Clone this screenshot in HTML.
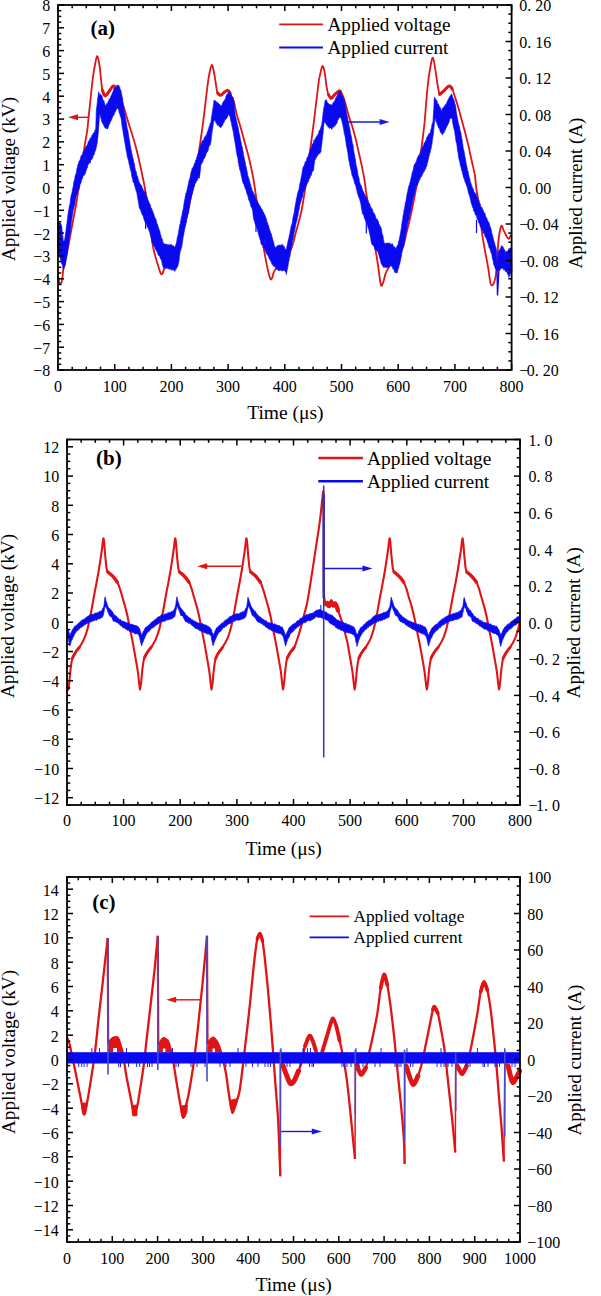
<!DOCTYPE html><html><head><meta charset="utf-8"><style>html,body{margin:0;padding:0;background:#fff;}svg{display:block;}text{font-family:"Liberation Serif",serif;fill:#000;}</style></head><body>
<svg width="601" height="1296" viewBox="0 0 601 1296">
<rect width="601" height="1296" fill="#fff"/>
<path d="M58.2,276C58.4,277.1 58.8,281.2 59.3,282.5C59.8,283.8 60.5,284.4 61,283.5C61.5,282.6 62.1,279.5 62.5,277C62.9,274.5 62.7,273 63.5,268.5C64.3,264 66.2,256.4 67.5,250C68.8,243.6 70.5,234.2 71.3,230C72.1,225.8 71.8,227.5 72.3,225C72.8,222.5 73.5,218.3 74.1,215C74.7,211.7 75.4,208.3 76,205C76.6,201.7 77,198.5 77.6,195C78.1,191.5 78.2,191.8 79.3,184C80.4,176.2 83,157 84.3,148C85.6,139 86.6,135.1 87.3,130C88,124.9 87.7,125.6 88.6,117.3C89.5,109 91.5,89 92.6,80C93.7,71 94.5,67 95.3,63C96.1,59 96.7,55.7 97.4,56.2C98.1,56.7 99,62 99.6,66C100.2,70 100.6,76 101.1,80C101.5,84 101.7,87.4 102.3,90C102.9,92.6 103.9,94.8 104.6,95.6C105.3,96.4 105.8,95.4 106.5,94.8C107.2,94.2 107.6,93.3 108.6,92C109.6,90.7 111.3,87.7 112.3,86.7C113.3,85.8 113.8,86.1 114.5,86.3C115.2,86.5 115.8,86.9 116.5,88C117.2,89.1 118.2,91.1 119,93C119.8,94.9 120.7,97.2 121.5,99.5C122.3,101.8 122.2,102.1 123.6,106.6C124.9,111.1 127.7,120.4 129.6,126.6C131.5,132.8 133.4,138.3 135,143.9C136.6,149.5 137.6,154 139,160C140.4,166 142.2,174.7 143.3,180C144.4,185.3 144.8,188 145.6,192C146.3,196 147.2,199.7 147.8,204C148.5,208.3 148.9,212.8 149.5,218C150.1,223.2 150.7,230.1 151.3,235C151.9,239.9 152.5,243.8 153.2,247.5C153.9,251.2 154.5,253.5 155.5,257C156.5,260.5 158.1,265.7 159,268.5C159.9,271.3 160.4,273.2 161,274C161.6,274.8 162,274.2 162.5,273.5C163,272.8 162.8,272.1 164,269.5C165.2,266.9 167.8,262.2 170,258C172.2,253.8 175.1,248 177,244C178.9,240 180.2,237.5 181.5,234C182.8,230.5 183.9,226.8 185,223C186.1,219.2 187.2,215 188.1,211.2C189,207.4 189.5,203.9 190.2,200.4C190.9,196.9 191.8,192.9 192.5,190C193.2,187.1 193.7,186 194.4,182.7C195.1,179.4 195.7,175.2 196.5,170C197.3,164.8 197.8,160.2 199,151.6C200.2,143 202.2,129.4 203.6,118.3C205,107.2 206.6,92.7 207.6,85C208.6,77.3 209,75.3 209.7,72C210.4,68.7 211.1,65.3 211.7,65C212.3,64.7 213,67.9 213.5,70C214,72.1 214.4,74.6 214.9,77.4C215.4,80.2 215.9,84.4 216.3,87C216.8,89.6 216.9,91.6 217.6,93C218.3,94.4 219.5,95.1 220.3,95.3C221.1,95.5 221.8,94.5 222.5,94C223.2,93.5 223.5,92.9 224.3,92.3C225.2,91.7 226.7,90.2 227.6,90.3C228.5,90.4 229.2,91.6 230,93C230.8,94.4 231.8,97 232.5,98.5C233.2,100 233.4,99.6 234.1,102.3C234.8,105 235.7,110.6 236.8,114.7C237.9,118.8 239.3,122.9 240.5,127C241.7,131.1 242.8,135.3 243.9,139.4C245,143.5 246.2,147.6 247.3,151.7C248.4,155.8 249.4,159.4 250.4,164.1C251.4,168.8 252.7,174.7 253.6,180C254.5,185.3 255.2,190.5 256,196C256.8,201.5 257.6,206.8 258.5,213C259.4,219.2 260.3,226.6 261.3,233.3C262.3,240 263.5,247 264.6,253.2C265.7,259.4 267,266.2 268,270.5C269,274.8 269.9,278.1 270.6,279.2C271.4,280.3 271.9,278.2 272.5,277C273.1,275.8 272.4,274.9 274,271.9C275.6,268.9 279.2,262.6 282,259C284.8,255.3 288.7,252.6 290.5,250C292.3,247.4 292.1,246.5 293,243.6C293.9,240.7 294.8,236.4 295.7,232.8C296.6,229.2 297.8,225.6 298.7,222C299.6,218.4 300.6,214.8 301.4,211.2C302.2,207.6 302.6,204.6 303.3,200.4C304,196.2 304.4,194.6 305.6,186C306.8,177.4 308.9,160.2 310.3,148.9C311.8,137.6 313,128.9 314.3,118.3C315.6,107.6 317.4,92.2 318.3,85C319.2,77.8 319.3,78 320,74.9C320.7,71.8 321.7,67 322.4,66.2C323.1,65.4 323.7,68.1 324.2,70C324.7,71.9 325,74.9 325.4,77.4C325.8,79.9 325.8,82.2 326.3,85C326.8,87.8 327.5,92.1 328.3,94.3C329.1,96.5 330.1,97.9 330.9,98.3C331.7,98.7 332.3,97.2 333,96.5C333.7,95.8 333.9,95.2 334.9,94.3C335.9,93.4 338,91.5 338.9,91C339.8,90.5 339.9,91 340.5,91.5C341.1,92 341.5,92.5 342.3,94.3C343.1,96.1 344.1,98.9 345.1,102.3C346.1,105.7 347.2,110.6 348.4,114.7C349.6,118.8 351.2,122.9 352.4,127C353.6,131.1 354.8,135.3 355.8,139.4C356.8,143.5 357.7,147.6 358.6,151.7C359.5,155.8 360.4,159.4 361.4,164.1C362.4,168.8 363.7,175.1 364.5,180C365.3,184.9 365.6,188.8 366.3,193.3C367,197.8 367.8,202.1 368.5,207C369.2,211.9 369.7,217.8 370.3,222.6C370.9,227.4 371.4,231.3 372.3,235.9C373.2,240.5 374.5,244.9 375.5,250C376.5,255.1 377.3,260.6 378.2,266.5C379.1,272.4 380.1,282.8 381,285.2C381.9,287.6 382.7,283.4 383.6,281.2C384.5,279 384.2,276.1 386.3,271.9C388.4,267.7 393.3,260 396,256C398.7,252 401.1,250.1 402.5,248C403.9,245.9 403.4,246.1 404.1,243.6C404.8,241.1 405.6,236.4 406.5,232.8C407.4,229.2 408.3,225.6 409.2,222C410.1,218.4 410.8,214.8 411.6,211.2C412.4,207.6 413.1,203.9 413.8,200.4C414.5,196.9 415.3,192.7 415.8,190C416.3,187.3 416.1,190.4 417,184C417.9,177.6 419.8,161.4 421,151.6C422.2,141.8 423.4,133.2 424.3,125C425.2,116.8 425.6,109.1 426.2,102.4C426.8,95.7 427.1,90.9 427.8,85C428.5,79.1 429.5,71.5 430.4,67C431.2,62.5 432,57 432.9,57.7C433.8,58.4 434.8,66.7 435.6,71.2C436.4,75.8 436.9,81.2 437.6,85C438.3,88.8 438.9,93 439.6,94.3C440.3,95.5 441.2,93.2 442,92.5C442.8,91.8 443.2,91.3 444.3,90.3C445.4,89.3 447.3,86.9 448.3,86.3C449.3,85.7 449.8,86 450.5,86.5C451.2,87 451.6,87.2 452.3,89C453.1,90.8 454,94 455,97C456,100 457.1,103.5 458.2,107.3C459.3,111.1 460.5,115.6 461.6,119.7C462.7,123.8 463.9,127.9 465,132C466.1,136.1 467.1,140.3 468.1,144.4C469.1,148.5 469.9,152.6 470.8,156.7C471.7,160.8 472.9,165.9 473.6,169.1C474.3,172.3 474.5,172.5 475,176C475.5,179.5 475.9,185.8 476.5,190C477.1,194.2 477.9,196.8 478.5,201C479.1,205.2 479.4,209.7 480,215C480.6,220.3 481.2,226.9 482,232.9C482.8,238.9 484,245.2 485,250.8C486,256.4 487.1,261.5 488,266.8C488.9,272.1 489.8,279.7 490.4,282.8C491,285.9 491.3,285.3 491.9,285.3C492.5,285.3 493.2,284.6 493.9,282.8C494.6,281.1 495.3,279.5 495.9,274.8C496.5,270.1 496.9,261.1 497.4,254.8C497.9,248.5 498.2,241.7 498.9,236.9C499.6,232.1 500.6,226.9 501.4,225.9C502.2,224.9 503,229.1 503.9,230.9C504.8,232.7 506.1,235.6 506.9,236.9C507.7,238.2 508.2,239.2 508.9,238.9C509.6,238.6 510.6,235.6 510.9,234.9" fill="none" stroke="#e01414" stroke-width="1.8" stroke-linejoin="round"/>
<path d="M102.3,90C102.7,90.9 103.9,94.8 104.6,95.6C105.3,96.4 105.8,95.4 106.5,94.8C107.2,94.2 107.6,93.3 108.6,92C109.6,90.7 111.3,87.7 112.3,86.7C113.3,85.8 113.8,86.1 114.5,86.3C115.2,86.5 116.2,87.7 116.5,88" fill="none" stroke="#e01414" stroke-width="3" stroke-linecap="round" stroke-linejoin="round"/>
<path d="M217.6,93C218.1,93.4 219.5,95.1 220.3,95.3C221.1,95.5 221.8,94.5 222.5,94C223.2,93.5 223.5,92.9 224.3,92.3C225.2,91.7 226.7,90.2 227.6,90.3C228.5,90.4 229.6,92.5 230,93" fill="none" stroke="#e01414" stroke-width="3" stroke-linecap="round" stroke-linejoin="round"/>
<path d="M328.3,94.3C328.7,95 330.1,97.9 330.9,98.3C331.7,98.7 332.3,97.2 333,96.5C333.7,95.8 333.9,95.2 334.9,94.3C335.9,93.4 338,91.5 338.9,91C339.8,90.5 340.2,91.4 340.5,91.5" fill="none" stroke="#e01414" stroke-width="3" stroke-linecap="round" stroke-linejoin="round"/>
<path d="M439.6,94.3C440,94 441.2,93.2 442,92.5C442.8,91.8 443.2,91.3 444.3,90.3C445.4,89.3 447.3,86.9 448.3,86.3C449.3,85.7 449.8,86 450.5,86.5C451.2,87 452,88.6 452.3,89" fill="none" stroke="#e01414" stroke-width="3" stroke-linecap="round" stroke-linejoin="round"/>
<path d="M58,221.1 58.5,221.3 58.9,221 59.4,222.3 59.8,222.6 60.2,222.9 60.7,224.1 60.8,223.5 61.1,224.5 61.6,225.5 61.9,227.8 62,229.1 62.5,234.6 62.7,235.4 63,237.5 63.4,242.2 63.6,241.5 63.9,240.9 64.3,240.4 64.4,240.3 64.8,238.9 65.2,236.1 65.7,232.1 65.9,231.4 66.1,229.6 66.5,226 67,223 67.1,221.4 67.5,218.9 67.9,214.9 68.3,212.3 68.4,211.7 68.8,209.7 69.2,206.8 69.7,204.7 70.2,202.5 70.6,198.5 71,195.9 71.1,195.9 71.5,194.1 72,192.6 72.4,190.4 72.8,188 73.3,186.1 73.7,182.7 73.8,183.2 74.2,180.4 74.7,179.3 75.1,176.3 75.5,174.5 76,174.3 76.5,172 76.9,168.7 77.3,167.7 77.8,164.8 78.2,164.1 78.4,164.2 78.7,162.3 79.2,160.9 79.6,160.8 80,160 80.5,158.4 81,156.1 81.4,155.4 81.8,155.5 81.9,155.1 82.3,154.6 82.8,153.9 83.2,151.5 83.7,151.9 84.1,150.2 84.5,149.6 85,149.2 85.5,147.3 85.9,147.6 86,146.3 86.3,146.8 86.8,145.4 87.2,145 87.7,144 88.2,141.8 88.6,141.3 89,141.5 89.5,139.5 90,140.1 90,139.5 90.4,138 90.8,137.6 91.3,137.8 91.8,135.2 92.2,136 92.7,135.1 93.1,133.2 93.5,133.3 94,132.6 94.1,132.9 94.5,132.1 94.9,130.3 95.3,130.2 95.7,128.8 95.8,126.5 96.2,114.2 96.4,109.1 96.7,107.5 97.2,103.5 97.6,99.1 98,96.6 98.4,93.3 98.5,91.8 99,92.5 99.4,94.2 99.8,94.8 100.3,94.2 100.8,94.3 101.2,96.3 101.7,95.3 102,95.8 102.1,96.6 102.5,98.1 103,99.9 103.5,101.2 103.9,100.4 104.2,102.5 104.3,102.2 104.8,104.5 105.2,104.8 105.3,105.4 105.7,105.5 106.2,105.2 106.6,103.5 107,104.2 107.5,103.3 108,102.1 108.1,101.3 108.4,101.1 108.8,100.9 109.3,98.6 109.8,99.1 110.2,98.5 110.7,97 111.1,95.7 111.2,96.2 111.5,95.2 112,93.8 112.5,92.4 112.9,92.2 113.3,90.7 113.8,88.7 114.1,87.7 114.2,88.3 114.7,87.8 115.2,87.6 115.6,88.1 116,88 116.5,87.6 117,85.4 117.4,85.5 117.6,84.8 117.8,86.6 118.3,85.1 118.5,85.3 118.8,85.3 119.2,87.2 119.7,86.8 120.1,89.7 120.5,89.8 120.6,89.5 121,91 121.5,93.4 121.9,95.4 122.3,97.3 122.6,98.2 122.8,101 123.2,104 123.6,106.5 123.7,107.1 124.2,110.6 124.6,112.4 125,114.7 125.5,117.9 125.8,119.5 126,120.8 126.4,122.9 126.8,125.4 127.3,128.9 127.8,130.3 128,131 128.2,132.4 128.7,135.4 129.1,138.7 129.6,140.7 130,143.6 130.1,144.5 130.4,145.4 130.9,149.2 131.3,150 131.8,153.7 132.2,154.8 132.6,156.7 132.7,157.7 133.2,158.7 133.6,161.1 134.1,162.9 134.5,164.3 134.9,167.6 135.4,170.1 135.8,171.2 136.3,172.1 136.8,174.7 137.2,176.4 137.7,176.6 138.1,178.8 138.6,180.9 138.6,180.2 139,182.1 139.4,182.2 139.9,184 140.3,184.3 140.8,184.4 141.2,185 141.7,185.9 142.2,187.7 142.6,188.1 143.1,189.5 143.5,190.7 143.9,190.8 144.4,190.9 144.8,191.7 145.3,192.8 145.3,192.4 145.8,194.8 146.2,196.1 146.7,196.6 147.1,198.1 147.6,199.3 148,200 148.4,200.7 148.9,202.1 149.3,203.5 149.8,203.6 150.2,204.4 150.7,206.6 150.8,207.5 151.2,208.5 151.6,207.9 152.1,210.7 152.5,210.5 152.9,211.9 153.4,213.5 153.8,213.7 154.3,216.3 154.8,217.2 155.2,217.7 155.7,219.7 156.1,219.2 156.2,220.5 156.6,222 157,223.7 157.4,224 157.9,225.8 158.3,227 158.8,228.4 159.2,229.6 159.7,230.7 160.2,232.8 160.2,233.9 160.6,234.5 161.1,236.5 161.5,238.1 161.9,238.6 162.4,239.4 162.8,241.8 163.3,243 163.8,244.1 163.8,243.5 164.2,244 164.7,244 165.1,243.8 165.6,244.7 166,244.1 166.4,244 166.9,245.8 167,244.1 167.3,244.6 167.8,245.8 168.2,245.1 168.7,244.8 169.2,244.3 169.6,245.4 170.1,245 170.5,244.4 170.9,244.6 171.4,244.3 171.6,245.3 171.8,245.1 172.3,246.3 172.8,245.5 173.2,245.6 173.7,246.3 174.1,246.5 174.6,247.8 175,246.7 175.4,246.8 175.6,246.9 175.9,246.4 176.3,243.7 176.4,244.4 176.8,240.7 177.2,238 177.7,236.2 178.2,234.4 178.6,231.4 179.1,228.9 179.5,226.2 179.9,224.4 180.3,223.5 180.4,221.5 180.8,220.8 181.3,217.1 181.8,216.1 182.2,213.6 182.7,210.4 183,210 183.1,209.5 183.6,206.4 184,203.6 184.4,201 184.9,198.9 185.3,196 185.8,194.5 185.9,193.1 186.2,193.4 186.7,191.4 187.2,188.9 187.6,187.6 188.1,184.9 188.4,183.7 188.5,183.5 188.9,181 189.4,179.7 189.8,178.3 190.3,176.3 190.8,173.5 191.2,171.5 191.7,171 191.7,169.5 192.1,168.3 192.6,168.2 193,167.1 193.4,166.8 193.9,165.1 194.3,164.1 194.8,162.9 195.2,163 195.7,160.1 195.7,160.9 196.2,159.8 196.6,157.6 197.1,156.6 197.5,155.3 197.9,153.5 198.4,153.3 198.8,150.9 199.3,149.7 199.8,147.2 200.2,145.8 200.7,145.7 201.1,143.8 201.2,144.4 201.6,143.1 202,141.5 202.4,140.6 202.9,140.7 203.3,140.2 203.8,139.7 204.2,138.1 204.7,136.7 205.2,137.5 205.6,135.5 206.1,136.2 206.5,135.1 206.6,134.8 206.9,132.9 207.4,132.3 207.8,130.9 208.3,129 208.8,128.6 209.2,126 209.7,125.9 210.1,123.7 210.6,122.9 211,121.6 211.4,117.9 211.9,115.1 212.3,112.2 212.4,111.8 212.8,108.8 213.2,106.4 213.7,103.2 214,100 214.2,100.1 214.6,100.7 215.1,100.4 215.5,101.2 215.9,101 216.4,102.6 216.8,101.9 217.3,102.2 217.6,102.2 217.8,103.5 218.2,104 218.7,103.2 219.1,105.1 219.6,104 220,104.6 220.4,106.6 220.9,106.8 221.3,105.1 221.8,105.3 222.2,104.8 222.7,102.6 223.2,102.7 223.6,101.2 224.1,101.8 224.1,101.2 224.5,99.7 224.9,100.1 225.4,98.9 225.8,97 226.3,95.6 226.8,94.6 227.2,95.3 227.3,94.3 227.7,93.3 228.1,93.2 228.6,92.2 229,92.5 229.4,92.1 229.6,91.8 229.9,92.6 230.3,92.5 230.8,93.5 231.2,94.4 231.7,96.2 232.2,97.1 232.6,98 232.9,97.3 233.1,97.6 233.5,99.5 233.9,102.9 234,103.2 234.4,105.5 234.8,111.2 235.2,114.2 235.3,115.5 235.8,117.2 236.2,119.1 236.7,121.2 237.1,122.8 237.6,126 238,126.6 238.4,128.5 238.9,132.1 239.3,133.8 239.8,135.4 240.2,138.3 240.5,140 240.7,141.1 241.2,142.6 241.6,145.8 242.1,146.2 242.5,148.6 242.9,151 243,151 243.4,153.5 243.8,156.3 244.3,158.2 244.8,160.7 245.2,162.1 245.4,163.5 245.7,165.8 246.1,166.6 246.6,169.1 247,171.2 247.4,173.2 247.9,176.2 248.3,176.7 248.8,178.2 249.1,179.6 249.2,179.9 249.7,181.4 250.2,183.5 250.6,184.3 251.1,187 251.5,187.9 251.9,189.1 252.4,191.5 252.5,191 252.8,191.3 253.3,192.4 253.8,194.2 254.2,193.9 254.7,195.5 255.1,197.2 255.6,197.6 256,198.8 256.4,199.9 256.9,201.3 257.4,201.1 257.6,202.3 257.8,202.5 258.2,203.1 258.7,203.3 259.1,205.8 259.6,205.3 260.1,205.6 260.5,207.2 260.9,207.6 261.4,208.9 261.9,209.3 262.3,209.5 262.8,211.2 263.2,212.1 263.6,211.9 264.1,213.7 264.6,215 265,215.2 265.4,217.1 265.9,217.4 266.4,219.2 266.6,219.4 266.8,221.6 267.2,221.9 267.7,222.9 268.1,225.7 268.6,225.3 269.1,228.1 269.2,228 269.5,229.5 269.9,230.3 270.4,231.5 270.9,234 271.3,233.6 271.8,236.1 272.2,237.3 272.6,238.4 272.6,239.1 273.1,241 273.6,242 274,244 274.4,246.3 274.6,246.2 274.9,247 275.4,247.4 275.8,246.9 276.2,247.2 276.7,246.9 277.1,245.6 277.6,246.3 278.1,245.2 278.5,245.4 278.6,246.8 278.9,244.9 279.4,244.9 279.9,246.5 280.3,244.8 280.8,245.7 281.2,245.5 281.6,244.4 282.1,245.8 282.6,245.2 282.6,244.3 283,245.3 283.4,246.4 283.9,246 284.4,247 284.8,248 285.2,249.6 285.7,249.2 286,250 286.1,249.8 286.6,248.2 287.1,245.3 287.5,244.2 287.9,241.6 288,241 288.4,239.6 288.9,238 289.3,235.3 289.8,233.7 290.2,230.9 290.6,229.4 291.1,226.5 291.3,225.7 291.6,224.9 292,223.7 292.4,221.7 292.9,217.9 293.4,215.9 293.8,214 294,213.6 294.2,212.3 294.7,208.8 295.1,206.3 295.6,203.6 296.1,200.8 296.4,198.5 296.5,199.2 296.9,197.3 297.4,194 297.9,192.4 298.3,190.6 298.8,190.5 298.9,189.9 299.2,187.9 299.6,185.2 300.1,182.5 300.6,181.2 301,178 301.4,176.5 301.9,174.2 302.4,170.6 302.8,168.5 303,167.3 303.2,167.3 303.7,166.1 304.1,165.6 304.6,164.3 305.1,162.5 305.5,161.3 305.9,161.8 306.4,160.7 306.9,158.3 307.1,158 307.3,157.3 307.8,157.2 308.2,155.7 308.6,154.9 309.1,152.6 309.6,152.3 310,150.6 310.4,148.8 310.9,149 311.4,147.4 311.8,145.8 312.2,144.3 312.7,144.2 313.1,143.2 313.6,142.5 313.9,140.1 314.1,141.5 314.5,140.8 314.9,139.1 315.4,138.5 315.9,137.4 316.3,137.5 316.8,135.8 317.2,136.4 317.6,135.4 318,134 318.1,134.9 318.6,133.3 319,131.3 319.4,130.3 319.9,130 320.4,129.1 320.8,127.5 321.2,125.7 321.7,125.3 322.1,122.1 322.6,117.2 323,114.2 323.1,113.1 323.5,110.2 323.9,107.4 324.4,105.5 324.9,101.8 325.3,100 325.3,100 325.8,100.3 326.2,99.7 326.6,100.3 327.1,102.1 327.6,102.4 328,102.9 328.4,103.4 328.9,103.8 329.4,104.2 329.8,104.9 330.2,104.5 330.7,104.3 331.1,105.2 331.6,104.9 332.1,104.8 332.5,104.8 332.9,102.9 333.4,102 333.9,102.4 334.3,102.2 334.8,100.5 335.2,99.8 335.4,99.5 335.6,98 336.1,97.7 336.6,96.4 337,96.9 337.4,94.9 337.9,93.5 338.4,93.9 338.7,93.1 338.8,91.8 339.2,91.3 339.7,92.8 340.1,91.5 340.4,92.4 340.6,91.6 341.1,92.8 341.5,94.6 341.9,95.6 342.4,95.5 342.8,97 342.9,96.5 343.3,98.5 343.8,99.9 344.2,99.9 344.6,101.8 344.7,102.3 345.1,104.5 345.6,106.6 346,109.2 346.4,111.3 346.9,114.9 347.4,116.4 347.8,119 348.2,120.9 348.7,123.3 349.1,125.6 349.3,126.2 349.6,127.6 350.1,130.4 350.5,132.9 350.9,134.8 351.4,136.8 351.8,139.6 351.9,139.8 352.3,142.9 352.8,144.2 353.2,146.2 353.6,150 354,152.4 354.1,152.9 354.6,155.1 355,158 355.4,159.3 355.9,163.8 356.1,164.5 356.4,166.2 356.8,167.4 357.2,169.5 357.7,173 358.1,175.6 358.4,176.1 358.6,176.9 359.1,178.5 359.4,181.9 359.5,182.1 359.9,183.1 360.4,184.2 360.9,185.4 361.3,185.6 361.8,187 362.2,188.9 362.6,190.2 363.1,191.1 363.6,192.5 364,192.5 364,193.4 364.4,193.9 364.9,194.3 365.4,195.9 365.8,197.3 366.2,196.9 366.7,197.8 367.1,199.9 367.6,200.4 368.1,200.5 368.5,202.4 368.6,203.2 368.9,204.2 369.4,203.3 369.9,204.5 370.3,206.2 370.8,206.8 371.2,207.8 371.6,209.1 372.1,208.6 372.6,210.2 373,211.9 373.3,213 373.4,212.4 373.9,213.4 374.4,213.5 374.8,214.5 375.2,215.6 375.7,217.4 376.1,218.3 376.6,218.9 377.1,219.9 377.4,219.3 377.5,220.3 377.9,221.1 378.4,221.3 378.9,223.8 379.3,224.3 379.8,226 380.2,225.8 380.6,228.3 380.9,227.3 381.1,228 381.6,229.9 382,233.1 382.4,234.6 382.9,235.5 383.4,239.2 383.8,241 384.2,243.5 384.3,243 384.7,243.7 385.1,243.1 385.6,244.1 386.1,243.1 386.5,243.7 386.9,242.7 387.4,244.2 387.9,242.7 388.3,243.9 388.8,243.1 388.9,243.1 389.2,243.9 389.6,242.7 390.1,243.8 390.6,243.9 391,244.5 391.4,244.1 391.9,243.9 392.3,243.5 392.4,244.3 392.8,244.3 393.2,246.2 393.7,246.4 394.1,246.9 394.6,246.7 395.1,247.7 395.5,248.7 395.6,250.2 395.9,248.7 396.4,247.1 396.9,247.1 397.3,245.6 397.8,244.8 398.2,244.8 398.3,242.6 398.6,241.3 399.1,240.3 399.6,237.2 400,235.7 400.4,233.3 400.5,232.7 400.9,230.5 401.4,227.4 401.8,224.2 402.1,221.7 402.2,221.6 402.7,219.2 403.1,215.6 403.6,213.8 404,210.3 404.1,210.8 404.5,207.9 404.9,206.1 405.4,202.6 405.9,201.5 405.9,201.1 406.3,199.1 406.8,195.6 407.2,193.2 407.6,192 408.1,189.2 408.6,186.6 409,185.4 409.4,184.7 409.9,182.7 410.4,181.1 410.8,179.4 411.2,177.1 411.7,176.1 412.1,172.7 412.6,171.9 413.1,170 413.5,168 413.9,166.1 414.4,164.3 414.9,164.2 415.3,163.3 415.8,162.2 416.2,162 416.6,160.3 417.1,158.7 417.6,157.2 418,156.6 418.4,155.9 418.9,155 419.4,155.2 419.8,153.6 420.2,152.6 420.7,151 421.1,151.2 421.2,150.4 421.6,149.4 422.1,147.9 422.5,146.8 422.9,146.2 423.4,146.2 423.9,144 424.3,142.7 424.8,142.5 425.2,141.9 425.6,140.6 426.1,140.3 426.6,138.2 426.7,137.3 427,137.8 427.4,136.6 427.9,135.5 428.4,136 428.8,133.7 429.2,133.6 429.7,133.6 430.1,133.1 430.5,132.1 430.6,131.1 431.1,128.9 431.5,127.7 431.9,124.6 432.4,123.8 432.9,121.7 433,121.8 433.3,114.9 433.8,108.9 434.2,99.6 434.4,96.9 434.6,97.4 435.1,98.2 435.6,99.7 436,99.2 436.4,99.9 436.9,101.1 437.4,102.4 437.8,104.2 438.2,103.7 438.6,105.4 438.7,104.4 439.1,106.5 439.6,106.6 440.1,106.9 440.5,109 440.9,109.1 441.4,110.8 441.6,111.2 441.9,110.6 442.3,108.3 442.8,107.8 443.2,107.8 443.6,107.8 444.1,106.5 444.6,105.7 445,105.8 445.4,104.8 445.4,104.3 445.9,105 446.4,103.7 446.8,102.2 447.2,102 447.7,100.6 448.1,99.3 448.6,99.2 449.1,97.6 449.4,97.5 449.5,96.7 449.9,96.6 450.4,95.5 450.9,96.1 451.3,94.3 451.6,95 451.8,93.8 452.2,95.6 452.6,97.1 453.1,98.3 453.6,99.1 454,100.1 454.2,100.5 454.4,101.5 454.9,104 455.4,104.8 455.7,106.6 455.8,107.2 456.2,111.1 456.7,114 457.1,116.6 457.6,118.9 458.1,121.5 458.5,123.3 458.9,125.4 459.4,126.3 459.9,129.3 460.3,131.7 460.6,131.5 460.8,132 461.2,134.9 461.6,137.7 462.1,140 462.6,143.4 462.8,144.2 463,146.4 463.4,148.8 463.9,150.7 464.4,153.1 464.8,155.8 465,157.6 465.2,157.6 465.7,160.3 466.1,163.2 466.6,165.4 467.1,167.5 467.4,169.6 467.5,170.5 467.9,171 468.4,173.1 468.6,174.7 468.9,175.2 469.3,177.7 469.8,178.6 470.2,181.4 470.6,182 471.1,184 471.6,184.9 471.9,188 472,186.7 472.4,188.8 472.9,188.8 473.4,188.8 473.8,191.5 474.2,191.8 474.7,192.5 475.1,193.3 475.6,194.6 476.1,193.7 476.3,194.4 476.5,195.6 476.9,196.8 477.4,197.5 477.9,199.7 478.3,200.8 478.8,200.2 479.2,202.5 479.6,203.2 480.1,203.5 480.4,204.1 480.6,205.4 481,206.8 481.4,207.6 481.9,207.2 482.4,208.2 482.8,210.5 483.2,210.1 483.7,212 484.1,212.7 484.3,213.7 484.6,212.8 485.1,213.6 485.5,216.2 485.9,216.4 486.4,218.3 486.9,217.9 487.3,220.6 487.4,220.8 487.8,220.3 488.2,222.2 488.6,222 489.1,223.1 489.6,224.4 490,226.6 490.4,227.1 490.9,228.3 491.4,230.9 491.8,233.2 492.2,234.6 492.5,235.3 492.7,235.3 493.1,238.1 493.6,239.9 494.1,241.6 494.5,242.6 494.9,244.1 495,245.2 495.4,246.1 495.9,247.5 496.3,249.8 496.5,251.3 496.8,259.8 497,267.1 497.2,264.7 497.4,262.4 497.6,259.2 498.1,255.8 498.4,251 498.6,251.8 499,250.8 499.4,249.9 499.9,249.9 500.4,247.9 500.8,247.7 501.2,246.8 501.4,245.4 501.7,247 502.1,246.8 502.6,246.1 503.1,247.4 503.2,247.4 503.5,247.7 503.9,249.6 504.4,249.4 504.9,250.4 505.1,252.9 505.3,252.1 505.8,251.5 506.2,252.2 506.6,251.1 507,252 507.1,252.5 507.6,251.1 508,250.2 508.4,250.1 508.9,248.8 509,248.4 509.4,248.8 509.8,248.7 510.2,247.8 510.7,248 511.1,248.1 511.5,247.1 512,271.3 511.6,272 511.1,272.9 510.7,273.7 510.2,273.4 509.8,275.7 509.4,276.3 509,276.9 508.9,277.5 508.4,275.7 508,274.8 507.6,273.8 507.1,273.4 506.9,271.1 506.6,271.8 506.2,271.6 505.8,271.4 505.3,271.7 505,270.3 504.9,269.8 504.4,269.6 503.9,270.2 503.5,269.3 503.1,268.7 503,268.7 502.6,268.1 502.1,268.5 501.7,267.4 501.2,268.6 501,267.8 500.8,268.9 500.4,269.4 499.9,268.5 499.5,270.9 499.4,269.1 499,270.4 498.6,269.9 498.1,269.8 497.6,270.1 497.5,271.6 497.2,271.1 496.8,269.4 496.3,269 495.9,269.4 495.6,268.1 495.4,268.9 494.9,267.3 494.5,266.4 494.1,264.9 493.8,264.1 493.6,264.5 493.1,260.7 492.7,259.4 492.2,257.5 491.8,254.3 491.4,253 490.9,252.5 490.4,250.6 490,249.1 489.6,247.9 489.1,247.9 488.6,245.6 488.4,244.9 488.2,243.7 487.8,243.4 487.3,241.3 486.9,240.6 486.4,238.6 485.9,237.7 485.5,237.7 485.1,236.3 484.6,234.5 484.6,234.6 484.1,233.8 483.7,233.1 483.2,233 482.8,231.1 482.4,229.9 481.9,229.7 481.4,227.7 481,227.6 480.6,226.8 480.6,227 480.1,226.2 479.6,223.8 479.2,222.7 478.8,223.1 478.3,220.9 477.9,219.3 477.4,219.6 476.9,217.9 476.6,216.7 476.5,216.5 476.1,215.1 475.6,215.1 475.1,214.1 474.7,212.3 474.2,211 473.8,211.2 473.4,210.4 473.4,208.7 472.9,207.9 472.4,206.9 472,205.3 471.6,204.4 471.1,202.5 470.6,200.1 470.4,199.4 470.2,198.3 469.8,196.7 469.3,195.3 468.9,194.3 468.4,192.5 467.9,190.3 467.5,188.6 467.1,187.1 466.6,185.4 466.4,185.5 466.1,184.5 465.7,183.3 465.2,182.3 464.8,180.9 464.4,178.8 463.9,178.6 463.4,177.2 463,174.8 462.9,174 462.6,174 462.1,171.3 461.6,170 461.3,168.4 461.2,168.4 460.8,166.3 460.3,165.5 459.9,162.4 459.4,160.8 458.9,158.7 458.5,156.9 458.1,153 457.6,150.9 457.1,146.7 456.7,143.5 456.2,142.5 455.8,140 455.4,136.8 454.9,133.6 454.6,131.6 454.4,130.3 454,129.1 453.6,127.6 453.1,125 452.6,122.5 452.2,119.1 451.8,118.1 451.8,116.5 451.3,118.5 450.9,118 450.5,118 450.4,117.8 449.9,119.1 449.5,119.8 449.1,122.2 448.6,123.2 448.1,124 447.7,124.9 447.2,126 446.8,126.6 446.6,127.5 446.4,127.6 445.9,128 445.4,130.2 445,129.4 444.6,131.1 444.1,132.8 443.6,132.3 443.2,133.5 442.8,134.6 442.3,134.7 441.9,134.3 441.4,133.1 440.9,133 440.5,132 440.1,131.4 439.6,129.2 439.1,128 438.7,127.7 438.6,128.2 438.2,126 437.8,126 437.4,124.7 436.9,123.3 436.4,122.2 436,121.8 435.6,119.3 435.1,118.1 435,118.5 434.6,121.6 434.2,126 433.8,129.5 433.6,132 433.3,134.8 432.9,136.9 432.4,140.1 431.9,144.5 431.6,145.4 431.5,145.8 431.1,148.6 430.6,149.8 430.1,152.7 429.7,153.5 429.2,155.7 428.8,157.2 428.4,159.3 428.2,159.3 427.9,161.5 427.4,163.2 427,164.8 426.6,166.7 426.1,166.6 425.6,169.2 425.2,168.6 424.8,170.1 424.3,171.4 423.9,171.8 423.4,171.7 422.9,174 422.5,173.8 422.1,175.2 421.9,174.6 421.6,176.9 421.1,176.5 420.7,176.9 420.2,178.3 419.8,179.5 419.4,180.3 418.9,181.2 418.4,182.9 418,183.6 417.6,185 417.1,185 416.6,185.6 416.2,186.1 416.2,186.3 415.8,187.7 415.3,189.5 414.9,191.6 414.8,191.3 414.4,194.4 413.9,196.1 413.5,197.1 413.1,199.1 412.8,199.7 412.6,202.1 412.1,203.5 411.7,206.6 411.2,207.7 410.8,210.9 410.6,210.9 410.4,213.3 409.9,214 409.4,216.9 409,219.4 408.6,219.9 408.2,221.1 408.1,222.4 407.6,224.3 407.2,226.4 406.8,229.2 406.3,230.8 406,233 405.9,234 405.4,235.7 404.9,239.7 404.5,242.2 404.1,242.7 404.1,243.5 403.6,245.9 403.1,247.3 402.7,249.5 402.2,251.9 401.8,253 401.7,254.1 401.4,256.4 400.9,258.1 400.4,261.2 400.3,261.5 400,262.6 399.6,264.5 399.1,265.6 398.6,268.4 398.2,268.6 397.8,270.6 397.3,272.2 397.2,273.2 396.9,272.2 396.4,272.5 395.9,273.1 395.5,271.2 395.1,272.8 394.8,271.7 394.6,272.1 394.1,270 393.7,268.7 393.2,269.4 392.8,268.4 392.4,267.1 391.9,266.8 391.6,264.9 391.4,265.6 391,266.4 390.6,265.8 390.1,265.2 389.6,265.6 389.2,267.3 388.8,267.1 388.3,266.9 387.9,267.3 387.6,267.8 387.4,267.4 386.9,267.3 386.5,267.8 386.1,267.7 385.6,267.7 385.1,267.1 384.7,267.1 384.2,267.4 384,267.1 383.8,267.6 383.4,267.3 382.9,266.1 382.4,265.3 382,264.8 381.6,264.4 381.5,264.3 381.1,263.5 380.6,261.1 380.2,259.7 379.8,258.2 379.4,257.3 379.3,256 378.9,255.2 378.4,254.1 378.1,252.4 377.9,252.1 377.5,251.2 377.1,251.3 376.6,250.2 376.1,250.5 375.7,249.8 375.2,248.3 374.8,249 374.8,247.6 374.4,247.5 373.9,246 373.4,246 373,244.6 372.6,244.9 372.1,244.7 371.6,243.2 371.5,243.6 371.2,241.7 370.8,239.4 370.3,236.3 369.9,234.9 369.4,232.7 369.1,231.3 368.9,229.8 368.5,229.1 368.1,228.1 367.6,225.8 367.1,223.7 366.7,224.1 366.5,222.3 366.2,222.3 365.8,221.7 365.4,220.4 364.9,218.9 364.4,218.6 364,216.4 363.6,215.1 363.1,214.4 362.6,213.3 362.4,213.8 362.2,212 361.8,210 361.3,207.7 360.9,204.1 360.4,202.1 359.9,200.6 359.5,198.5 359.1,198.3 358.6,196.9 358.1,195.2 357.7,194.1 357.2,192.5 357,189.9 356.8,190.3 356.4,189.1 355.9,186.3 355.4,185.5 355,183.7 354.6,183.5 354.1,180.8 353.6,179.6 353.6,179.6 353.2,178.6 352.8,176.6 352.3,176.3 352,175.5 351.9,174.7 351.4,171.9 350.9,169.7 350.5,168.5 350.1,165.9 349.7,164.9 349.6,163.3 349.1,161.5 348.7,159.5 348.2,155.8 347.8,152.4 347.5,151.9 347.4,150.4 346.9,147.4 346.4,146 346,142.1 345.6,140.7 345.4,138.6 345.1,136.7 344.6,134.5 344.2,133.6 343.8,129.9 343.3,127.8 343.2,127.6 342.9,125.3 342.4,123.8 341.9,121 341.5,120 341.1,118 341.1,118.1 340.6,117.5 340.1,117.8 339.7,116.4 339.7,117.6 339.2,117.8 338.8,118.4 338.4,119.2 337.9,120.2 337.4,120.8 337,123.3 336.6,123.5 336.1,123.9 335.8,124.5 335.6,125.5 335.2,125.2 334.8,125.6 334.3,126.4 333.9,126.2 333.4,127.3 332.9,127.1 332.5,127.8 332.1,129 331.6,129.4 331.1,127.8 330.7,127.8 330.2,127.7 329.8,128.3 329.4,128.6 328.9,127.5 328.9,127.7 328.4,126 328,127.1 327.6,125.3 327.1,125.4 326.6,125.3 326.2,124.4 325.8,123.6 325.3,122.1 324.9,122.6 324.4,122 324.3,121.3 323.9,124.3 323.5,127.8 323.1,133 322.9,134.2 322.6,137.5 322.1,141.3 321.7,145.3 321.2,147.9 320.9,152 320.8,151.8 320.4,152.5 319.9,153.7 319.4,153.4 319,153.8 318.6,154.1 318.1,154.7 317.6,155.9 317.2,155.8 316.8,156 316.3,158 315.9,157.5 315.4,159.7 314.9,160.2 314.7,160.1 314.5,162.5 314.1,164.9 313.6,170.1 313.1,171.2 312.7,171.1 312.2,171.7 311.8,172.9 311.4,175.2 310.9,175.8 310.4,175.4 310,177.7 309.9,176.9 309.6,178.9 309.1,178.4 308.6,181.3 308.2,182.1 307.8,181.8 307.3,183.4 306.9,184.2 306.4,184.9 305.9,187 305.5,187.1 305.1,188.2 304.6,189.9 304.1,190.6 304,191.5 303.7,191.6 303.2,193.3 302.8,196.1 302.4,197.1 301.9,198.3 301.4,199.4 301,201.7 300.6,201.6 300.5,203.4 300.1,204 299.6,206.2 299.2,209.5 298.8,210.7 298.3,213.5 297.9,216.4 297.4,217.3 297.2,219 296.9,220.4 296.5,222.3 296.1,222.9 295.6,225.7 295.1,228.4 294.7,230.4 294.2,232.4 293.9,233.6 293.8,234 293.4,237.5 292.9,239.7 292.4,240.9 292,244.6 291.6,246.8 291.2,249 291.1,248.7 290.6,252.8 290.2,254.8 289.8,257 289.3,258.4 289.2,260.2 288.9,260.7 288.4,263 287.9,266.8 287.5,268.4 287.1,270.6 286.6,272.9 286.4,274.6 286.1,272.7 285.7,272.2 285.2,271.8 284.8,270.8 284.4,270.4 284,269.7 283.9,269.8 283.4,271 283,270 282.6,271.2 282.1,269.7 281.6,270.8 281.2,270.5 280.8,270.2 280.3,270.3 279.9,269.6 279.4,271 278.9,270.2 278.6,269.5 278.5,270.9 278.1,269.5 277.6,269.7 277.1,268.4 276.7,269.7 276.2,267.9 275.8,267.5 275.4,266.9 274.9,266.8 274.4,266.6 274,266.9 273.9,266.1 273.6,265.4 273.1,265.9 272.6,263.9 272.2,264.6 271.8,264 271.3,262.2 270.9,260.7 270.7,261.3 270.4,260.2 269.9,259.1 269.5,259.5 269.1,257.9 268.6,257.3 268.1,255.5 267.7,255.3 267.4,254.1 267.2,254.9 266.8,254 266.4,252.8 265.9,252.7 265.4,250.1 265,250.2 264.7,250.2 264.6,248.3 264.1,247.8 263.6,247.9 263.2,247.6 262.8,245.5 262.3,245.1 261.9,245.2 261.4,244.5 260.9,243.4 260.9,242.9 260.5,240.3 260.1,239.7 259.6,237.7 259.1,236.5 258.7,234.8 258.2,232.8 257.8,231.2 257.4,229.8 256.9,228 256.4,226.3 256,225.9 255.6,224.9 255.1,223.3 254.7,222.2 254.2,220.5 253.8,219.4 253.5,218.1 253.3,216.8 252.8,212.2 252.7,210.3 252.4,210.2 251.9,207.9 251.5,207.3 251.1,207.1 250.6,205.1 250.2,203.4 250.1,203.2 249.7,201.8 249.2,200.4 248.8,200.3 248.3,197.8 247.9,196.4 247.4,194.3 247,194.4 246.6,192.4 246.1,190.8 245.7,189.1 245.2,188.6 244.8,187.3 244.3,186 243.8,183.5 243.4,183.9 242.9,182.6 242.5,180.7 242.4,180.9 242.1,179.5 241.6,176.5 241.2,175.9 241.2,175.5 240.7,172.4 240.2,170.7 239.8,169.9 239.3,166.9 238.9,166 238.7,163.6 238.4,162.9 238,159.4 237.6,157.2 237.1,155.8 236.7,152.9 236.5,152.3 236.2,150.8 235.8,147 235.3,144.6 234.8,141.2 234.4,139 233.9,136.5 233.5,133.3 233.1,131.1 232.6,128.9 232.2,126.8 232.2,127 231.7,125 231.2,122.1 230.8,120.9 230.3,118 230,116.2 229.9,116.1 229.4,116.1 229,114.5 228.9,114.4 228.6,114.4 228.1,114.7 227.7,116.9 227.2,116.9 226.8,118.2 226.3,118.9 225.8,118.8 225.4,119.7 225.1,120.1 224.9,119.1 224.5,121.1 224.1,122.2 223.6,123.2 223.2,122.4 222.7,125.1 222.2,125.8 221.8,125.2 221.3,127.2 220.9,127.4 220.4,127.6 220,126.7 219.6,127.1 219.1,126.2 218.7,125.7 218.2,124.7 217.8,124.8 217.5,125.6 217.3,124.5 216.8,124.3 216.4,122.6 215.9,123.2 215.5,120.7 215.1,120.7 214.6,120.6 214.3,119.9 214.2,120.4 213.7,121.8 213.2,125.1 212.9,126.9 212.8,128.1 212.3,130.9 211.9,133.4 211.4,137.4 211,141.6 210.9,141.6 210.6,143.1 210.1,145.2 209.7,145.3 209.2,146.3 208.8,147.2 208.3,149.7 207.8,151.3 207.4,151.5 207.4,151 206.9,152.2 206.5,153.4 206.1,153.6 205.6,156.1 205.2,157.1 204.7,157.5 204.2,158.7 203.8,159.1 203.3,159.4 202.9,161.5 202.4,162.3 202,163.5 201.6,163.8 201.1,164.6 200.9,164.9 200.7,167.8 200.2,171.4 199.8,175.4 199.6,177.1 199.3,178.2 198.8,178 198.4,177.7 197.9,178.2 197.5,180.1 197.1,180.6 196.6,180 196.3,181.7 196.2,181.5 195.7,182.9 195.2,183.4 194.8,184.2 194.3,186.9 193.9,187.3 193.7,188.8 193.4,189 193,190.8 192.6,192 192.1,194.6 191.7,195 191.2,197.6 190.8,199.7 190.5,200.1 190.3,201.4 189.8,204.6 189.4,207.5 188.9,208.6 188.7,212.2 188.5,211.4 188.1,214.5 187.6,215.3 187.2,217.6 186.7,219.6 186.3,222.6 186.2,221.4 185.8,224.7 185.3,226.7 184.9,227.7 184.4,231.1 184,232.6 183.9,233.8 183.6,235.2 183.1,237.4 182.7,240.8 182.2,243.9 181.8,246.5 181.3,248.1 180.8,250.3 180.4,250.9 179.9,252.9 179.8,255.1 179.5,255.5 179.1,260 178.6,262.7 178.5,261.7 178.2,264.4 177.7,266.9 177.7,266.4 177.2,266.1 176.8,268.3 176.3,268.4 175.9,269.6 175.4,268.8 175,271.4 174.6,270 174.1,270.8 173.7,270.2 173.2,270 172.8,269.4 172.3,269.3 171.8,270.6 171.4,269.2 170.9,268.8 170.5,269.3 170.3,269.4 170.1,269.7 169.6,269.3 169.2,268.6 168.7,269.2 168.2,268.1 167.8,268.7 167.3,267.8 166.9,267.8 166.4,268.5 166,268.4 165.6,268.5 165.1,267.3 164.7,268.3 164.2,267.4 163.8,267.5 163.6,268.2 163.3,267.4 162.8,266 162.4,265 161.9,262.4 161.5,260.2 161.1,259 161.1,259.5 160.6,258.6 160.2,258.6 159.7,256.1 159.2,256 158.8,255.5 158.3,255.3 157.9,254.2 157.4,252.7 157,251.4 156.7,251.2 156.6,250.8 156.1,250.8 155.7,249.2 155.2,248.9 154.8,246.8 154.3,246.5 153.8,246.1 153.4,244.6 152.9,243.6 152.5,243.2 152.3,243.1 152.1,242.7 151.6,240.2 151.2,238.2 150.7,235.9 150.2,234.8 149.8,232.7 149.3,231.6 149.1,231.1 148.9,230.5 148.4,228.8 148,227.1 147.6,227.6 147.1,226.4 146.7,224.6 146.2,223 145.8,223.7 145.3,222.6 144.8,221.4 144.6,219.6 144.4,220.4 143.9,219 143.5,217.7 143.1,216 142.6,215.1 142.2,214.9 141.7,213.1 141.2,212.2 140.8,210.6 140.3,209.7 139.9,208.2 139.4,208.4 139,205.8 138.6,202.9 138.1,200.3 138,200.2 137.7,197.9 137.2,195.3 137,193.8 136.8,192.7 136.3,191.6 135.8,189.7 135.4,188.8 134.9,186.3 134.5,185.8 134.1,183.3 133.6,182.2 133.2,182.3 133,182 132.7,179 132.2,177.9 131.8,176.3 131.3,172.6 130.9,171 130.4,169.7 130.4,168.9 130,168 129.6,164.9 129.1,164.6 128.7,161.4 128.2,160 127.8,158.1 127.3,157.3 126.8,153.1 126.4,151.7 126,149.8 125.5,145.7 125.2,145.1 125,143.1 124.6,141.7 124.2,138.4 123.7,136.1 123.2,132.7 123,131.9 122.8,129.9 122.3,127.6 121.9,125.2 121.5,120.9 121.2,119.1 121,118.1 120.5,116.8 120.1,115 119.7,114.1 119.7,113.8 119.2,112.9 118.8,110.6 118.3,109 118,107.7 117.8,109 117.4,108.1 117,108.5 116.5,108.9 116.4,108.9 116,110.2 115.6,111.2 115.2,112.2 114.7,112.5 114.2,114.1 113.9,114.8 113.8,113.4 113.3,116.1 112.9,115.9 112.5,117.4 112,118.5 111.5,119.5 111.1,120.8 110.7,121.3 110.7,121.9 110.2,121.7 109.8,123.5 109.3,124.6 108.8,125.1 108.4,127.2 108,127.3 107.7,129.3 107.5,127.8 107,129 106.6,128.1 106.2,127.2 105.7,128.5 105.2,127.9 104.9,127.8 104.8,127.8 104.3,126.2 103.9,125.9 103.5,125 103,123.1 102.5,123.9 102.1,121.5 101.8,122 101.7,121.1 101.2,119 100.8,118 100.3,115.3 99.9,115.2 99.8,114.6 99.6,113.4 99.4,116.9 99,123.1 98.5,129.7 98.3,132.7 98,135.5 97.6,139.6 97.2,143 96.9,144.4 96.7,145.7 96.2,147.8 95.8,149.3 95.3,151.1 94.9,151.7 94.5,153 94,155 93.5,155.1 93.1,155.9 92.7,158.1 92.2,158.7 91.9,158.6 91.8,159.6 91.3,159.5 90.8,160.4 90.4,162.6 90,163.3 89.5,162.5 89,163.8 88.6,163.7 88.2,164.6 87.7,165.7 87.3,167.6 87.2,166.5 86.8,168.7 86.3,170.5 85.9,171 85.5,173.2 85.4,173.2 85,174.2 84.5,174.4 84.1,175.5 83.7,174.7 83.2,176.3 82.8,176.4 82.3,179 82,177.9 81.8,180 81.4,180.8 81,182.9 80.5,183.7 80,184.6 79.6,187.3 79.2,188.3 78.7,189.8 78.2,189.8 77.8,191.4 77.3,193.3 76.9,195.1 76.5,195.5 76.2,196.2 76,197.4 75.5,199.6 75.1,202.9 74.7,204.7 74.2,206.4 73.8,208.2 73.6,209.1 73.3,210 72.9,211.4 72.8,213 72.4,215.3 72,218.3 71.5,221.6 71,225.8 71,225.8 70.6,229.2 70.2,232.9 69.7,235.9 69.2,238.6 69.2,239.4 68.8,243 68.3,246.2 67.9,249 67.5,253.1 67.3,253.4 67,256.3 66.5,258 66.1,260.6 65.7,262.9 65.2,265.8 64.8,265.5 64.3,267.2 63.9,269.1 63.5,269.5 63.4,269 63,268.2 62.5,265.6 62,264.1 61.6,263.5 61.4,262.4 61.1,262 60.7,259.9 60.2,258.2 59.8,257.5 59.4,255.8 59.4,256 58.9,253.8 58.5,254.2 58,253.1 57.5,251.8Z" fill="#0a0af0" stroke="#0a0af0" stroke-width="0.6" stroke-linejoin="round"/>
<line x1="145.6" y1="219" x2="145.6" y2="229" stroke="#0a0af0" stroke-width="1.2"/>
<line x1="256" y1="221" x2="256" y2="232" stroke="#0a0af0" stroke-width="1.2"/>
<line x1="366.3" y1="221" x2="366.3" y2="233.5" stroke="#0a0af0" stroke-width="1.2"/>
<line x1="476.5" y1="220" x2="476.5" y2="233" stroke="#0a0af0" stroke-width="1.2"/>
<path d="M497,268 L497.5,295.5 L499,268" fill="none" stroke="#0a0af0" stroke-width="1.4"/>
<line x1="88.4" y1="117.3" x2="77.5" y2="117.3" stroke="#e01414" stroke-width="1.4"/>
<path d="M68,117.3 L78,114.3 L78,120.3Z" fill="#e01414"/>
<line x1="347" y1="122" x2="380.1" y2="122" stroke="#1818e0" stroke-width="1.4"/>
<path d="M389.6,122 L379.6,119 L379.6,125Z" fill="#1818e0"/>
<line x1="279.2" y1="24.3" x2="322.9" y2="24.3" stroke="#e01414" stroke-width="1.8"/>
<line x1="279.2" y1="47.5" x2="322.9" y2="47.5" stroke="#0a0af0" stroke-width="2.2"/>
<text x="327.5" y="30.8" font-size="19.2">Applied voltage</text>
<text x="327.5" y="54" font-size="19.2">Applied current</text>
<path d="M67.5,682.8C67.6,683.7 68,691.2 68.4,689.6C68.8,688 69.9,675 70.4,670.8C70.9,666.6 71.7,660.7 72.4,658.3C73.1,655.9 74.5,654 75.4,652.5C76.3,651 78.1,649.3 79.3,647.4C80.5,645.5 83.3,640.8 84.3,638.3C85.4,635.8 86.7,632 87.5,629C88.3,626 89.5,620.4 90.4,616C91.2,611.6 93.2,600.4 94,596C94.8,591.6 95.8,586.6 96.5,583C97.1,579.4 98.3,573.3 99,569C99.7,564.7 101.1,555.1 101.7,551C102.3,546.9 103.1,537.7 103.6,538.3C104.1,538.9 104.8,551.5 105.2,555.5C105.6,559.5 106.2,566 106.5,568.2C106.9,570.4 107.2,571.1 107.8,572C108.4,572.9 110.1,573.8 110.9,574.6C111.8,575.4 113.3,576.8 114.1,577.8C115,578.8 116.6,580.8 117.3,582.2C118.1,583.6 119.3,586.6 119.9,588.6C120.6,590.6 121.8,595.1 122.5,597.5C123.1,599.9 124.4,603.9 125.1,606.4C125.7,608.9 126.9,613.5 127.6,616.6C128.2,619.7 129.4,626 130.1,629.4C130.8,632.8 132,638.5 132.7,642.1C133.4,645.7 134.5,652.2 135.2,656.1C135.9,660 137.1,666.9 137.8,671.4C138.5,675.9 139.6,689.7 140.2,689.6C140.8,689.5 141.7,675 142.2,670.8C142.7,666.6 143.5,660.7 144.2,658.3C144.9,655.9 146.3,654 147.2,652.5C148.1,651 149.9,649.3 151.1,647.4C152.3,645.5 155.1,640.8 156.1,638.3C157.2,635.8 158.5,632 159.3,629C160.1,626 161.3,620.4 162.2,616C163,611.6 165,600.4 165.8,596C166.6,591.6 167.6,586.6 168.3,583C168.9,579.4 170.1,573.3 170.8,569C171.5,564.7 172.9,555.1 173.5,551C174.1,546.9 174.9,537.7 175.4,538.3C175.9,538.9 176.6,551.5 177,555.5C177.4,559.5 177.9,566 178.3,568.2C178.6,570.4 179,571.1 179.6,572C180.2,572.9 181.8,573.8 182.7,574.6C183.5,575.4 185,576.8 185.8,577.8C186.7,578.8 188.3,580.8 189,582.2C189.8,583.6 190.9,586.6 191.6,588.6C192.3,590.6 193.4,595.1 194.1,597.5C194.8,599.9 196,603.9 196.7,606.4C197.4,608.9 198.5,613.5 199.2,616.6C199.8,619.7 201,626 201.7,629.4C202.3,632.8 203.6,638.5 204.2,642.1C204.9,645.7 206,652.2 206.7,656.1C207.4,660 208.6,666.9 209.3,671.4C210,675.9 211.1,689.7 211.7,689.6C212.3,689.5 213.2,675 213.7,670.8C214.2,666.6 215,660.7 215.7,658.3C216.3,655.9 217.7,654 218.7,652.5C219.6,651 221.4,649.3 222.5,647.4C223.7,645.5 226.4,640.8 227.5,638.3C228.6,635.8 229.8,632 230.6,629C231.4,626 232.6,620.4 233.5,616C234.3,611.6 236.2,600.4 237.1,596C237.9,591.6 238.9,586.6 239.5,583C240.2,579.4 241.3,573.3 242,569C242.7,564.7 244.1,555.1 244.7,551C245.3,546.9 246.1,537.7 246.6,538.3C247.1,538.9 247.8,551.5 248.2,555.5C248.6,559.5 249.2,566 249.5,568.2C249.9,570.4 250.2,571.1 250.8,572C251.4,572.9 253.1,573.8 253.9,574.6C254.8,575.4 256.3,576.8 257.1,577.8C258,578.8 259.6,580.8 260.3,582.2C261.1,583.6 262.3,586.6 262.9,588.6C263.6,590.6 264.8,595.1 265.5,597.5C266.1,599.9 267.4,603.9 268.1,606.4C268.7,608.9 269.9,613.5 270.6,616.6C271.2,619.7 272.4,626 273.1,629.4C273.8,632.8 275,638.5 275.7,642.1C276.4,645.7 277.5,652.2 278.2,656.1C278.9,660 280.1,666.9 280.8,671.4C281.5,675.9 282.6,689.7 283.2,689.6C283.8,689.5 284.7,675 285.2,670.8C285.7,666.6 286.5,660.7 287.2,658.3C287.9,655.9 289.4,653.7 290.2,652.5C291,651.3 292.4,651.3 293.4,649.4C294.4,647.5 296.5,641.6 297.6,638.3C298.7,635 300.8,627.7 301.7,624.4C302.6,621.1 303.8,616.3 304.5,613.3C305.2,610.3 306.4,607 307.3,602.2C308.2,597.4 310.3,584.2 311.4,577.2C312.5,570.2 314.5,556.8 315.6,549.4C316.7,542 318.8,529.4 319.8,521.7C320.8,514 322.6,494.9 323.1,492C323.6,489.1 323.5,493.6 323.6,500C323.7,506.4 323.7,528 323.7,540C323.7,552 323.6,581.5 323.8,590C324,598.5 325,602 325.5,603.5C326,605 327,601.4 327.5,601.5C328,601.6 328.5,604.2 329,604C329.5,603.8 330.7,600.1 331.3,600C331.9,599.9 332.7,603.2 333.3,603.5C333.9,603.8 335.1,601.5 335.8,602.5C336.5,603.5 337.5,608.3 338.3,610.9C339.1,613.5 341,618.7 342,622C343,625.3 345,632.9 345.7,635.6C346.4,638.3 346.8,639.4 347.3,642.1C347.9,644.8 349.1,652.2 349.8,656.1C350.5,660 351.7,666.9 352.4,671.4C353.1,675.9 354.2,689.7 354.8,689.6C355.4,689.5 356.3,675 356.8,670.8C357.3,666.6 358.1,660.7 358.8,658.3C359.5,655.9 360.9,654 361.8,652.5C362.7,651 364.5,649.3 365.7,647.4C366.9,645.5 369.6,640.8 370.7,638.3C371.7,635.8 372.9,632 373.7,629C374.5,626 375.8,620.4 376.6,616C377.5,611.6 379.4,600.4 380.2,596C381,591.6 382.1,586.6 382.7,583C383.4,579.4 384.5,573.3 385.2,569C385.9,564.7 387.3,555.1 387.9,551C388.5,546.9 389.3,537.7 389.8,538.3C390.3,538.9 391,551.5 391.4,555.5C391.8,559.5 392.4,566 392.8,568.2C393.1,570.4 393.5,571.1 394.1,572C394.7,572.9 396.4,573.8 397.2,574.6C398.1,575.4 399.6,576.8 400.5,577.8C401.4,578.8 403,580.8 403.7,582.2C404.5,583.6 405.7,586.6 406.4,588.6C407.1,590.6 408.2,595.1 408.9,597.5C409.6,599.9 410.9,603.9 411.6,606.4C412.3,608.9 413.5,613.5 414.1,616.6C414.8,619.7 416,626 416.7,629.4C417.4,632.8 418.6,638.5 419.3,642.1C420,645.7 421.2,652.2 421.9,656.1C422.6,660 423.8,666.9 424.5,671.4C425.2,675.9 426.4,689.7 427,689.6C427.6,689.5 428.5,675 429,670.8C429.5,666.6 430.4,660.7 431,658.3C431.7,655.9 433.2,654 434.1,652.5C435,651 436.9,649.3 438.1,647.4C439.3,645.5 442.1,640.8 443.2,638.3C444.3,635.8 445.5,632 446.3,629C447.1,626 448.4,620.4 449.3,616C450.1,611.6 452.1,600.4 452.9,596C453.8,591.6 454.8,586.6 455.5,583C456.1,579.4 457.3,573.3 458,569C458.7,564.7 460.1,555.1 460.8,551C461.4,546.9 462.2,537.7 462.7,538.3C463.2,538.9 463.9,551.5 464.3,555.5C464.7,559.5 465.3,566 465.6,568.2C465.9,570.4 466.3,571.1 466.9,572C467.5,572.9 469.2,573.8 470,574.6C470.8,575.4 472.3,576.8 473.2,577.8C474.1,578.8 475.6,580.8 476.4,582.2C477.2,583.6 478.3,586.6 479,588.6C479.7,590.6 480.8,595.1 481.5,597.5C482.2,599.9 483.4,603.9 484.1,606.4C484.8,608.9 485.9,613.5 486.6,616.6C487.3,619.7 488.4,626 489.1,629.4C489.8,632.8 491,638.5 491.7,642.1C492.4,645.7 493.5,652.2 494.2,656.1C494.9,660 496.1,666.9 496.8,671.4C497.5,675.9 498.6,689.7 499.2,689.6C499.8,689.5 500.7,675 501.2,670.8C501.7,666.6 502.5,660.7 503.2,658.3C503.9,655.9 505.3,654 506.2,652.5C507.1,651 508.9,649.3 510.1,647.4C511.3,645.5 514,640.8 515.1,638.3C516.2,635.8 517.6,631 518.2,629C518.8,627 519.3,623.9 519.5,623.2" fill="none" stroke="#e01414" stroke-width="2.1" stroke-linejoin="round"/>
<path d="M72.4,658.3C72.9,657.3 74.3,654.3 75.4,652.5C76.6,650.7 78.7,648.2 79.3,647.4" fill="none" stroke="#e01414" stroke-width="2.8" stroke-linecap="round"/>
<path d="M107.8,572C108.3,572.4 109.9,573.6 110.9,574.6C112,575.6 113.1,576.5 114.1,577.8C115.2,579.1 116.8,581.5 117.3,582.2" fill="none" stroke="#e01414" stroke-width="3.4" stroke-linecap="round"/>
<path d="M144.2,658.3C144.7,657.3 146.1,654.3 147.2,652.5C148.4,650.7 150.5,648.2 151.1,647.4" fill="none" stroke="#e01414" stroke-width="2.8" stroke-linecap="round"/>
<path d="M179.6,572C180.1,572.4 181.6,573.6 182.7,574.6C183.7,575.6 184.8,576.5 185.8,577.8C186.9,579.1 188.5,581.5 189,582.2" fill="none" stroke="#e01414" stroke-width="3.4" stroke-linecap="round"/>
<path d="M215.7,658.3C216.2,657.3 217.5,654.3 218.7,652.5C219.8,650.7 221.9,648.2 222.5,647.4" fill="none" stroke="#e01414" stroke-width="2.8" stroke-linecap="round"/>
<path d="M250.8,572C251.3,572.4 252.9,573.6 253.9,574.6C255,575.6 256.1,576.5 257.1,577.8C258.2,579.1 259.8,581.5 260.3,582.2" fill="none" stroke="#e01414" stroke-width="3.4" stroke-linecap="round"/>
<path d="M287.2,658.3C287.7,657.3 289.1,654.3 290.2,652.5C291.4,650.7 293.5,648.2 294.1,647.4" fill="none" stroke="#e01414" stroke-width="2.8" stroke-linecap="round"/>
<path d="M358.8,658.3C359.3,657.3 360.6,654.3 361.8,652.5C362.9,650.7 365,648.2 365.7,647.4" fill="none" stroke="#e01414" stroke-width="2.8" stroke-linecap="round"/>
<path d="M394.1,572C394.6,572.4 396.2,573.6 397.2,574.6C398.3,575.6 399.4,576.5 400.5,577.8C401.6,579.1 403.2,581.5 403.7,582.2" fill="none" stroke="#e01414" stroke-width="3.4" stroke-linecap="round"/>
<path d="M431,658.3C431.5,657.3 432.9,654.3 434.1,652.5C435.3,650.7 437.4,648.2 438.1,647.4" fill="none" stroke="#e01414" stroke-width="2.8" stroke-linecap="round"/>
<path d="M466.9,572C467.4,572.4 468.9,573.6 470,574.6C471.1,575.6 472.1,576.5 473.2,577.8C474.3,579.1 475.9,581.5 476.4,582.2" fill="none" stroke="#e01414" stroke-width="3.4" stroke-linecap="round"/>
<path d="M503.2,658.3C503.7,657.3 505.1,654.3 506.2,652.5C507.3,650.7 509.4,648.2 510.1,647.4" fill="none" stroke="#e01414" stroke-width="2.8" stroke-linecap="round"/>
<path d="M325.8,604C326.1,604.1 327,604.2 327.5,604.5C328,604.8 328.4,606.3 329,606C329.6,605.7 330.6,602.6 331.3,602.5C332,602.4 332.6,605.2 333.3,605.5C334.1,605.8 335,603.7 335.8,604.5C336.6,605.3 337.6,609.5 338,610.5" fill="none" stroke="#e01414" stroke-width="4.4" stroke-linecap="round" stroke-linejoin="round"/>
<path d="M67.5,628.5 68,629.1 68.1,629.2 68.4,630 68.8,631.8 69.3,633 69.8,635.6 69.9,635.5 70.2,634.3 70.7,633.6 71.1,632.2 71.5,632.1 71.8,631 72,631 72.5,629.8 72.9,628.9 73.3,628.7 73.4,628.3 73.8,627.9 74.2,626.7 74.7,626.5 75.2,626.8 75.6,625.6 76,626 76.5,625 76.6,625.5 77,625.3 77.4,623.9 77.8,624.3 78.3,624 78.8,622.7 79.2,622.4 79.7,622.8 80.1,621.6 80.5,621.7 80.7,621.4 81,621.7 81.5,620.5 81.9,620.5 82.3,619.8 82.8,619.5 83.2,619.9 83.7,619.4 84.2,619.3 84.6,619 85,618.8 85,618.5 85.5,617.8 86,618.2 86.4,617.1 86.8,617.2 87.3,616.9 87.8,616 88.2,616.1 88.7,616 89.1,615.5 89.2,615.2 89.5,615.8 90,614.6 90.5,615.6 90.9,614.6 91.3,614.3 91.8,615.1 92.2,614.1 92.7,614.4 93.2,614 93.3,614.7 93.6,614.6 94,614.3 94.5,613.2 95,614 95.4,613.2 95.8,612.8 96.3,612.7 96.8,613.3 97.2,613.2 97.5,612.9 97.7,612.5 98.1,613.1 98.5,612.1 99,611.8 99.5,611.5 99.9,612.2 100.3,610.9 100.8,611.7 101.2,611.2 101.6,610.7 101.7,610.1 102.2,609.9 102.6,608.3 103,607.8 103.5,607.2 103.7,606.8 104,605.2 104.4,602 104.8,598.6 105,596.9 105.3,597.5 105.8,600 106.2,601.7 106.6,601.9 106.7,602.6 107.1,604 107.5,605.5 108,606.3 108.3,606.9 108.5,607.5 108.9,608 109.3,608.9 109.8,608.4 110.2,609.9 110.7,609.9 111.1,609.9 111.2,610.8 111.6,610.7 112,611.1 112.5,612.1 113,612.5 113.4,613.9 113.8,614.2 114.3,615.1 114.8,614.9 114.9,615.8 115.2,615.9 115.7,615.6 116.1,616.1 116.5,616.3 117,617.3 117.5,617.7 117.9,617.7 118.2,618.3 118.3,618.6 118.8,618.8 119.2,619.4 119.7,619.5 120.2,619 120.6,619.4 121,620.1 121.5,620.6 121.5,620.8 122,621.3 122.4,621.3 122.8,620.9 123.3,621.1 123.8,621.9 124.2,621.6 124.7,621.9 124.9,622.1 125.1,622.2 125.5,622.2 126,622.8 126.5,622.5 126.9,623.2 127.3,623 127.8,622.8 128.2,623.1 128.3,623.5 128.7,622.9 129.2,623.4 129.6,623.6 130.1,624.4 130.5,623.9 130.9,624.4 131.4,624 131.6,624.3 131.8,624 132.3,624.4 132.8,624.4 133.2,625.1 133.7,624.9 134.1,625 134.6,625.1 134.9,625.8 135,625.2 135.4,625.4 135.9,625.8 136.3,625.6 136.8,625.8 137.2,626.5 137.7,626.7 138.2,627.3 138.3,626.6 138.6,627 139.1,628.2 139.5,628.7 139.9,629.3 139.9,629.5 140.4,631.6 140.8,632.4 141.3,634.1 141.7,635.3 141.8,635.5 142.2,634.2 142.7,632.9 143.1,632 143.6,630.9 143.6,631.6 144,630.7 144.4,629.5 144.9,628.4 145.2,628.3 145.3,627.7 145.8,627.3 146.2,627.6 146.7,626.6 147.2,626.5 147.6,626.3 148.1,625.8 148.4,625.2 148.5,625.3 148.9,624.9 149.4,624.8 149.8,623.9 150.3,623.6 150.8,622.9 151.2,622.6 151.7,622.6 152.1,621.5 152.5,622.2 152.6,621.7 153,621.5 153.4,621 153.9,621 154.3,619.8 154.8,620 155.2,620 155.7,619 156.2,619.3 156.6,618.4 156.8,618.5 157.1,618 157.5,617.2 157.9,617.1 158.4,617.3 158.8,616.5 159.3,616.4 159.8,616.4 160.2,616.4 160.7,615.5 161,615.3 161.1,614.8 161.6,614.7 162,614.9 162.4,615.1 162.9,614.3 163.3,615.2 163.8,615 164.2,614.3 164.7,614.1 165.1,614.5 165.2,613.9 165.6,613.5 166.1,614 166.5,613.8 166.9,613.9 167.4,613.7 167.8,612.7 168.3,613.3 168.8,612.5 169.2,612.4 169.3,612.8 169.7,613 170.1,611.9 170.6,612.3 171,612.1 171.4,612 171.9,611 172.3,611.3 172.8,611.4 173.2,610.9 173.4,611.3 173.7,610 174.2,609.4 174.6,608.6 175.1,607.2 175.5,606.2 175.9,603.9 176.4,599.9 176.8,597.4 176.8,596.8 177.3,598.5 177.8,600.7 178.2,602.2 178.4,602.9 178.7,602.7 179.1,604.8 179.6,605.7 180,607.1 180.1,607.1 180.4,607.6 180.9,607.9 181.3,609.1 181.8,608.8 182.2,609.9 182.7,610.1 182.9,610.5 183.2,611 183.6,611.3 184.1,612 184.5,612.8 184.9,612.9 185.4,613.8 185.8,615.1 186.3,615.4 186.6,615.7 186.8,615.2 187.2,615.6 187.7,616.4 188.1,617.4 188.6,616.8 189,617.6 189.4,617.8 189.9,618 189.9,618.1 190.3,618.6 190.8,618.4 191.2,619.4 191.7,619.7 192.2,619.4 192.6,620.5 193.1,620.7 193.2,620.2 193.5,621.3 193.9,620.6 194.4,621 194.8,621.5 195.3,621.9 195.8,621.6 196.2,621.7 196.5,622.7 196.7,622.4 197.1,622.4 197.6,622.6 198,623 198.4,623.3 198.9,622.9 199.3,622.8 199.8,623.8 199.9,623.6 200.2,623 200.7,623.2 201.2,623.5 201.6,624.4 202.1,623.7 202.5,623.5 202.9,623.6 203.1,624.1 203.4,624.9 203.8,624.2 204.3,625.1 204.8,624.8 205.2,624.6 205.7,625 206.1,625.9 206.4,625.9 206.6,625.1 207,626.3 207.4,625.9 207.9,626.3 208.3,626.8 208.8,626.4 209.2,627.3 209.7,627.4 209.8,627.2 210.2,628.1 210.6,628.8 211.1,628.9 211.4,629.3 211.5,629.5 211.9,631.9 212.4,633 212.8,634.6 213.2,635.4 213.3,635.2 213.8,633.6 214.2,633.2 214.7,632.6 215.1,630.8 215.1,631.4 215.6,630 216,629.3 216.4,627.9 216.7,627.9 216.9,627.6 217.3,627.6 217.8,626.9 218.2,626.8 218.7,625.8 219.2,625.6 219.6,625.7 219.8,625.3 220.1,625 220.5,624.2 220.9,624.5 221.4,623.5 221.8,623.1 222.3,623.5 222.8,622.4 223.2,622.7 223.7,622.3 223.9,621.5 224.1,621.8 224.6,620.7 225,620.8 225.4,620.6 225.9,619.7 226.3,620.3 226.8,619.1 227.2,619.5 227.7,619 228.1,617.8 228.2,618.1 228.6,618.3 229.1,618.1 229.5,616.8 229.9,616.8 230.4,616.3 230.8,616.8 231.3,615.9 231.8,615.9 232.2,615.8 232.3,615.6 232.7,615.1 233.1,615.3 233.6,615.1 234,615.3 234.4,614.3 234.9,614.4 235.3,614.1 235.8,614.4 236.2,613.7 236.4,614.1 236.7,613.9 237.2,613.8 237.6,613.5 238.1,613.7 238.5,614 238.9,613.9 239.4,613.6 239.8,613.6 240.3,612.5 240.5,612.9 240.8,612.5 241.2,613.2 241.7,612.4 242.1,611.6 242.6,611.7 243,611.7 243.4,611.4 243.9,611.6 244.3,611.3 244.6,611.2 244.8,610.6 245.2,609.7 245.7,608.2 246.2,608.1 246.6,607.1 246.7,606.9 247.1,604.5 247.5,601.2 247.9,598 248,597.1 248.4,598.9 248.8,599.3 249.3,601.4 249.7,602 249.8,602.5 250.2,603.7 250.7,605.2 251.1,605.9 251.4,607.8 251.6,607.2 252,608.2 252.4,608.2 252.9,608.6 253.3,609.7 253.8,610.1 254.2,610.8 254.3,610.6 254.7,611.4 255.2,611.6 255.6,611.5 256.1,612.9 256.5,613.5 256.9,614 257.4,614.8 257.9,614.9 258.2,615.3 258.3,616.1 258.8,616.4 259.2,616.2 259.6,616.2 260.1,617 260.6,617.6 261,617.3 261.4,618.8 261.6,618.8 261.9,618.2 262.4,618.9 262.8,619.7 263.2,619.4 263.7,619.2 264.1,620 264.6,620.5 264.9,621.1 265.1,621.2 265.5,620.4 265.9,621.1 266.4,620.8 266.9,622.1 267.3,622.1 267.8,622.5 268.2,622.4 268.3,622.8 268.6,622.7 269.1,622.6 269.6,622.9 270,623.3 270.4,623.5 270.9,622.5 271.4,623.6 271.8,623.3 271.8,623.4 272.2,623.4 272.7,624.1 273.1,623.9 273.6,624.3 274.1,623.9 274.5,623.6 274.9,624.1 275.2,623.9 275.4,624.7 275.9,625.1 276.3,624.7 276.8,624.9 277.2,625 277.6,625.4 278.1,625.3 278.6,625.3 278.6,625.1 279,626 279.4,626 279.9,625.7 280.4,626.6 280.8,627 281.2,626.9 281.7,627.3 282.1,626.7 282.1,626.7 282.6,628.1 283.1,629 283.5,629.8 283.7,629.9 283.9,630.9 284.4,631.9 284.9,633.2 285.3,635 285.6,636 285.8,634.8 286.2,634.6 286.6,633.3 287.1,632.2 287.5,631.2 287.6,631.4 288,630.2 288.4,629.5 288.9,628.1 289.1,627.9 289.4,627.3 289.8,627.2 290.2,626.7 290.7,626.5 291.1,626.2 291.6,625.4 292.1,625.2 292.4,624.5 292.5,624.7 292.9,624.3 293.4,624.5 293.9,623.5 294.3,623.6 294.8,623.6 295.2,623.3 295.6,622.8 296.1,622.3 296.6,621.5 296.6,621.9 297,621.8 297.4,620.7 297.9,620.6 298.4,620.8 298.8,620.5 299.2,620 299.7,619.4 300.1,618.5 300.6,618 300.9,618.2 301.1,618.5 301.5,618 301.9,617.8 302.4,617.5 302.9,617.6 303.3,616.6 303.8,616 304.2,615.8 304.6,616.3 305.1,615.5 305.2,615.8 305.6,615.1 306,615.2 306.4,614.5 306.9,614.5 307.4,615.2 307.8,614.8 308.2,614 308.7,614.4 309.1,614.3 309.4,614.2 309.6,613.7 310.1,613.4 310.5,613.8 310.9,613.1 311.4,613.4 311.9,613.9 312.3,612.9 312.8,613.3 313.2,613.6 313.6,612.4 313.8,613.5 314.1,612.4 314.6,612 315,611 315.4,611.1 315.9,610.8 316,610.6 316.4,610.6 316.8,610.1 317.2,610.3 317.7,609.7 318.1,610.3 318.6,610 319,610.1 319.1,609.2 319.5,609.5 319.9,609.5 320.4,609.9 320.9,610.2 321.3,610.6 321.5,609.8 321.8,610.3 322.2,611.1 322.6,611.1 323.1,611.4 323.6,610.8 324,610.8 324.4,611.9 324.9,611.4 325.4,612.2 325.8,611.9 326.2,611.9 326.5,612.4 326.7,612.3 327.1,613.1 327.6,613.8 328.1,613.5 328.5,613.7 328.8,614.4 328.9,614.2 329.4,614.4 329.9,614.9 330.3,614.8 330.8,614.8 331,614.8 331.2,614.7 331.6,615.5 332.1,615.1 332.6,615.7 333,616 333.4,616.6 333.9,617 334.2,617.5 334.4,617.2 334.8,618.1 335.2,618.1 335.7,618.4 336.1,618.9 336.6,619.5 337.1,620.1 337.4,620.4 337.5,620.1 337.9,620.1 338.4,620.1 338.9,620.4 339.3,621.2 339.8,620.7 340.2,621.8 340.6,621.5 340.7,622.3 341.1,621.6 341.6,621.9 342,621.7 342.4,621.9 342.9,622.3 343.4,622.3 343.8,622.6 344,622.8 344.2,623.4 344.7,623.2 345.1,622.9 345.6,623.9 346.1,623.1 346.5,623.8 346.9,624.2 347.2,624.7 347.4,624.4 347.9,624.8 348.3,624.5 348.8,624.4 349.2,624.6 349.6,625.1 350.1,625.6 350.4,626.1 350.6,625.4 351,625.8 351.4,625.8 351.9,626.4 352.4,626 352.8,627 353.2,627 353.7,627.3 353.7,626.9 354.1,627.2 354.6,628.8 355.1,629 355.3,629.3 355.5,630.6 355.9,632.3 356.4,633.3 356.9,634.4 357,635 357.3,634.6 357.8,633.9 358.2,632.8 358.6,631.6 358.9,630.5 359.1,630.8 359.6,630 360,628.8 360.4,627.5 360.5,628.4 360.9,628.1 361.4,627.6 361.8,626.6 362.2,626.2 362.7,626.2 363.1,625.8 363.6,624.9 363.6,624.8 364.1,624.4 364.5,623.9 364.9,624.4 365.4,623.5 365.9,622.7 366.3,622.1 366.8,622.5 367.2,621.5 367.6,621.4 367.6,621 368.1,621.5 368.6,620.6 369,620 369.4,620.1 369.9,620.2 370.4,619.7 370.8,619.4 371.2,619.1 371.7,618.7 371.7,618.1 372.1,618.4 372.6,617.3 373.1,617 373.5,616.6 373.9,616.3 374.4,616.1 374.9,615.5 375.3,615.2 375.8,615.3 375.8,614.8 376.2,615.7 376.6,615.6 377.1,615.5 377.6,615.2 378,614.8 378.4,614.6 378.9,614.2 379.4,613.9 379.8,614.6 379.8,614.2 380.2,613.9 380.7,614 381.1,614.2 381.6,613.4 382.1,613.6 382.5,613.1 382.9,613.2 383.4,612.5 383.9,612.4 384.3,613.2 384.8,612.1 385.2,611.9 385.6,612.2 386.1,612.2 386.6,611.5 387,611.4 387.4,610.7 387.9,610.3 387.9,610.8 388.4,610 388.8,608.9 389.2,607.7 389.7,606.7 389.9,606.5 390.1,605.1 390.6,601.8 391.1,597.9 391.2,597.1 391.5,598.5 391.9,599.6 392.4,601.3 392.9,602.3 393.3,604.2 393.8,605.3 394.2,606.7 394.6,607.3 394.6,606.8 395.1,607.8 395.6,608.5 396,608.3 396.4,609.8 396.9,609.9 397.4,609.8 397.4,610.9 397.8,610.5 398.2,611.6 398.7,612.6 399.1,612.9 399.6,613.3 400.1,614 400.5,614.5 400.9,615.6 401.3,615.9 401.4,615.1 401.9,616.1 402.3,616.4 402.8,617.3 403.2,617.4 403.6,616.9 404.1,617.6 404.6,618.2 404.7,618.8 405,618.7 405.4,618.5 405.9,619.2 406.4,619.3 406.8,619.3 407.2,619.9 407.7,620.2 408,621.2 408.1,621.2 408.6,620.6 409.1,621.2 409.5,620.9 409.9,621.2 410.4,621.3 410.9,622.2 411.3,621.7 411.4,622 411.8,621.9 412.2,623 412.6,622.3 413.1,622.9 413.6,622.4 414,622.5 414.4,623.5 414.9,623.4 414.9,623.6 415.4,623.5 415.8,623.8 416.2,623.5 416.7,624.3 417.1,624.4 417.6,624.2 418.1,624.8 418.2,624.4 418.5,623.9 418.9,624.1 419.4,625.1 419.9,625.5 420.3,624.7 420.8,624.7 421.2,625.3 421.6,626 421.6,625.9 422.1,625.3 422.6,625.5 423,626.7 423.4,626.7 423.9,626.6 424.4,627 424.8,626.6 425,627.2 425.2,627 425.7,628.5 426.1,628.8 426.6,628.9 426.7,629.4 427.1,631.4 427.5,632.8 427.9,633.6 428.4,635.4 428.5,635.7 428.9,634.7 429.3,633.5 429.8,632 430.2,631.8 430.4,630.9 430.6,630.9 431.1,629.7 431.6,628.6 432,628.5 432.1,628 432.4,627.4 432.9,627.8 433.4,626.5 433.8,626.5 434.2,626 434.7,625.4 435.1,624.8 435.3,625.5 435.6,624.8 436.1,625 436.5,624.2 436.9,623.9 437.4,623.9 437.9,623.2 438.3,622.6 438.8,622 439.2,621.3 439.5,621.8 439.6,621.4 440.1,620.9 440.6,620.3 441,619.9 441.4,619.5 441.9,620 442.4,619.8 442.8,618.5 443.2,619.2 443.7,618.4 443.8,618 444.1,618 444.6,617.9 445.1,616.9 445.5,617.4 445.9,616.8 446.4,616.1 446.9,616.6 447.3,616.1 447.8,615.6 448,615.3 448.2,615.7 448.6,615.3 449.1,615.6 449.6,615.4 450,615 450.4,615.1 450.9,613.9 451.4,614.7 451.8,614.5 452.2,613.8 452.2,613.8 452.7,614.2 453.1,613.4 453.6,613.6 454.1,613.7 454.5,613.3 454.9,613.6 455.4,613.5 455.9,612.6 456.3,613 456.5,612.4 456.8,613.2 457.2,613 457.6,612.9 458.1,611.8 458.6,611.8 459,612.2 459.4,612 459.9,610.8 460.4,611 460.7,610.4 460.8,611.1 461.2,609.5 461.7,609.2 462.1,607.6 462.6,606.9 462.8,606.5 463.1,605.1 463.5,600.9 463.9,598.7 464.1,597.6 464.4,597.9 464.9,600.1 465.3,601.7 465.7,602.5 465.8,602.5 466.2,603.4 466.6,604.9 467.1,607 467.4,607.1 467.6,607 468,608.4 468.4,608.1 468.9,609.2 469.4,609.6 469.8,610.5 470.2,610 470.2,610.4 470.7,610.5 471.1,611.7 471.6,612.7 472.1,613.2 472.5,613.8 472.9,613.6 473.4,615.1 473.9,615.9 474,615.8 474.3,616.4 474.8,616.3 475.2,616.4 475.6,616.8 476.1,617.7 476.6,618.1 477,618.1 477.3,618.1 477.4,618.5 477.9,618.6 478.4,618.5 478.8,619.8 479.2,619.9 479.7,620 480.1,620.2 480.6,620.1 481.1,620.8 481.5,620.9 481.9,621.4 482.4,621.2 482.9,621.4 483.3,622.2 483.8,622.7 483.9,622.6 484.2,622.6 484.6,622.1 485.1,622.9 485.6,622.6 486,622.7 486.4,622.5 486.9,623.6 487.3,623 487.4,623.5 487.8,623.9 488.2,623.4 488.7,623.3 489.1,623.8 489.6,624.5 490.1,623.6 490.5,624.4 490.6,624.1 490.9,624.2 491.4,624.9 491.9,624.9 492.3,625.2 492.8,625.6 493.2,625.8 493.6,625.2 493.9,625.7 494.1,625.2 494.6,626.4 495,626.3 495.4,626.6 495.9,625.9 496.4,626.3 496.8,626.3 497.2,627 497.3,627.5 497.7,627.8 498.1,628.7 498.6,629.7 498.9,629.5 499.1,630.3 499.5,632 499.9,633 500.4,634 500.7,635 500.9,635.2 501.3,634.6 501.8,632.7 502.2,632.4 502.6,631 502.6,631.4 503.1,629.5 503.6,629.2 504,628.5 504.2,628.3 504.4,627.7 504.9,626.8 505.4,627 505.8,626.8 506.2,626.1 506.7,625.2 507.1,625.4 507.4,624.8 507.6,624.3 508.1,624.7 508.5,623.7 508.9,623.7 509.4,623.8 509.9,623.5 510.3,622.1 510.8,622.3 511.2,621.9 511.5,621.1 511.6,621.4 512.1,621.1 512.5,621 513,620.1 513.5,620.4 513.9,619.7 514.4,619.1 514.8,618.9 515.2,619.1 515.7,618.7 516.1,617.8 516.6,617.4 517,617.8 517.5,616.5 518,617.2 518.4,616.8 518.9,616.6 519.3,615.9 519.5,615.5 519.5,622.9 519.3,622.6 518.9,622.4 518.4,622.8 518.2,623.2 518,623 517.5,623.4 517,623.4 516.6,624.3 516.1,624.7 515.7,624.9 515.2,625.2 514.8,625.1 514.4,625 514,625.5 513.9,625.4 513.5,625.9 513,626.5 512.5,627.3 512.1,627.3 511.6,628 511.2,628.5 510.8,627.8 510.3,629 509.9,629.4 509.9,629.6 509.4,629.1 508.9,629.8 508.5,630.3 508.1,630.6 507.6,631.8 507.1,632 506.7,632.3 506.2,632.9 505.8,632.8 505.7,632.9 505.4,634.6 504.9,635.1 504.4,635.5 504,637.4 503.6,637.6 503.1,638.8 502.6,640 502.6,640.2 502.2,640.8 501.8,643.1 501.3,643.7 500.9,645.6 500.6,646.5 500.4,645 499.9,643.1 499.5,640.6 499.1,638.7 498.6,636.7 498.1,635.4 497.7,635.2 497.2,634.9 496.8,634.9 496.6,634.7 496.4,634.4 495.9,633.6 495.4,633.5 495,633.4 494.6,634.1 494.1,632.9 493.9,633.3 493.6,633.4 493.2,632.7 492.8,633 492.3,632.8 491.9,632.2 491.4,632.1 490.9,631.7 490.6,631.8 490.5,631.4 490.1,631.1 489.6,631.7 489.1,630.9 488.7,630.6 488.2,631.3 487.8,630.6 487.4,630.2 487.3,630.4 486.9,629.7 486.4,629.3 486,629.1 485.6,629.2 485.1,629.4 484.6,629.1 484.2,629.3 483.9,628.8 483.8,628.2 483.3,628.6 482.9,627.3 482.4,627.8 481.9,626.9 481.5,626.9 481.1,626.9 480.6,626.1 480.1,626 479.7,626.2 479.2,624.9 478.8,625.2 478.4,624.3 477.9,624.2 477.4,624.3 477.3,623.1 477,623.9 476.6,623.3 476.1,623 475.6,623.1 475.2,622.3 474.8,622.4 474.3,622 473.9,621.2 473.4,621.8 472.9,620.8 472.6,621.5 472.5,621 472.1,620.4 471.6,618.6 471.1,617.7 470.7,616.6 470.6,616.8 470.2,616.8 469.8,616.1 469.4,615.8 468.9,616.3 468.4,615.5 468.2,614.9 468,615.1 467.6,613.2 467.1,612.7 466.6,610.5 466.6,611.1 466.2,609.7 465.8,608.3 465.3,608.2 464.9,607 464.5,605.4 464.4,606.7 463.9,608.5 463.5,609.6 463.2,611.4 463.1,611.1 462.6,614 462.1,616.1 462,617.2 461.7,617.2 461.2,616.7 460.8,618 460.4,617.6 459.9,618.1 459.4,617.9 459,618.7 459,619 458.6,619.1 458.1,618.5 457.6,619.3 457.2,618.7 456.8,619.4 456.3,619.5 455.9,619.2 455.4,619.7 454.9,619.5 454.8,619.5 454.5,620 454.1,619.8 453.6,620.3 453.1,620.8 452.7,620.9 452.2,620.4 451.8,620.8 451.4,621.1 450.9,620.5 450.6,621.1 450.4,621.2 450,621.6 449.6,621.5 449.1,621.9 448.6,621.9 448.2,621.9 447.8,622.5 447.3,622.6 446.9,622.8 446.4,622.4 446.3,623.3 445.9,622.6 445.5,623.8 445.1,623.8 444.6,623.5 444.1,624.8 443.7,624.9 443.2,624.7 442.8,624.8 442.4,625.4 442,625.8 441.9,625.8 441.4,625.9 441,626.2 440.6,627.4 440.1,627.7 439.6,627.6 439.2,627.7 438.8,628.7 438.3,628.3 437.9,629.5 437.9,629.3 437.4,630 436.9,629.9 436.5,630.9 436.1,630.3 435.6,631.3 435.1,632.3 434.7,632.7 434.2,632.2 433.8,632.7 433.6,633.9 433.4,634.2 432.9,634.8 432.4,635.3 432,637.3 431.6,637.8 431.1,638.5 430.6,639.3 430.4,640.2 430.2,640.7 429.8,642.3 429.3,642.9 428.9,645.2 428.4,646.1 428.4,646.1 427.9,643.4 427.5,641.5 427.1,639.7 426.6,638.1 426.4,636.4 426.1,636.7 425.7,635.7 425.2,635.8 424.8,634.2 424.4,634 424.3,634.6 423.9,633.8 423.4,633.8 423,634.4 422.6,634.1 422.1,633.4 421.6,633.2 421.6,633.4 421.2,632.9 420.8,633.5 420.3,632.6 419.9,632.4 419.4,632.4 418.9,632.5 418.5,631.7 418.2,631.5 418.1,632.1 417.6,631.8 417.1,631.3 416.7,630.8 416.2,630.5 415.8,630.8 415.4,630.9 414.9,630 414.9,630.1 414.4,629.7 414,630.1 413.6,629.5 413.1,628.9 412.6,628.9 412.2,629.2 411.8,628.9 411.4,628.3 411.3,628.2 410.9,627.8 410.4,627.8 409.9,627.3 409.5,627.5 409.1,627.1 408.6,626.2 408.1,626.9 408,626.6 407.7,625.8 407.2,625.6 406.8,625.8 406.4,624.8 405.9,625.1 405.4,624.3 405,624.4 404.7,623.2 404.6,623.1 404.1,623 403.6,622.5 403.2,623.3 402.8,623 402.3,622.7 401.9,622 401.4,621.3 400.9,622.2 400.5,621.5 400.1,621.5 399.9,620.7 399.6,620.5 399.1,620.2 398.7,618.6 398.2,617.6 397.8,617.1 397.8,617.4 397.4,616.2 396.9,616 396.4,615.7 396,615.4 395.6,615.7 395.4,615.1 395.1,614.6 394.6,613 394.2,612.4 393.8,610.3 393.8,610.9 393.3,610.1 392.9,608.9 392.4,607.8 391.9,606.7 391.6,605.7 391.5,606 391.1,607.9 390.6,610 390.3,610.8 390.1,611.1 389.7,613.3 389.2,615.7 389.1,617.2 388.8,617.3 388.4,617.7 387.9,617.3 387.4,617.9 387,617.6 386.6,618 386.3,618.4 386.1,619.1 385.6,618.5 385.2,618.5 384.8,619.5 384.3,619.2 383.9,619.3 383.4,619.4 382.9,619.9 382.5,620.2 382.2,620.4 382.1,620.3 381.6,620.5 381.1,619.9 380.7,621 380.2,620.6 379.8,620.6 379.4,620.6 378.9,620.9 378.4,621.7 378.2,621.7 378,621.3 377.6,621.2 377.1,621.1 376.6,622.4 376.2,622.2 375.8,622.7 375.3,622.7 374.9,622 374.4,622.5 374.1,622.7 373.9,623.3 373.5,623 373.1,623.8 372.6,624.5 372.1,624 371.7,624.4 371.2,625.4 370.8,625.5 370.4,625.3 370,626.3 369.9,625.4 369.4,625.7 369,626.1 368.6,627.3 368.1,627.8 367.6,627.6 367.2,627.6 366.8,629 366.3,628.7 366,628.7 365.9,629.8 365.4,629.6 364.9,630.2 364.5,630.1 364.1,631 363.6,632 363.1,632.4 362.7,632.3 362.2,632.6 361.9,633.9 361.8,633.1 361.4,635.1 360.9,635.4 360.4,636.4 360,637.1 359.6,638.3 359.1,639.5 358.9,640 358.6,640.8 358.2,642.5 357.8,643.1 357.3,645.2 356.9,646.5 356.9,645.1 356.4,643.1 355.9,641.7 355.5,639.5 355.1,637 355,637 354.6,636.5 354.1,635.4 353.7,634.5 353.2,634 353.1,633.9 352.8,634.8 352.4,633.7 351.9,633.7 351.4,633.3 351,634.1 350.6,633.5 350.4,633.2 350.1,632.9 349.6,632.7 349.2,633 348.8,633.4 348.3,632.5 347.9,632.9 347.4,632.2 347.2,632.1 346.9,632.7 346.5,632 346.1,632.6 345.6,631.5 345.1,631.7 344.7,631.8 344.2,631.7 344,630.9 343.8,631.4 343.4,630.9 342.9,630.7 342.4,630.1 342,630.2 341.6,630.9 341.1,630.4 340.7,629.8 340.6,630 340.2,630 339.8,629.6 339.3,628.7 338.9,628.8 338.4,629 337.9,629.1 337.5,628 337.4,628 337.1,627.9 336.6,628.1 336.1,627.4 335.7,627.5 335.2,626.5 334.8,626 334.4,625.3 334.2,625.9 333.9,625.3 333.4,625.2 333,625.2 332.6,624.9 332.1,624.1 331.6,623.9 331.2,624.3 330.8,624 330.3,623.3 329.9,622.9 329.6,623 329.4,622.7 328.9,621.9 328.8,620.7 328.5,621.2 328.1,620.1 327.6,620.4 327.1,620.1 326.7,620.2 326.5,620 326.2,619.9 325.8,620 325.4,619.5 324.9,619.1 324.4,618.4 324,618.1 323.6,618.1 323.1,618.8 322.6,618.4 322.2,618.2 321.8,618.1 321.5,617.4 321.3,616.9 320.9,617.5 320.4,617.2 319.9,617.7 319.5,617.4 319.1,616.4 319,616.4 318.6,617.4 318.1,617.4 317.7,617.5 317.2,616.8 316.8,616.7 316.4,616.5 316,616.5 315.9,616.5 315.4,617.7 315,617.8 314.6,618 314.1,617.9 313.6,619.2 313.2,618.8 312.8,618.9 312.3,619.6 312,619.9 311.9,620.1 311.4,620.1 310.9,620.2 310.5,620.7 310.1,621 309.6,620.8 309.1,620.5 308.7,620.6 308.2,620.6 307.8,621 307.4,620.9 306.9,621.2 306.4,621.3 306,621.9 305.6,622.7 305.1,622.8 304.6,622.1 304.2,622.6 303.8,623.3 303.5,622.5 303.3,622.6 302.9,622.9 302.4,623.5 301.9,624 301.5,624 301.1,624.7 300.6,624.6 300.1,625.7 299.7,625.7 299.2,625.5 299.2,625.6 298.8,626.1 298.4,626 297.9,627.3 297.4,626.6 297,627.3 296.6,628 296.1,628.5 295.6,628.5 295.2,629.2 295,628.6 294.8,629.6 294.3,629.8 293.9,630.7 293.4,631.1 292.9,631.2 292.5,631.9 292.1,632.4 291.6,633 291.1,632.7 290.7,632.9 290.7,633.3 290.2,634 289.8,634.9 289.4,636.7 288.9,636.9 288.4,638.5 288,638.6 287.6,639.6 287.5,639.9 287.1,641.3 286.6,642.4 286.2,644 285.8,645.8 285.4,645.9 285.3,645.1 284.9,643 284.4,641.6 283.9,639.3 283.5,637.5 283.4,636 283.1,636.5 282.6,635.9 282.1,634.6 281.7,635.1 281.4,634.1 281.2,634.1 280.8,633.7 280.4,633.7 279.9,633.7 279.4,633.6 279,632.9 278.6,632.7 278.6,633.3 278.1,633.6 277.6,632.6 277.2,633 276.8,633.1 276.3,632.4 275.9,632.6 275.4,631.6 275.2,632.5 274.9,631.9 274.5,631.2 274.1,631.5 273.6,630.8 273.1,631.5 272.7,630.4 272.2,630.2 271.8,630.2 271.8,630.9 271.4,630.5 270.9,629.8 270.4,629.1 270,629.9 269.6,629.8 269.1,628.6 268.6,629.2 268.3,628.1 268.2,628.5 267.8,628.2 267.3,627.9 266.9,627.3 266.4,627.5 265.9,627.2 265.5,626.9 265.1,626.1 264.9,625.8 264.6,625.4 264.1,625.7 263.7,625.1 263.2,625.2 262.8,624.3 262.4,623.8 261.9,623.4 261.6,623.8 261.4,623.7 261,623.6 260.6,623.3 260.1,622.8 259.6,622.4 259.2,622.3 258.8,622.7 258.3,622.1 257.9,621.2 257.4,621.6 256.9,620.8 256.8,620.5 256.5,620.2 256.1,619.9 255.6,618.2 255.2,618.1 254.7,617 254.2,616.7 253.8,616.7 253.3,616.4 252.9,615.2 252.4,615.4 252.2,615.5 252,614.8 251.6,613.6 251.1,612.2 250.7,611.3 250.6,610.3 250.2,609.7 249.8,608.4 249.3,607.2 248.8,606.4 248.4,606 248.4,606.2 247.9,608.1 247.5,609.4 247.1,611.2 247.1,611.5 246.6,613.7 246.2,615.4 245.9,616.6 245.7,616.3 245.2,617.5 244.8,617.7 244.3,617.9 243.9,618.5 243.4,618.8 243,618.2 243,618.9 242.6,619.1 242.1,618.6 241.7,619.7 241.2,619.1 240.8,619.3 240.3,620 239.8,619.9 239.4,620 238.9,620.3 238.8,620 238.5,620.2 238.1,619.9 237.6,620.1 237.2,619.9 236.7,620.1 236.2,620.6 235.8,620.4 235.3,620.7 234.9,620.6 234.8,621.2 234.4,621 234,621.5 233.6,621.7 233.1,621.7 232.7,621.5 232.2,622.1 231.8,622.2 231.3,623.2 230.8,622.5 230.6,623 230.4,623.6 229.9,623.9 229.5,623.4 229.1,623.9 228.6,623.9 228.2,624.5 227.7,624.7 227.2,624.9 226.8,625.3 226.4,626 226.3,626.3 225.9,626.6 225.4,626.1 225,626.5 224.6,627 224.1,628 223.7,627.5 223.2,628 222.8,628.2 222.3,628.9 222.3,629 221.8,629.8 221.4,630.3 220.9,630.9 220.5,630.8 220.1,632 219.6,632.1 219.2,632.3 218.7,632.6 218.2,633.6 218.2,633.3 217.8,634 217.3,635.5 216.9,635.6 216.4,637.6 216,638.1 215.6,638.8 215.1,640.2 215.1,640.5 214.7,640.9 214.2,642.5 213.8,643.5 213.3,645.2 213.1,645.6 212.8,644.9 212.4,642.5 211.9,640.9 211.5,638.2 211.1,636.3 211.1,636.1 210.6,635.4 210.2,635 209.7,634.5 209.2,634.1 209.1,634.3 208.8,633.7 208.3,633.7 207.9,634.4 207.4,633.7 207,633.3 206.6,633.3 206.4,633.7 206.1,632.7 205.7,633.4 205.2,632.3 204.8,633 204.3,632.6 203.8,632.8 203.4,631.6 203.1,631.9 202.9,632.1 202.5,631.1 202.1,630.9 201.6,631.4 201.2,631.1 200.7,631.2 200.2,630.1 199.9,630 199.8,630.7 199.3,630.5 198.9,629.7 198.4,629.1 198,629.1 197.6,629.5 197.1,628.4 196.7,628.4 196.5,628.1 196.2,629 195.8,628.4 195.3,628.4 194.8,626.9 194.4,627.2 193.9,627 193.5,626.3 193.2,625.7 193.1,626.1 192.6,625.9 192.2,624.9 191.7,625.3 191.2,624.5 190.8,624 190.3,623.8 189.9,623.6 189.9,623.5 189.4,622.9 189,623.5 188.6,623.4 188.1,622.6 187.7,622.2 187.2,622.6 186.8,621.5 186.3,622.1 185.8,621.8 185.4,620.7 185.2,621.2 184.9,620.7 184.5,619.1 184.1,619.1 183.6,618 183.3,617.2 183.2,616.4 182.7,616.3 182.2,615.8 181.8,615.9 181.3,615.2 180.9,614.9 180.9,615.7 180.4,614.6 180,612.9 179.6,611.3 179.3,611.3 179.1,610.8 178.7,609.5 178.2,608.7 177.8,607.1 177.3,606.1 177.2,605.7 176.8,607.3 176.4,608.9 175.9,610.6 175.9,610.9 175.5,612.7 175.1,615.4 174.7,616.9 174.6,616.7 174.2,617 173.7,617.6 173.2,617.4 172.8,617.7 172.3,618.4 171.9,618.1 171.8,619 171.4,618.9 171,619 170.6,618.9 170.1,619.3 169.7,619.6 169.2,619.5 168.8,619.2 168.3,620.1 167.8,619.3 167.6,619.6 167.4,620 166.9,619.6 166.5,620.3 166.1,620.5 165.6,620.6 165.2,621.2 164.7,620.7 164.2,621.5 163.8,621.2 163.5,621.1 163.3,621.1 162.9,621.9 162.4,621.2 162,621.7 161.6,621.7 161.1,622.3 160.7,622 160.2,622.3 159.8,622.4 159.3,622.5 159.3,623.3 158.8,623.6 158.4,623.4 157.9,624.3 157.5,624.1 157.1,624.6 156.6,625.3 156.2,624.5 155.7,624.9 155.2,625.7 155,625.6 154.8,626.2 154.3,626.9 153.9,627.1 153.4,626.7 153,627.8 152.6,628.3 152.1,627.7 151.7,628.1 151.2,628.5 150.9,629.4 150.8,629.8 150.3,629.6 149.8,630.1 149.4,631.2 148.9,631.4 148.5,631.3 148.1,632.3 147.6,632 147.2,632.8 146.7,633.6 146.7,633.7 146.2,634.8 145.8,635.5 145.3,635.8 144.9,637.7 144.4,638.5 144,639.3 143.6,640.6 143.6,640.9 143.1,641.8 142.7,642.6 142.2,643.9 141.8,645.3 141.6,645.7 141.3,644.4 140.8,643 140.4,640.9 139.9,638.7 139.6,636.4 139.5,636.9 139.1,636.1 138.6,635.1 138.2,634.6 137.7,633.8 137.6,633.7 137.2,634 136.8,634 136.3,633.5 135.9,634 135.4,633.9 135,633.7 134.9,633.7 134.6,633.7 134.1,633.4 133.7,632.5 133.2,632.4 132.8,632.8 132.3,632.3 131.8,632.4 131.6,631.6 131.4,631.7 130.9,631.4 130.5,631.7 130.1,631.7 129.6,631.6 129.2,630.8 128.7,630 128.3,630.4 128.2,629.9 127.8,630.1 127.3,630.4 126.9,629 126.5,629 126,629.6 125.5,628.7 125.1,628.5 124.9,628.1 124.7,628 124.2,628.1 123.8,627.8 123.3,628.1 122.8,627.6 122.4,626.4 122,626.4 121.5,626.1 121.5,626 121,625.5 120.6,625.7 120.2,625.6 119.7,624.2 119.2,624.3 118.8,623.6 118.3,623.3 118.2,623 117.9,622.9 117.5,623 117,622.5 116.5,622.3 116.1,621.9 115.7,621.6 115.2,622.1 114.8,621.2 114.3,621.3 113.8,621 113.5,621.4 113.4,621.2 113,620.2 112.5,619.4 112,617.5 111.6,617.4 111.5,617.1 111.2,616.8 110.7,616.6 110.2,616.6 109.8,615.9 109.3,615.3 109.1,615.2 108.9,614.1 108.5,613.1 108,612.3 107.5,610.9 107.5,610.5 107.1,609.5 106.7,608.4 106.2,607.3 105.8,607.2 105.4,606.3 105.3,606 104.8,607.8 104.4,609.4 104.1,611.2 104,611.9 103.5,614.2 103,615.9 102.9,616.5 102.6,616.3 102.2,617.6 101.7,617.3 101.2,617.5 100.8,617.7 100.3,618.8 100,618.2 99.9,618.3 99.5,618.5 99,619 98.5,618.6 98.1,619.5 97.7,619.3 97.2,619.3 96.8,620.1 96.3,620.4 95.8,620.2 95.8,620.2 95.4,619.6 95,620.4 94.5,620.3 94,621 93.6,621 93.2,620.7 92.7,621 92.2,621.1 91.8,621.4 91.7,621 91.3,621.8 90.9,621.6 90.5,622 90,622.1 89.5,621.5 89.1,622.2 88.7,622 88.2,622.9 87.8,622.7 87.5,622.4 87.3,623.6 86.8,623.1 86.4,623.9 86,624.4 85.5,624.3 85,624.6 84.6,624.6 84.2,625.4 83.7,625.8 83.2,625.6 83.2,625.7 82.8,626.3 82.3,626.3 81.9,626.8 81.5,627.5 81,627.2 80.5,627.4 80.1,627.8 79.7,628.7 79.2,628.9 79.1,629.3 78.8,629.6 78.3,629.5 77.8,630.8 77.4,630.6 77,630.8 76.5,631.3 76,631.9 75.6,633.1 75.2,632.5 74.9,633.9 74.7,633.7 74.2,634.9 73.8,636.3 73.3,636.9 72.9,637.5 72.5,638.3 72,640.2 71.8,640.1 71.5,640.5 71.1,641.7 70.7,643.5 70.2,644.3 69.8,646 69.8,645.2 69.3,643.4 68.8,641.5 68.4,638.8 68,637.4 67.8,636.1 67.5,636Z" fill="#0a0af0" stroke="#0a0af0" stroke-width="0.7" stroke-linejoin="round"/>
<line x1="323.7" y1="485.5" x2="323.7" y2="757.5" stroke="#3030b8" stroke-width="1.5"/>
<line x1="323.7" y1="494" x2="323.7" y2="598" stroke="#3030b8" stroke-width="2.4"/>
<line x1="320.8" y1="605" x2="320.8" y2="613" stroke="#0a0af0" stroke-width="1"/>
<line x1="241.4" y1="566.3" x2="206.7" y2="566.3" stroke="#e01414" stroke-width="1.4"/>
<path d="M197.2,566.3 L207.2,563.3 L207.2,569.3Z" fill="#e01414"/>
<line x1="323.8" y1="568.5" x2="362.9" y2="568.5" stroke="#1515e0" stroke-width="1.4"/>
<path d="M372.4,568.5 L362.4,565.5 L362.4,571.5Z" fill="#1515e0"/>
<line x1="318.3" y1="458" x2="362.9" y2="458" stroke="#e01414" stroke-width="2.6"/>
<line x1="318.3" y1="481.3" x2="362.9" y2="481.3" stroke="#0a0af0" stroke-width="2.6"/>
<text x="367" y="465.2" font-size="19.4">Applied voltage</text>
<text x="367" y="488.3" font-size="19.4">Applied current</text>
<path d="M67.1,1037.7C67.3,1038.2 68,1039.6 68.5,1041C69,1042.4 69.3,1042.8 70.2,1046.9C71.1,1051 73.4,1061.8 74.8,1068.5C76.2,1075.2 78.2,1085.9 79.4,1091.7C80.6,1097.5 81.8,1103.9 82.5,1107.1C83.2,1110.3 83.4,1114 84.1,1113.3C84.8,1112.6 86.1,1107.6 87.1,1102.5C88.1,1097.4 89.8,1086.7 91,1079.3C92.2,1071.9 93.7,1062.4 94.9,1053.1C96.1,1043.8 97.5,1028 98.7,1017.6C99.9,1007.2 101.5,992.9 102.6,983.6C103.6,974.3 104.9,962.7 105.7,955.9C106.5,949.1 107.4,940.7 107.7,938" fill="none" stroke="#e01414" stroke-width="2.3" stroke-linejoin="round"/>
<path d="M107.7,938 108.2,1043.3" fill="none" stroke="#e01414" stroke-width="2.2"/>
<path d="M108.2,1043.3C108.6,1042.8 110.2,1040.6 111,1039.7C111.8,1038.8 112.6,1037.8 113.6,1037.5C114.6,1037.2 116.7,1036.6 117.6,1037.5C118.5,1038.4 119.1,1041.4 119.8,1043.3C120.5,1045.2 121.3,1047.2 122,1050C122.7,1052.8 123.5,1058.1 124.2,1062C124.9,1065.9 125.6,1072 126.4,1076.3C127.2,1080.6 128.4,1086.6 129.3,1091C130.2,1095.4 131.4,1102.1 132.2,1105.6C133,1109.1 133.6,1114.4 134.4,1114.4C135.2,1114.4 136.5,1109.6 137.4,1105.6C138.3,1101.6 139.3,1094.3 140.3,1088C141.3,1081.7 142.9,1071.7 143.9,1063.9C144.9,1056.1 145.9,1045.4 147,1036.1C148.1,1026.8 149.7,1012.4 150.9,1002.2C152.1,992 153.7,978.2 154.7,968.2C155.7,958.2 157.3,940.7 157.8,935.8" fill="none" stroke="#e01414" stroke-width="2.3" stroke-linejoin="round"/>
<path d="M157.8,935.8 158.3,1045.4" fill="none" stroke="#e01414" stroke-width="2.2"/>
<path d="M158.3,1045.4C158.6,1045.1 159.5,1044.3 160.1,1043.5C160.7,1042.7 161.4,1040.8 162,1040C162.6,1039.2 163.4,1038.5 164,1038.4C164.6,1038.3 165.4,1038.7 166,1039.5C166.6,1040.3 166.9,1041.8 167.8,1043.8C168.7,1045.8 170.5,1048.2 171.7,1053.1C172.9,1058 174.7,1070.5 175.6,1076.2C176.5,1081.9 177.3,1087.1 178,1091C178.7,1094.9 179.2,1098.5 180,1102.5C180.8,1106.5 182.1,1117 183,1117.5C183.9,1118 185,1109.4 185.8,1106C186.6,1102.6 187.4,1100.6 188.5,1094.8C189.6,1089 191.8,1075.8 193.1,1067C194.4,1058.2 195.8,1046.3 197,1036.1C198.2,1025.9 199.8,1009.3 200.9,999.1C202,988.9 203.1,977.7 204,968.2C204.9,958.7 206.6,940.7 207,935.8" fill="none" stroke="#e01414" stroke-width="2.3" stroke-linejoin="round"/>
<path d="M207,935.8 207.5,1044" fill="none" stroke="#e01414" stroke-width="2.2"/>
<path d="M207.5,1044C207.7,1043.7 208.1,1043 208.6,1042.3C209.1,1041.5 210.3,1039.7 211,1039C211.7,1038.3 212.6,1037.6 213.2,1037.7C213.8,1037.8 214.6,1038.8 215.2,1039.5C215.8,1040.2 216.2,1040.5 217.1,1042.3C218,1044.1 219.6,1047.1 220.9,1051.5C222.2,1055.9 224.5,1066.1 225.6,1071.6C226.7,1077.1 227.3,1083.1 228,1088C228.7,1092.9 229.8,1100.2 230.5,1104C231.2,1107.8 231.8,1113 232.5,1113C233.2,1113 234.4,1107.3 235.5,1104C236.6,1100.7 238.2,1099 239.6,1090.8C241,1082.6 243.2,1062.3 244.8,1049.2C246.4,1036.1 248.6,1016.4 250,1003.3C251.4,990.2 253.1,971.4 254.2,961.7C255.3,952 256.4,943 257.3,938.8C258.2,934.6 259.2,933.2 260,933.5C260.8,933.8 261.7,936 262.5,940.8C263.3,945.6 264.7,957 265.6,965.8C266.5,974.6 267.9,988.6 268.8,999.2C269.7,1009.8 271,1024.8 271.9,1036.7C272.8,1048.6 274.1,1065.8 275,1078.3C275.9,1090.8 277.3,1105.3 278.1,1120C278.9,1134.7 280,1167.9 280.3,1176.3" fill="none" stroke="#e01414" stroke-width="2.3" stroke-linejoin="round"/>
<path d="M280.3,1176.3 280.4,1064" fill="none" stroke="#e01414" stroke-width="1.5"/>
<path d="M280.4,1064C280.8,1064.2 282,1063.8 282.9,1065.5C283.8,1067.2 285.5,1072.6 286.6,1075.3C287.7,1078 289.3,1082.7 290.4,1083.5C291.5,1084.3 293,1082.6 294.2,1080.7C295.4,1078.8 297.4,1073.8 298.5,1071C299.6,1068.2 300.8,1065.7 301.8,1062C302.8,1058.3 303.9,1050 305,1046.1C306.1,1042.2 308.3,1036.6 309.4,1035.8C310.5,1035 311.6,1038.5 312.6,1040.7C313.6,1042.9 314.8,1048.2 315.8,1050.4C316.8,1052.6 318.1,1055.3 319.1,1055.5C320.1,1055.7 321.2,1054.2 322.3,1051.5C323.4,1048.8 325.4,1041.5 326.6,1037.4C327.8,1033.4 329.4,1027.3 330.4,1024.5C331.4,1021.7 332.2,1018.2 333.1,1018.5C334,1018.8 335.4,1023.3 336.4,1026.6C337.4,1029.9 338.7,1036.7 339.6,1040.7C340.5,1044.7 341.3,1047.8 342.3,1053C343.3,1058.2 345.1,1067.7 346.2,1075.4C347.3,1083.1 348.7,1095.5 349.6,1104.3C350.5,1113.1 351.7,1125.9 352.5,1134.1C353.3,1142.3 354.6,1155.3 355,1159" fill="none" stroke="#e01414" stroke-width="2.3" stroke-linejoin="round"/>
<path d="M355,1159 355.4,1064" fill="none" stroke="#e01414" stroke-width="1.5"/>
<path d="M355.4,1064C355.6,1064.1 356.1,1063.5 356.6,1064.5C357.1,1065.5 358.2,1069.5 359,1071C359.8,1072.5 360.6,1074.9 361.6,1074.4C362.6,1073.9 364.7,1071 365.8,1067.8C366.9,1064.6 368,1057.9 369.1,1052.9C370.2,1047.9 372,1040.6 373.2,1034.6C374.4,1028.6 376.3,1020.1 377.4,1013.1C378.5,1006.1 379.7,994 380.7,988.2C381.7,982.4 383,975 384,974.5C385,974 386.3,980.1 387.3,984.9C388.3,989.7 389.6,998.9 390.6,1006.4C391.6,1013.9 393,1026.6 393.9,1034.6C394.8,1042.6 395.6,1052 396.4,1059.5C397.1,1067 398.1,1076.9 398.9,1084.4C399.6,1091.9 400.6,1101.1 401.4,1109.3C402.1,1117.5 403.4,1130.9 403.9,1139.1C404.4,1147.3 404.5,1160.3 404.6,1164" fill="none" stroke="#e01414" stroke-width="2.3" stroke-linejoin="round"/>
<path d="M404.6,1164 404.8,1065" fill="none" stroke="#e01414" stroke-width="1.5"/>
<path d="M404.8,1065C405,1065.2 405.4,1063.9 406.3,1066.1C407.2,1068.3 409.4,1076.7 410.5,1079.4C411.6,1082.1 412.7,1084.9 413.8,1084.4C414.9,1083.9 416.7,1079.3 417.9,1076.1C419.1,1072.9 421,1067.3 422.1,1062.8C423.2,1058.3 424.3,1051.7 425.4,1046.2C426.5,1040.7 428.4,1031.8 429.5,1026.3C430.6,1020.8 432.1,1012.7 432.9,1009.8C433.6,1006.9 433.8,1006.3 434.5,1006.8C435.2,1007.3 436.8,1009.7 437.8,1013.1C438.8,1016.5 440.1,1024.2 441.1,1029.7C442.1,1035.2 443.5,1042.1 444.5,1049.6C445.5,1057.1 446.8,1070.4 447.8,1079.4C448.8,1088.4 450.2,1101.1 451.1,1109.3C452,1117.5 453,1127.6 453.6,1134.1C454.2,1140.6 455,1149.7 455.3,1152.4" fill="none" stroke="#e01414" stroke-width="2.3" stroke-linejoin="round"/>
<path d="M455.3,1152.4 455.7,1063" fill="none" stroke="#e01414" stroke-width="1.5"/>
<path d="M455.7,1063C456,1063.5 456.9,1064.9 457.5,1066.1C458.1,1067.3 459.2,1069.9 460,1071C460.8,1072.1 461.5,1074.3 462.5,1073.6C463.5,1072.9 465.5,1069.2 466.6,1066.1C467.7,1063 468.9,1057.4 469.9,1052.9C470.9,1048.4 472.1,1042.3 473.2,1036.3C474.3,1030.3 476.3,1019.8 477.4,1013.1C478.5,1006.4 479.7,996.2 480.7,991.5C481.7,986.8 483,982 484,981.8C485,981.6 486.3,985.7 487.3,989.9C488.3,994.1 489.7,1002.3 490.7,1009.8C491.7,1017.3 493.1,1031.2 494,1039.6C494.9,1048 495.8,1057.6 496.5,1066.1C497.2,1074.6 498.2,1087 498.9,1096C499.6,1105 500.6,1116 501.4,1125.8C502.1,1135.6 503.5,1156.1 503.9,1161.5" fill="none" stroke="#e01414" stroke-width="2.3" stroke-linejoin="round"/>
<path d="M503.9,1161.5 504.8,1064" fill="none" stroke="#e01414" stroke-width="1.5"/>
<path d="M504.8,1064C505.3,1064.3 507.2,1064.3 508.1,1066.1C509,1067.9 509.8,1073.5 510.5,1076C511.2,1078.5 512.2,1082.4 513,1082.7C513.8,1083 515.1,1079.5 516,1078C516.9,1076.5 518.3,1073.8 518.8,1072.8C519.3,1071.8 519.4,1071.3 519.5,1071" fill="none" stroke="#e01414" stroke-width="2.3" stroke-linejoin="round"/>
<path d="M257.3,938.8C257.7,938 259.2,933.2 260,933.5C260.8,933.8 262.1,939.7 262.5,940.8" fill="none" stroke="#e01414" stroke-width="3.4" stroke-linecap="round" stroke-linejoin="round"/>
<path d="M282.9,1065.5C283.5,1067 285.5,1072.6 286.6,1075.3C287.7,1078 289.3,1082.7 290.4,1083.5C291.5,1084.3 293,1082.6 294.2,1080.7C295.4,1078.8 297.9,1072.5 298.5,1071" fill="none" stroke="#e01414" stroke-width="5" stroke-linecap="round" stroke-linejoin="round"/>
<path d="M305,1046.1C305.7,1044.6 308.3,1036.6 309.4,1035.8C310.5,1035 311.6,1038.5 312.6,1040.7C313.6,1042.9 315.3,1048.9 315.8,1050.4" fill="none" stroke="#e01414" stroke-width="4" stroke-linecap="round" stroke-linejoin="round"/>
<path d="M322.3,1051.5C322.9,1049.4 325.4,1041.5 326.6,1037.4C327.8,1033.4 329.4,1027.3 330.4,1024.5C331.4,1021.7 332.2,1018.2 333.1,1018.5C334,1018.8 335.4,1023.3 336.4,1026.6C337.4,1029.9 339.1,1038.6 339.6,1040.7" fill="none" stroke="#e01414" stroke-width="3.8" stroke-linecap="round" stroke-linejoin="round"/>
<path d="M356.6,1064.5C357,1065.5 358.2,1069.5 359,1071C359.8,1072.5 360.6,1074.9 361.6,1074.4C362.6,1073.9 365.2,1068.8 365.8,1067.8" fill="none" stroke="#e01414" stroke-width="4.5" stroke-linecap="round" stroke-linejoin="round"/>
<path d="M380.7,988.2C381.2,986.1 383,975 384,974.5C385,974 386.8,983.3 387.3,984.9" fill="none" stroke="#e01414" stroke-width="3.8" stroke-linecap="round" stroke-linejoin="round"/>
<path d="M406.3,1066.1C406.9,1068.1 409.4,1076.7 410.5,1079.4C411.6,1082.1 412.7,1084.9 413.8,1084.4C414.9,1083.9 417.3,1077.3 417.9,1076.1" fill="none" stroke="#e01414" stroke-width="4.8" stroke-linecap="round" stroke-linejoin="round"/>
<path d="M432.9,1009.8C433.1,1009.3 433.8,1006.3 434.5,1006.8C435.2,1007.3 437.3,1012.2 437.8,1013.1" fill="none" stroke="#e01414" stroke-width="3.8" stroke-linecap="round" stroke-linejoin="round"/>
<path d="M457.5,1066.1C457.9,1066.8 459.2,1069.9 460,1071C460.8,1072.1 461.5,1074.3 462.5,1073.6C463.5,1072.9 466,1067.2 466.6,1066.1" fill="none" stroke="#e01414" stroke-width="4.5" stroke-linecap="round" stroke-linejoin="round"/>
<path d="M480.7,991.5C481.2,990 483,982 484,981.8C485,981.6 486.8,988.7 487.3,989.9" fill="none" stroke="#e01414" stroke-width="3.8" stroke-linecap="round" stroke-linejoin="round"/>
<path d="M508.1,1066.1C508.5,1067.6 509.8,1073.5 510.5,1076C511.2,1078.5 512.2,1082.4 513,1082.7C513.8,1083 515.1,1079.5 516,1078C516.9,1076.5 518.3,1073.8 518.8,1072.8C519.3,1071.8 519.4,1071.3 519.5,1071" fill="none" stroke="#e01414" stroke-width="5" stroke-linecap="round" stroke-linejoin="round"/>
<path d="M108.4,1052 108.6,1043 110,1040 112,1038.3 113.6,1037.3 115.5,1038.5 117.6,1037.3 119.3,1039 120.6,1043 122.2,1049 122.8,1052Z" fill="#e01414" stroke="#e01414" stroke-width="0.8" stroke-linejoin="round"/>
<path d="M158.3,1052 159.3,1043 160.4,1040 162,1038.5 163.7,1037.1 165.5,1038.5 168.3,1039.8 170,1044 171.7,1052Z" fill="#e01414" stroke="#e01414" stroke-width="0.8" stroke-linejoin="round"/>
<path d="M207.8,1052 208.3,1043 210,1040 211.8,1038.2 213.2,1037.5 215,1038.5 217.2,1040.5 219.2,1045 221,1052Z" fill="#e01414" stroke="#e01414" stroke-width="0.8" stroke-linejoin="round"/>
<path d="M81.2,1103 82.3,1112.5 83.6,1115.6 85.5,1114.5 86.6,1109 87.3,1103Z" fill="#e01414" stroke="#e01414" stroke-width="0.8" stroke-linejoin="round"/>
<path d="M131.7,1105.5 132.4,1115.5 134.5,1116 137,1115.5 137,1105Z" fill="#e01414" stroke="#e01414" stroke-width="0.8" stroke-linejoin="round"/>
<path d="M180.6,1106 181.8,1116 183,1118.5 185,1117 187,1112 187.5,1105Z" fill="#e01414" stroke="#e01414" stroke-width="0.8" stroke-linejoin="round"/>
<path d="M229.3,1100.5 230.5,1108 232.4,1113.8 234.5,1110 237,1103 237.8,1098.5Z" fill="#e01414" stroke="#e01414" stroke-width="0.8" stroke-linejoin="round"/>
<rect x="113" y="1048" width="4" height="4" fill="#fff"/>
<rect x="162.9" y="1048.5" width="2.5" height="3.5" fill="#fff"/>
<rect x="212.5" y="1048.5" width="2.5" height="3.5" fill="#fff"/>
<rect x="67" y="1052.2" width="453" height="11.3" fill="#0a0af0"/>
<line x1="78.7" y1="1063" x2="78.7" y2="1067" stroke="#0a0af0" stroke-width="0.9"/>
<line x1="81.7" y1="1063" x2="81.7" y2="1067" stroke="#0a0af0" stroke-width="0.9"/>
<line x1="84.1" y1="1063" x2="84.1" y2="1067" stroke="#0a0af0" stroke-width="0.9"/>
<line x1="87.1" y1="1063" x2="87.1" y2="1067" stroke="#0a0af0" stroke-width="0.9"/>
<line x1="118.7" y1="1063" x2="118.7" y2="1067" stroke="#0a0af0" stroke-width="0.9"/>
<line x1="120.5" y1="1063" x2="120.5" y2="1067" stroke="#0a0af0" stroke-width="0.9"/>
<line x1="128.6" y1="1063" x2="128.6" y2="1067" stroke="#0a0af0" stroke-width="0.9"/>
<line x1="136.6" y1="1063" x2="136.6" y2="1067" stroke="#0a0af0" stroke-width="0.9"/>
<line x1="139.6" y1="1063" x2="139.6" y2="1067" stroke="#0a0af0" stroke-width="0.9"/>
<line x1="147.5" y1="1063" x2="147.5" y2="1067" stroke="#0a0af0" stroke-width="0.9"/>
<line x1="149.5" y1="1063" x2="149.5" y2="1067" stroke="#0a0af0" stroke-width="0.9"/>
<line x1="152" y1="1063" x2="152" y2="1067" stroke="#0a0af0" stroke-width="0.9"/>
<line x1="176" y1="1063" x2="176" y2="1067" stroke="#0a0af0" stroke-width="0.9"/>
<line x1="178.5" y1="1063" x2="178.5" y2="1067" stroke="#0a0af0" stroke-width="0.9"/>
<line x1="191" y1="1063" x2="191" y2="1067" stroke="#0a0af0" stroke-width="0.9"/>
<line x1="197" y1="1063" x2="197" y2="1067" stroke="#0a0af0" stroke-width="0.9"/>
<line x1="205" y1="1063" x2="205" y2="1067" stroke="#0a0af0" stroke-width="0.9"/>
<line x1="220" y1="1063" x2="220" y2="1067" stroke="#0a0af0" stroke-width="0.9"/>
<line x1="226" y1="1063" x2="226" y2="1067" stroke="#0a0af0" stroke-width="0.9"/>
<line x1="230" y1="1063" x2="230" y2="1067" stroke="#0a0af0" stroke-width="0.9"/>
<line x1="246" y1="1063" x2="246" y2="1067" stroke="#0a0af0" stroke-width="0.9"/>
<line x1="252.5" y1="1063" x2="252.5" y2="1067" stroke="#0a0af0" stroke-width="0.9"/>
<line x1="258" y1="1063" x2="258" y2="1067" stroke="#0a0af0" stroke-width="0.9"/>
<line x1="265" y1="1063" x2="265" y2="1067" stroke="#0a0af0" stroke-width="0.9"/>
<line x1="268" y1="1063" x2="268" y2="1067" stroke="#0a0af0" stroke-width="0.9"/>
<line x1="270.5" y1="1063" x2="270.5" y2="1067" stroke="#0a0af0" stroke-width="0.9"/>
<line x1="287" y1="1063" x2="287" y2="1067" stroke="#0a0af0" stroke-width="0.9"/>
<line x1="290" y1="1063" x2="290" y2="1067" stroke="#0a0af0" stroke-width="0.9"/>
<line x1="300" y1="1063" x2="300" y2="1067" stroke="#0a0af0" stroke-width="0.9"/>
<line x1="309.5" y1="1063" x2="309.5" y2="1067" stroke="#0a0af0" stroke-width="0.9"/>
<line x1="312" y1="1063" x2="312" y2="1067" stroke="#0a0af0" stroke-width="0.9"/>
<line x1="313.5" y1="1063" x2="313.5" y2="1067" stroke="#0a0af0" stroke-width="0.9"/>
<line x1="342" y1="1063" x2="342" y2="1067" stroke="#0a0af0" stroke-width="0.9"/>
<line x1="344" y1="1063" x2="344" y2="1067" stroke="#0a0af0" stroke-width="0.9"/>
<line x1="347" y1="1063" x2="347" y2="1067" stroke="#0a0af0" stroke-width="0.9"/>
<line x1="351" y1="1063" x2="351" y2="1067" stroke="#0a0af0" stroke-width="0.9"/>
<line x1="359" y1="1063" x2="359" y2="1067" stroke="#0a0af0" stroke-width="0.9"/>
<line x1="363" y1="1063" x2="363" y2="1067" stroke="#0a0af0" stroke-width="0.9"/>
<line x1="375" y1="1063" x2="375" y2="1067" stroke="#0a0af0" stroke-width="0.9"/>
<line x1="380" y1="1063" x2="380" y2="1067" stroke="#0a0af0" stroke-width="0.9"/>
<line x1="395" y1="1063" x2="395" y2="1067" stroke="#0a0af0" stroke-width="0.9"/>
<line x1="399" y1="1063" x2="399" y2="1067" stroke="#0a0af0" stroke-width="0.9"/>
<line x1="401" y1="1063" x2="401" y2="1067" stroke="#0a0af0" stroke-width="0.9"/>
<line x1="410.5" y1="1063" x2="410.5" y2="1067" stroke="#0a0af0" stroke-width="0.9"/>
<line x1="413" y1="1063" x2="413" y2="1067" stroke="#0a0af0" stroke-width="0.9"/>
<line x1="437" y1="1063" x2="437" y2="1067" stroke="#0a0af0" stroke-width="0.9"/>
<line x1="441" y1="1063" x2="441" y2="1067" stroke="#0a0af0" stroke-width="0.9"/>
<line x1="444" y1="1063" x2="444" y2="1067" stroke="#0a0af0" stroke-width="0.9"/>
<line x1="448" y1="1063" x2="448" y2="1067" stroke="#0a0af0" stroke-width="0.9"/>
<line x1="452" y1="1063" x2="452" y2="1067" stroke="#0a0af0" stroke-width="0.9"/>
<line x1="466" y1="1063" x2="466" y2="1067" stroke="#0a0af0" stroke-width="0.9"/>
<line x1="470" y1="1063" x2="470" y2="1067" stroke="#0a0af0" stroke-width="0.9"/>
<line x1="483" y1="1063" x2="483" y2="1067" stroke="#0a0af0" stroke-width="0.9"/>
<line x1="484.5" y1="1063" x2="484.5" y2="1067" stroke="#0a0af0" stroke-width="0.9"/>
<line x1="488" y1="1063" x2="488" y2="1067" stroke="#0a0af0" stroke-width="0.9"/>
<line x1="495" y1="1063" x2="495" y2="1067" stroke="#0a0af0" stroke-width="0.9"/>
<line x1="497" y1="1063" x2="497" y2="1067" stroke="#0a0af0" stroke-width="0.9"/>
<line x1="499.5" y1="1063" x2="499.5" y2="1067" stroke="#0a0af0" stroke-width="0.9"/>
<line x1="512" y1="1063" x2="512" y2="1067" stroke="#0a0af0" stroke-width="0.9"/>
<line x1="515" y1="1063" x2="515" y2="1067" stroke="#0a0af0" stroke-width="0.9"/>
<line x1="91.8" y1="1052.5" x2="91.8" y2="1048" stroke="#0a0af0" stroke-width="0.9"/>
<line x1="99.5" y1="1052.5" x2="99.5" y2="1048" stroke="#0a0af0" stroke-width="0.9"/>
<line x1="126.5" y1="1052.5" x2="126.5" y2="1048" stroke="#0a0af0" stroke-width="0.9"/>
<line x1="172.5" y1="1052.5" x2="172.5" y2="1048" stroke="#0a0af0" stroke-width="0.9"/>
<line x1="238" y1="1052.5" x2="238" y2="1048" stroke="#0a0af0" stroke-width="0.9"/>
<line x1="281" y1="1052.5" x2="281" y2="1048" stroke="#0a0af0" stroke-width="0.9"/>
<line x1="303" y1="1052.5" x2="303" y2="1048" stroke="#0a0af0" stroke-width="0.9"/>
<line x1="307.4" y1="1052.5" x2="307.4" y2="1048" stroke="#0a0af0" stroke-width="0.9"/>
<line x1="310.5" y1="1052.5" x2="310.5" y2="1048" stroke="#0a0af0" stroke-width="0.9"/>
<line x1="356" y1="1052.5" x2="356" y2="1048" stroke="#0a0af0" stroke-width="0.9"/>
<line x1="381" y1="1052.5" x2="381" y2="1048" stroke="#0a0af0" stroke-width="0.9"/>
<line x1="407" y1="1052.5" x2="407" y2="1048" stroke="#0a0af0" stroke-width="0.9"/>
<line x1="441" y1="1052.5" x2="441" y2="1048" stroke="#0a0af0" stroke-width="0.9"/>
<line x1="477.4" y1="1052.5" x2="477.4" y2="1048" stroke="#0a0af0" stroke-width="0.9"/>
<line x1="504.8" y1="1052.5" x2="504.8" y2="1048" stroke="#0a0af0" stroke-width="0.9"/>
<line x1="108" y1="938" x2="108" y2="1074.5" stroke="#4a4ac8" stroke-width="1.6"/>
<line x1="157.8" y1="936" x2="157.8" y2="1070" stroke="#4a4ac8" stroke-width="1.6"/>
<line x1="207" y1="935.8" x2="207" y2="1081.6" stroke="#4a4ac8" stroke-width="1.6"/>
<line x1="280.4" y1="1049.5" x2="280.4" y2="1147.5" stroke="#4a4ac8" stroke-width="1.6"/>
<line x1="355.3" y1="1049.6" x2="355.3" y2="1114.2" stroke="#4a4ac8" stroke-width="1.6"/>
<line x1="404.5" y1="1049.6" x2="404.5" y2="1140.8" stroke="#4a4ac8" stroke-width="1.6"/>
<line x1="455.7" y1="1052.9" x2="455.7" y2="1110.9" stroke="#4a4ac8" stroke-width="1.6"/>
<line x1="504.8" y1="1049.6" x2="504.8" y2="1136.6" stroke="#4a4ac8" stroke-width="1.6"/>
<line x1="200.1" y1="999.8" x2="175.7" y2="999.8" stroke="#e01414" stroke-width="1.4"/>
<path d="M166.2,999.8 L176.2,996.8 L176.2,1002.8Z" fill="#e01414"/>
<line x1="281.2" y1="1131.5" x2="312.3" y2="1131.5" stroke="#1515e0" stroke-width="1.4"/>
<path d="M321.8,1131.5 L311.8,1128.5 L311.8,1134.5Z" fill="#1515e0"/>
<line x1="309.6" y1="916.4" x2="348.9" y2="916.4" stroke="#e01414" stroke-width="1.7"/>
<line x1="309.6" y1="937.4" x2="348.9" y2="937.4" stroke="#0a0af0" stroke-width="1.9"/>
<text x="353.5" y="922.3" font-size="17.3">Applied voltage</text>
<text x="353.5" y="943.2" font-size="17.3">Applied current</text>
<line x1="58" y1="370" x2="64" y2="370" stroke="#000" stroke-width="1.5"/>
<line x1="58" y1="364.3" x2="61.3" y2="364.3" stroke="#000" stroke-width="1.5"/>
<line x1="58" y1="358.6" x2="61.3" y2="358.6" stroke="#000" stroke-width="1.5"/>
<line x1="58" y1="352.9" x2="61.3" y2="352.9" stroke="#000" stroke-width="1.5"/>
<line x1="58" y1="347.2" x2="64" y2="347.2" stroke="#000" stroke-width="1.5"/>
<line x1="58" y1="341.5" x2="61.3" y2="341.5" stroke="#000" stroke-width="1.5"/>
<line x1="58" y1="335.8" x2="61.3" y2="335.8" stroke="#000" stroke-width="1.5"/>
<line x1="58" y1="330.1" x2="61.3" y2="330.1" stroke="#000" stroke-width="1.5"/>
<line x1="58" y1="324.4" x2="64" y2="324.4" stroke="#000" stroke-width="1.5"/>
<line x1="58" y1="318.7" x2="61.3" y2="318.7" stroke="#000" stroke-width="1.5"/>
<line x1="58" y1="313" x2="61.3" y2="313" stroke="#000" stroke-width="1.5"/>
<line x1="58" y1="307.3" x2="61.3" y2="307.3" stroke="#000" stroke-width="1.5"/>
<line x1="58" y1="301.6" x2="64" y2="301.6" stroke="#000" stroke-width="1.5"/>
<line x1="58" y1="295.9" x2="61.3" y2="295.9" stroke="#000" stroke-width="1.5"/>
<line x1="58" y1="290.2" x2="61.3" y2="290.2" stroke="#000" stroke-width="1.5"/>
<line x1="58" y1="284.5" x2="61.3" y2="284.5" stroke="#000" stroke-width="1.5"/>
<line x1="58" y1="278.8" x2="64" y2="278.8" stroke="#000" stroke-width="1.5"/>
<line x1="58" y1="273" x2="61.3" y2="273" stroke="#000" stroke-width="1.5"/>
<line x1="58" y1="267.3" x2="61.3" y2="267.3" stroke="#000" stroke-width="1.5"/>
<line x1="58" y1="261.6" x2="61.3" y2="261.6" stroke="#000" stroke-width="1.5"/>
<line x1="58" y1="255.9" x2="64" y2="255.9" stroke="#000" stroke-width="1.5"/>
<line x1="58" y1="250.2" x2="61.3" y2="250.2" stroke="#000" stroke-width="1.5"/>
<line x1="58" y1="244.5" x2="61.3" y2="244.5" stroke="#000" stroke-width="1.5"/>
<line x1="58" y1="238.8" x2="61.3" y2="238.8" stroke="#000" stroke-width="1.5"/>
<line x1="58" y1="233.1" x2="64" y2="233.1" stroke="#000" stroke-width="1.5"/>
<line x1="58" y1="227.4" x2="61.3" y2="227.4" stroke="#000" stroke-width="1.5"/>
<line x1="58" y1="221.7" x2="61.3" y2="221.7" stroke="#000" stroke-width="1.5"/>
<line x1="58" y1="216" x2="61.3" y2="216" stroke="#000" stroke-width="1.5"/>
<line x1="58" y1="210.3" x2="64" y2="210.3" stroke="#000" stroke-width="1.5"/>
<line x1="58" y1="204.6" x2="61.3" y2="204.6" stroke="#000" stroke-width="1.5"/>
<line x1="58" y1="198.9" x2="61.3" y2="198.9" stroke="#000" stroke-width="1.5"/>
<line x1="58" y1="193.2" x2="61.3" y2="193.2" stroke="#000" stroke-width="1.5"/>
<line x1="58" y1="187.5" x2="64" y2="187.5" stroke="#000" stroke-width="1.5"/>
<line x1="58" y1="181.8" x2="61.3" y2="181.8" stroke="#000" stroke-width="1.5"/>
<line x1="58" y1="176.1" x2="61.3" y2="176.1" stroke="#000" stroke-width="1.5"/>
<line x1="58" y1="170.4" x2="61.3" y2="170.4" stroke="#000" stroke-width="1.5"/>
<line x1="58" y1="164.7" x2="64" y2="164.7" stroke="#000" stroke-width="1.5"/>
<line x1="58" y1="159" x2="61.3" y2="159" stroke="#000" stroke-width="1.5"/>
<line x1="58" y1="153.3" x2="61.3" y2="153.3" stroke="#000" stroke-width="1.5"/>
<line x1="58" y1="147.6" x2="61.3" y2="147.6" stroke="#000" stroke-width="1.5"/>
<line x1="58" y1="141.9" x2="64" y2="141.9" stroke="#000" stroke-width="1.5"/>
<line x1="58" y1="136.2" x2="61.3" y2="136.2" stroke="#000" stroke-width="1.5"/>
<line x1="58" y1="130.5" x2="61.3" y2="130.5" stroke="#000" stroke-width="1.5"/>
<line x1="58" y1="124.8" x2="61.3" y2="124.8" stroke="#000" stroke-width="1.5"/>
<line x1="58" y1="119.1" x2="64" y2="119.1" stroke="#000" stroke-width="1.5"/>
<line x1="58" y1="113.4" x2="61.3" y2="113.4" stroke="#000" stroke-width="1.5"/>
<line x1="58" y1="107.7" x2="61.3" y2="107.7" stroke="#000" stroke-width="1.5"/>
<line x1="58" y1="102" x2="61.3" y2="102" stroke="#000" stroke-width="1.5"/>
<line x1="58" y1="96.2" x2="64" y2="96.2" stroke="#000" stroke-width="1.5"/>
<line x1="58" y1="90.5" x2="61.3" y2="90.5" stroke="#000" stroke-width="1.5"/>
<line x1="58" y1="84.8" x2="61.3" y2="84.8" stroke="#000" stroke-width="1.5"/>
<line x1="58" y1="79.1" x2="61.3" y2="79.1" stroke="#000" stroke-width="1.5"/>
<line x1="58" y1="73.4" x2="64" y2="73.4" stroke="#000" stroke-width="1.5"/>
<line x1="58" y1="67.7" x2="61.3" y2="67.7" stroke="#000" stroke-width="1.5"/>
<line x1="58" y1="62" x2="61.3" y2="62" stroke="#000" stroke-width="1.5"/>
<line x1="58" y1="56.3" x2="61.3" y2="56.3" stroke="#000" stroke-width="1.5"/>
<line x1="58" y1="50.6" x2="64" y2="50.6" stroke="#000" stroke-width="1.5"/>
<line x1="58" y1="44.9" x2="61.3" y2="44.9" stroke="#000" stroke-width="1.5"/>
<line x1="58" y1="39.2" x2="61.3" y2="39.2" stroke="#000" stroke-width="1.5"/>
<line x1="58" y1="33.5" x2="61.3" y2="33.5" stroke="#000" stroke-width="1.5"/>
<line x1="58" y1="27.8" x2="64" y2="27.8" stroke="#000" stroke-width="1.5"/>
<line x1="58" y1="22.1" x2="61.3" y2="22.1" stroke="#000" stroke-width="1.5"/>
<line x1="58" y1="16.4" x2="61.3" y2="16.4" stroke="#000" stroke-width="1.5"/>
<line x1="58" y1="10.7" x2="61.3" y2="10.7" stroke="#000" stroke-width="1.5"/>
<line x1="58" y1="5" x2="64" y2="5" stroke="#000" stroke-width="1.5"/>
<line x1="511.6" y1="370" x2="505.6" y2="370" stroke="#000" stroke-width="1.5"/>
<line x1="511.6" y1="360.9" x2="508.3" y2="360.9" stroke="#000" stroke-width="1.5"/>
<line x1="511.6" y1="351.8" x2="508.3" y2="351.8" stroke="#000" stroke-width="1.5"/>
<line x1="511.6" y1="342.6" x2="508.3" y2="342.6" stroke="#000" stroke-width="1.5"/>
<line x1="511.6" y1="333.5" x2="505.6" y2="333.5" stroke="#000" stroke-width="1.5"/>
<line x1="511.6" y1="324.4" x2="508.3" y2="324.4" stroke="#000" stroke-width="1.5"/>
<line x1="511.6" y1="315.2" x2="508.3" y2="315.2" stroke="#000" stroke-width="1.5"/>
<line x1="511.6" y1="306.1" x2="508.3" y2="306.1" stroke="#000" stroke-width="1.5"/>
<line x1="511.6" y1="297" x2="505.6" y2="297" stroke="#000" stroke-width="1.5"/>
<line x1="511.6" y1="287.9" x2="508.3" y2="287.9" stroke="#000" stroke-width="1.5"/>
<line x1="511.6" y1="278.8" x2="508.3" y2="278.8" stroke="#000" stroke-width="1.5"/>
<line x1="511.6" y1="269.6" x2="508.3" y2="269.6" stroke="#000" stroke-width="1.5"/>
<line x1="511.6" y1="260.5" x2="505.6" y2="260.5" stroke="#000" stroke-width="1.5"/>
<line x1="511.6" y1="251.4" x2="508.3" y2="251.4" stroke="#000" stroke-width="1.5"/>
<line x1="511.6" y1="242.2" x2="508.3" y2="242.2" stroke="#000" stroke-width="1.5"/>
<line x1="511.6" y1="233.1" x2="508.3" y2="233.1" stroke="#000" stroke-width="1.5"/>
<line x1="511.6" y1="224" x2="505.6" y2="224" stroke="#000" stroke-width="1.5"/>
<line x1="511.6" y1="214.9" x2="508.3" y2="214.9" stroke="#000" stroke-width="1.5"/>
<line x1="511.6" y1="205.8" x2="508.3" y2="205.8" stroke="#000" stroke-width="1.5"/>
<line x1="511.6" y1="196.6" x2="508.3" y2="196.6" stroke="#000" stroke-width="1.5"/>
<line x1="511.6" y1="187.5" x2="505.6" y2="187.5" stroke="#000" stroke-width="1.5"/>
<line x1="511.6" y1="178.4" x2="508.3" y2="178.4" stroke="#000" stroke-width="1.5"/>
<line x1="511.6" y1="169.3" x2="508.3" y2="169.3" stroke="#000" stroke-width="1.5"/>
<line x1="511.6" y1="160.1" x2="508.3" y2="160.1" stroke="#000" stroke-width="1.5"/>
<line x1="511.6" y1="151" x2="505.6" y2="151" stroke="#000" stroke-width="1.5"/>
<line x1="511.6" y1="141.9" x2="508.3" y2="141.9" stroke="#000" stroke-width="1.5"/>
<line x1="511.6" y1="132.8" x2="508.3" y2="132.8" stroke="#000" stroke-width="1.5"/>
<line x1="511.6" y1="123.6" x2="508.3" y2="123.6" stroke="#000" stroke-width="1.5"/>
<line x1="511.6" y1="114.5" x2="505.6" y2="114.5" stroke="#000" stroke-width="1.5"/>
<line x1="511.6" y1="105.4" x2="508.3" y2="105.4" stroke="#000" stroke-width="1.5"/>
<line x1="511.6" y1="96.3" x2="508.3" y2="96.3" stroke="#000" stroke-width="1.5"/>
<line x1="511.6" y1="87.1" x2="508.3" y2="87.1" stroke="#000" stroke-width="1.5"/>
<line x1="511.6" y1="78" x2="505.6" y2="78" stroke="#000" stroke-width="1.5"/>
<line x1="511.6" y1="68.9" x2="508.3" y2="68.9" stroke="#000" stroke-width="1.5"/>
<line x1="511.6" y1="59.8" x2="508.3" y2="59.8" stroke="#000" stroke-width="1.5"/>
<line x1="511.6" y1="50.6" x2="508.3" y2="50.6" stroke="#000" stroke-width="1.5"/>
<line x1="511.6" y1="41.5" x2="505.6" y2="41.5" stroke="#000" stroke-width="1.5"/>
<line x1="511.6" y1="32.4" x2="508.3" y2="32.4" stroke="#000" stroke-width="1.5"/>
<line x1="511.6" y1="23.2" x2="508.3" y2="23.2" stroke="#000" stroke-width="1.5"/>
<line x1="511.6" y1="14.1" x2="508.3" y2="14.1" stroke="#000" stroke-width="1.5"/>
<line x1="511.6" y1="5" x2="505.6" y2="5" stroke="#000" stroke-width="1.5"/>
<line x1="58" y1="370" x2="58" y2="364" stroke="#000" stroke-width="1.5"/>
<line x1="58" y1="5" x2="58" y2="11" stroke="#000" stroke-width="1.5"/>
<line x1="72.2" y1="370" x2="72.2" y2="366.7" stroke="#000" stroke-width="1.5"/>
<line x1="72.2" y1="5" x2="72.2" y2="8.3" stroke="#000" stroke-width="1.5"/>
<line x1="86.3" y1="370" x2="86.3" y2="366.7" stroke="#000" stroke-width="1.5"/>
<line x1="86.3" y1="5" x2="86.3" y2="8.3" stroke="#000" stroke-width="1.5"/>
<line x1="100.5" y1="370" x2="100.5" y2="366.7" stroke="#000" stroke-width="1.5"/>
<line x1="100.5" y1="5" x2="100.5" y2="8.3" stroke="#000" stroke-width="1.5"/>
<line x1="114.7" y1="370" x2="114.7" y2="364" stroke="#000" stroke-width="1.5"/>
<line x1="114.7" y1="5" x2="114.7" y2="11" stroke="#000" stroke-width="1.5"/>
<line x1="128.9" y1="370" x2="128.9" y2="366.7" stroke="#000" stroke-width="1.5"/>
<line x1="128.9" y1="5" x2="128.9" y2="8.3" stroke="#000" stroke-width="1.5"/>
<line x1="143.1" y1="370" x2="143.1" y2="366.7" stroke="#000" stroke-width="1.5"/>
<line x1="143.1" y1="5" x2="143.1" y2="8.3" stroke="#000" stroke-width="1.5"/>
<line x1="157.2" y1="370" x2="157.2" y2="366.7" stroke="#000" stroke-width="1.5"/>
<line x1="157.2" y1="5" x2="157.2" y2="8.3" stroke="#000" stroke-width="1.5"/>
<line x1="171.4" y1="370" x2="171.4" y2="364" stroke="#000" stroke-width="1.5"/>
<line x1="171.4" y1="5" x2="171.4" y2="11" stroke="#000" stroke-width="1.5"/>
<line x1="185.6" y1="370" x2="185.6" y2="366.7" stroke="#000" stroke-width="1.5"/>
<line x1="185.6" y1="5" x2="185.6" y2="8.3" stroke="#000" stroke-width="1.5"/>
<line x1="199.8" y1="370" x2="199.8" y2="366.7" stroke="#000" stroke-width="1.5"/>
<line x1="199.8" y1="5" x2="199.8" y2="8.3" stroke="#000" stroke-width="1.5"/>
<line x1="213.9" y1="370" x2="213.9" y2="366.7" stroke="#000" stroke-width="1.5"/>
<line x1="213.9" y1="5" x2="213.9" y2="8.3" stroke="#000" stroke-width="1.5"/>
<line x1="228.1" y1="370" x2="228.1" y2="364" stroke="#000" stroke-width="1.5"/>
<line x1="228.1" y1="5" x2="228.1" y2="11" stroke="#000" stroke-width="1.5"/>
<line x1="242.3" y1="370" x2="242.3" y2="366.7" stroke="#000" stroke-width="1.5"/>
<line x1="242.3" y1="5" x2="242.3" y2="8.3" stroke="#000" stroke-width="1.5"/>
<line x1="256.5" y1="370" x2="256.5" y2="366.7" stroke="#000" stroke-width="1.5"/>
<line x1="256.5" y1="5" x2="256.5" y2="8.3" stroke="#000" stroke-width="1.5"/>
<line x1="270.6" y1="370" x2="270.6" y2="366.7" stroke="#000" stroke-width="1.5"/>
<line x1="270.6" y1="5" x2="270.6" y2="8.3" stroke="#000" stroke-width="1.5"/>
<line x1="284.8" y1="370" x2="284.8" y2="364" stroke="#000" stroke-width="1.5"/>
<line x1="284.8" y1="5" x2="284.8" y2="11" stroke="#000" stroke-width="1.5"/>
<line x1="299" y1="370" x2="299" y2="366.7" stroke="#000" stroke-width="1.5"/>
<line x1="299" y1="5" x2="299" y2="8.3" stroke="#000" stroke-width="1.5"/>
<line x1="313.1" y1="370" x2="313.1" y2="366.7" stroke="#000" stroke-width="1.5"/>
<line x1="313.1" y1="5" x2="313.1" y2="8.3" stroke="#000" stroke-width="1.5"/>
<line x1="327.3" y1="370" x2="327.3" y2="366.7" stroke="#000" stroke-width="1.5"/>
<line x1="327.3" y1="5" x2="327.3" y2="8.3" stroke="#000" stroke-width="1.5"/>
<line x1="341.5" y1="370" x2="341.5" y2="364" stroke="#000" stroke-width="1.5"/>
<line x1="341.5" y1="5" x2="341.5" y2="11" stroke="#000" stroke-width="1.5"/>
<line x1="355.7" y1="370" x2="355.7" y2="366.7" stroke="#000" stroke-width="1.5"/>
<line x1="355.7" y1="5" x2="355.7" y2="8.3" stroke="#000" stroke-width="1.5"/>
<line x1="369.9" y1="370" x2="369.9" y2="366.7" stroke="#000" stroke-width="1.5"/>
<line x1="369.9" y1="5" x2="369.9" y2="8.3" stroke="#000" stroke-width="1.5"/>
<line x1="384" y1="370" x2="384" y2="366.7" stroke="#000" stroke-width="1.5"/>
<line x1="384" y1="5" x2="384" y2="8.3" stroke="#000" stroke-width="1.5"/>
<line x1="398.2" y1="370" x2="398.2" y2="364" stroke="#000" stroke-width="1.5"/>
<line x1="398.2" y1="5" x2="398.2" y2="11" stroke="#000" stroke-width="1.5"/>
<line x1="412.4" y1="370" x2="412.4" y2="366.7" stroke="#000" stroke-width="1.5"/>
<line x1="412.4" y1="5" x2="412.4" y2="8.3" stroke="#000" stroke-width="1.5"/>
<line x1="426.6" y1="370" x2="426.6" y2="366.7" stroke="#000" stroke-width="1.5"/>
<line x1="426.6" y1="5" x2="426.6" y2="8.3" stroke="#000" stroke-width="1.5"/>
<line x1="440.7" y1="370" x2="440.7" y2="366.7" stroke="#000" stroke-width="1.5"/>
<line x1="440.7" y1="5" x2="440.7" y2="8.3" stroke="#000" stroke-width="1.5"/>
<line x1="454.9" y1="370" x2="454.9" y2="364" stroke="#000" stroke-width="1.5"/>
<line x1="454.9" y1="5" x2="454.9" y2="11" stroke="#000" stroke-width="1.5"/>
<line x1="469.1" y1="370" x2="469.1" y2="366.7" stroke="#000" stroke-width="1.5"/>
<line x1="469.1" y1="5" x2="469.1" y2="8.3" stroke="#000" stroke-width="1.5"/>
<line x1="483.2" y1="370" x2="483.2" y2="366.7" stroke="#000" stroke-width="1.5"/>
<line x1="483.2" y1="5" x2="483.2" y2="8.3" stroke="#000" stroke-width="1.5"/>
<line x1="497.4" y1="370" x2="497.4" y2="366.7" stroke="#000" stroke-width="1.5"/>
<line x1="497.4" y1="5" x2="497.4" y2="8.3" stroke="#000" stroke-width="1.5"/>
<line x1="511.6" y1="370" x2="511.6" y2="364" stroke="#000" stroke-width="1.5"/>
<line x1="511.6" y1="5" x2="511.6" y2="11" stroke="#000" stroke-width="1.5"/>
<rect x="58" y="5" width="453.6" height="365" fill="none" stroke="#000" stroke-width="1.8"/>
<text x="50.3" y="376.3" font-size="16" text-anchor="end" font-weight="normal">−8</text>
<text x="50.3" y="353.5" font-size="16" text-anchor="end" font-weight="normal">−7</text>
<text x="50.3" y="330.7" font-size="16" text-anchor="end" font-weight="normal">−6</text>
<text x="50.3" y="307.9" font-size="16" text-anchor="end" font-weight="normal">−5</text>
<text x="50.3" y="285.1" font-size="16" text-anchor="end" font-weight="normal">−4</text>
<text x="50.3" y="262.3" font-size="16" text-anchor="end" font-weight="normal">−3</text>
<text x="50.3" y="239.5" font-size="16" text-anchor="end" font-weight="normal">−2</text>
<text x="50.3" y="216.7" font-size="16" text-anchor="end" font-weight="normal">−1</text>
<text x="50.3" y="193.8" font-size="16" text-anchor="end" font-weight="normal">0</text>
<text x="50.3" y="171" font-size="16" text-anchor="end" font-weight="normal">1</text>
<text x="50.3" y="148.2" font-size="16" text-anchor="end" font-weight="normal">2</text>
<text x="50.3" y="125.4" font-size="16" text-anchor="end" font-weight="normal">3</text>
<text x="50.3" y="102.6" font-size="16" text-anchor="end" font-weight="normal">4</text>
<text x="50.3" y="79.8" font-size="16" text-anchor="end" font-weight="normal">5</text>
<text x="50.3" y="57" font-size="16" text-anchor="end" font-weight="normal">6</text>
<text x="50.3" y="34.2" font-size="16" text-anchor="end" font-weight="normal">7</text>
<text x="50.3" y="11.3" font-size="16" text-anchor="end" font-weight="normal">8</text>
<text x="519.3" y="376.3" font-size="16" text-anchor="start" font-weight="normal">−<tspan dx="-1.6">0. 20</tspan></text>
<text x="519.3" y="339.8" font-size="16" text-anchor="start" font-weight="normal">−<tspan dx="-1.6">0. 16</tspan></text>
<text x="519.3" y="303.3" font-size="16" text-anchor="start" font-weight="normal">−<tspan dx="-1.6">0. 12</tspan></text>
<text x="519.3" y="266.8" font-size="16" text-anchor="start" font-weight="normal">−<tspan dx="-1.6">0. 08</tspan></text>
<text x="519.3" y="230.3" font-size="16" text-anchor="start" font-weight="normal">−<tspan dx="-1.6">0. 04</tspan></text>
<text x="519.3" y="193.8" font-size="16" text-anchor="start" font-weight="normal">0. 00</text>
<text x="519.3" y="157.3" font-size="16" text-anchor="start" font-weight="normal">0. 04</text>
<text x="519.3" y="120.8" font-size="16" text-anchor="start" font-weight="normal">0. 08</text>
<text x="519.3" y="84.3" font-size="16" text-anchor="start" font-weight="normal">0. 12</text>
<text x="519.3" y="47.8" font-size="16" text-anchor="start" font-weight="normal">0. 16</text>
<text x="519.3" y="11.3" font-size="16" text-anchor="start" font-weight="normal">0. 20</text>
<text x="58" y="391.5" font-size="16" text-anchor="middle" font-weight="normal">0</text>
<text x="114.7" y="391.5" font-size="16" text-anchor="middle" font-weight="normal">100</text>
<text x="171.4" y="391.5" font-size="16" text-anchor="middle" font-weight="normal">200</text>
<text x="228.1" y="391.5" font-size="16" text-anchor="middle" font-weight="normal">300</text>
<text x="284.8" y="391.5" font-size="16" text-anchor="middle" font-weight="normal">400</text>
<text x="341.5" y="391.5" font-size="16" text-anchor="middle" font-weight="normal">500</text>
<text x="398.2" y="391.5" font-size="16" text-anchor="middle" font-weight="normal">600</text>
<text x="454.9" y="391.5" font-size="16" text-anchor="middle" font-weight="normal">700</text>
<text x="511.6" y="391.5" font-size="16" text-anchor="middle" font-weight="normal">800</text>
<text x="285.4" y="419.3" font-size="19.5" text-anchor="middle" font-weight="normal">Time (μs)</text>
<text x="14.7" y="179" font-size="19.2" text-anchor="middle" font-weight="normal" transform="rotate(-90 14.7 179)">Applied voltage (kV)</text>
<text x="582" y="193" font-size="19" text-anchor="middle" font-weight="normal" transform="rotate(-90 582 193)">Applied current (A)</text>
<text x="90.5" y="35" font-size="21" text-anchor="start" font-weight="bold">(a)</text>
<line x1="67" y1="805" x2="70.3" y2="805" stroke="#000" stroke-width="1.5"/>
<line x1="67" y1="797.7" x2="73" y2="797.7" stroke="#000" stroke-width="1.5"/>
<line x1="67" y1="790.4" x2="70.3" y2="790.4" stroke="#000" stroke-width="1.5"/>
<line x1="67" y1="783.1" x2="70.3" y2="783.1" stroke="#000" stroke-width="1.5"/>
<line x1="67" y1="775.8" x2="70.3" y2="775.8" stroke="#000" stroke-width="1.5"/>
<line x1="67" y1="768.5" x2="73" y2="768.5" stroke="#000" stroke-width="1.5"/>
<line x1="67" y1="761.1" x2="70.3" y2="761.1" stroke="#000" stroke-width="1.5"/>
<line x1="67" y1="753.8" x2="70.3" y2="753.8" stroke="#000" stroke-width="1.5"/>
<line x1="67" y1="746.5" x2="70.3" y2="746.5" stroke="#000" stroke-width="1.5"/>
<line x1="67" y1="739.2" x2="73" y2="739.2" stroke="#000" stroke-width="1.5"/>
<line x1="67" y1="731.9" x2="70.3" y2="731.9" stroke="#000" stroke-width="1.5"/>
<line x1="67" y1="724.6" x2="70.3" y2="724.6" stroke="#000" stroke-width="1.5"/>
<line x1="67" y1="717.3" x2="70.3" y2="717.3" stroke="#000" stroke-width="1.5"/>
<line x1="67" y1="710" x2="73" y2="710" stroke="#000" stroke-width="1.5"/>
<line x1="67" y1="702.7" x2="70.3" y2="702.7" stroke="#000" stroke-width="1.5"/>
<line x1="67" y1="695.4" x2="70.3" y2="695.4" stroke="#000" stroke-width="1.5"/>
<line x1="67" y1="688" x2="70.3" y2="688" stroke="#000" stroke-width="1.5"/>
<line x1="67" y1="680.7" x2="73" y2="680.7" stroke="#000" stroke-width="1.5"/>
<line x1="67" y1="673.4" x2="70.3" y2="673.4" stroke="#000" stroke-width="1.5"/>
<line x1="67" y1="666.1" x2="70.3" y2="666.1" stroke="#000" stroke-width="1.5"/>
<line x1="67" y1="658.8" x2="70.3" y2="658.8" stroke="#000" stroke-width="1.5"/>
<line x1="67" y1="651.5" x2="73" y2="651.5" stroke="#000" stroke-width="1.5"/>
<line x1="67" y1="644.2" x2="70.3" y2="644.2" stroke="#000" stroke-width="1.5"/>
<line x1="67" y1="636.9" x2="70.3" y2="636.9" stroke="#000" stroke-width="1.5"/>
<line x1="67" y1="629.6" x2="70.3" y2="629.6" stroke="#000" stroke-width="1.5"/>
<line x1="67" y1="622.2" x2="73" y2="622.2" stroke="#000" stroke-width="1.5"/>
<line x1="67" y1="614.9" x2="70.3" y2="614.9" stroke="#000" stroke-width="1.5"/>
<line x1="67" y1="607.6" x2="70.3" y2="607.6" stroke="#000" stroke-width="1.5"/>
<line x1="67" y1="600.3" x2="70.3" y2="600.3" stroke="#000" stroke-width="1.5"/>
<line x1="67" y1="593" x2="73" y2="593" stroke="#000" stroke-width="1.5"/>
<line x1="67" y1="585.7" x2="70.3" y2="585.7" stroke="#000" stroke-width="1.5"/>
<line x1="67" y1="578.4" x2="70.3" y2="578.4" stroke="#000" stroke-width="1.5"/>
<line x1="67" y1="571.1" x2="70.3" y2="571.1" stroke="#000" stroke-width="1.5"/>
<line x1="67" y1="563.8" x2="73" y2="563.8" stroke="#000" stroke-width="1.5"/>
<line x1="67" y1="556.5" x2="70.3" y2="556.5" stroke="#000" stroke-width="1.5"/>
<line x1="67" y1="549.1" x2="70.3" y2="549.1" stroke="#000" stroke-width="1.5"/>
<line x1="67" y1="541.8" x2="70.3" y2="541.8" stroke="#000" stroke-width="1.5"/>
<line x1="67" y1="534.5" x2="73" y2="534.5" stroke="#000" stroke-width="1.5"/>
<line x1="67" y1="527.2" x2="70.3" y2="527.2" stroke="#000" stroke-width="1.5"/>
<line x1="67" y1="519.9" x2="70.3" y2="519.9" stroke="#000" stroke-width="1.5"/>
<line x1="67" y1="512.6" x2="70.3" y2="512.6" stroke="#000" stroke-width="1.5"/>
<line x1="67" y1="505.3" x2="73" y2="505.3" stroke="#000" stroke-width="1.5"/>
<line x1="67" y1="498" x2="70.3" y2="498" stroke="#000" stroke-width="1.5"/>
<line x1="67" y1="490.7" x2="70.3" y2="490.7" stroke="#000" stroke-width="1.5"/>
<line x1="67" y1="483.4" x2="70.3" y2="483.4" stroke="#000" stroke-width="1.5"/>
<line x1="67" y1="476.1" x2="73" y2="476.1" stroke="#000" stroke-width="1.5"/>
<line x1="67" y1="468.7" x2="70.3" y2="468.7" stroke="#000" stroke-width="1.5"/>
<line x1="67" y1="461.4" x2="70.3" y2="461.4" stroke="#000" stroke-width="1.5"/>
<line x1="67" y1="454.1" x2="70.3" y2="454.1" stroke="#000" stroke-width="1.5"/>
<line x1="67" y1="446.8" x2="73" y2="446.8" stroke="#000" stroke-width="1.5"/>
<line x1="67" y1="439.5" x2="70.3" y2="439.5" stroke="#000" stroke-width="1.5"/>
<line x1="520" y1="805" x2="514" y2="805" stroke="#000" stroke-width="1.5"/>
<line x1="520" y1="795.9" x2="516.7" y2="795.9" stroke="#000" stroke-width="1.5"/>
<line x1="520" y1="786.7" x2="516.7" y2="786.7" stroke="#000" stroke-width="1.5"/>
<line x1="520" y1="777.6" x2="516.7" y2="777.6" stroke="#000" stroke-width="1.5"/>
<line x1="520" y1="768.5" x2="514" y2="768.5" stroke="#000" stroke-width="1.5"/>
<line x1="520" y1="759.3" x2="516.7" y2="759.3" stroke="#000" stroke-width="1.5"/>
<line x1="520" y1="750.2" x2="516.7" y2="750.2" stroke="#000" stroke-width="1.5"/>
<line x1="520" y1="741" x2="516.7" y2="741" stroke="#000" stroke-width="1.5"/>
<line x1="520" y1="731.9" x2="514" y2="731.9" stroke="#000" stroke-width="1.5"/>
<line x1="520" y1="722.8" x2="516.7" y2="722.8" stroke="#000" stroke-width="1.5"/>
<line x1="520" y1="713.6" x2="516.7" y2="713.6" stroke="#000" stroke-width="1.5"/>
<line x1="520" y1="704.5" x2="516.7" y2="704.5" stroke="#000" stroke-width="1.5"/>
<line x1="520" y1="695.4" x2="514" y2="695.4" stroke="#000" stroke-width="1.5"/>
<line x1="520" y1="686.2" x2="516.7" y2="686.2" stroke="#000" stroke-width="1.5"/>
<line x1="520" y1="677.1" x2="516.7" y2="677.1" stroke="#000" stroke-width="1.5"/>
<line x1="520" y1="667.9" x2="516.7" y2="667.9" stroke="#000" stroke-width="1.5"/>
<line x1="520" y1="658.8" x2="514" y2="658.8" stroke="#000" stroke-width="1.5"/>
<line x1="520" y1="649.7" x2="516.7" y2="649.7" stroke="#000" stroke-width="1.5"/>
<line x1="520" y1="640.5" x2="516.7" y2="640.5" stroke="#000" stroke-width="1.5"/>
<line x1="520" y1="631.4" x2="516.7" y2="631.4" stroke="#000" stroke-width="1.5"/>
<line x1="520" y1="622.2" x2="514" y2="622.2" stroke="#000" stroke-width="1.5"/>
<line x1="520" y1="613.1" x2="516.7" y2="613.1" stroke="#000" stroke-width="1.5"/>
<line x1="520" y1="604" x2="516.7" y2="604" stroke="#000" stroke-width="1.5"/>
<line x1="520" y1="594.8" x2="516.7" y2="594.8" stroke="#000" stroke-width="1.5"/>
<line x1="520" y1="585.7" x2="514" y2="585.7" stroke="#000" stroke-width="1.5"/>
<line x1="520" y1="576.6" x2="516.7" y2="576.6" stroke="#000" stroke-width="1.5"/>
<line x1="520" y1="567.4" x2="516.7" y2="567.4" stroke="#000" stroke-width="1.5"/>
<line x1="520" y1="558.3" x2="516.7" y2="558.3" stroke="#000" stroke-width="1.5"/>
<line x1="520" y1="549.1" x2="514" y2="549.1" stroke="#000" stroke-width="1.5"/>
<line x1="520" y1="540" x2="516.7" y2="540" stroke="#000" stroke-width="1.5"/>
<line x1="520" y1="530.9" x2="516.7" y2="530.9" stroke="#000" stroke-width="1.5"/>
<line x1="520" y1="521.7" x2="516.7" y2="521.7" stroke="#000" stroke-width="1.5"/>
<line x1="520" y1="512.6" x2="514" y2="512.6" stroke="#000" stroke-width="1.5"/>
<line x1="520" y1="503.5" x2="516.7" y2="503.5" stroke="#000" stroke-width="1.5"/>
<line x1="520" y1="494.3" x2="516.7" y2="494.3" stroke="#000" stroke-width="1.5"/>
<line x1="520" y1="485.2" x2="516.7" y2="485.2" stroke="#000" stroke-width="1.5"/>
<line x1="520" y1="476.1" x2="514" y2="476.1" stroke="#000" stroke-width="1.5"/>
<line x1="520" y1="466.9" x2="516.7" y2="466.9" stroke="#000" stroke-width="1.5"/>
<line x1="520" y1="457.8" x2="516.7" y2="457.8" stroke="#000" stroke-width="1.5"/>
<line x1="520" y1="448.6" x2="516.7" y2="448.6" stroke="#000" stroke-width="1.5"/>
<line x1="520" y1="439.5" x2="514" y2="439.5" stroke="#000" stroke-width="1.5"/>
<line x1="67" y1="805" x2="67" y2="799" stroke="#000" stroke-width="1.5"/>
<line x1="67" y1="439.5" x2="67" y2="445.5" stroke="#000" stroke-width="1.5"/>
<line x1="81.2" y1="805" x2="81.2" y2="801.7" stroke="#000" stroke-width="1.5"/>
<line x1="81.2" y1="439.5" x2="81.2" y2="442.8" stroke="#000" stroke-width="1.5"/>
<line x1="95.3" y1="805" x2="95.3" y2="801.7" stroke="#000" stroke-width="1.5"/>
<line x1="95.3" y1="439.5" x2="95.3" y2="442.8" stroke="#000" stroke-width="1.5"/>
<line x1="109.5" y1="805" x2="109.5" y2="801.7" stroke="#000" stroke-width="1.5"/>
<line x1="109.5" y1="439.5" x2="109.5" y2="442.8" stroke="#000" stroke-width="1.5"/>
<line x1="123.6" y1="805" x2="123.6" y2="799" stroke="#000" stroke-width="1.5"/>
<line x1="123.6" y1="439.5" x2="123.6" y2="445.5" stroke="#000" stroke-width="1.5"/>
<line x1="137.8" y1="805" x2="137.8" y2="801.7" stroke="#000" stroke-width="1.5"/>
<line x1="137.8" y1="439.5" x2="137.8" y2="442.8" stroke="#000" stroke-width="1.5"/>
<line x1="151.9" y1="805" x2="151.9" y2="801.7" stroke="#000" stroke-width="1.5"/>
<line x1="151.9" y1="439.5" x2="151.9" y2="442.8" stroke="#000" stroke-width="1.5"/>
<line x1="166.1" y1="805" x2="166.1" y2="801.7" stroke="#000" stroke-width="1.5"/>
<line x1="166.1" y1="439.5" x2="166.1" y2="442.8" stroke="#000" stroke-width="1.5"/>
<line x1="180.2" y1="805" x2="180.2" y2="799" stroke="#000" stroke-width="1.5"/>
<line x1="180.2" y1="439.5" x2="180.2" y2="445.5" stroke="#000" stroke-width="1.5"/>
<line x1="194.4" y1="805" x2="194.4" y2="801.7" stroke="#000" stroke-width="1.5"/>
<line x1="194.4" y1="439.5" x2="194.4" y2="442.8" stroke="#000" stroke-width="1.5"/>
<line x1="208.6" y1="805" x2="208.6" y2="801.7" stroke="#000" stroke-width="1.5"/>
<line x1="208.6" y1="439.5" x2="208.6" y2="442.8" stroke="#000" stroke-width="1.5"/>
<line x1="222.7" y1="805" x2="222.7" y2="801.7" stroke="#000" stroke-width="1.5"/>
<line x1="222.7" y1="439.5" x2="222.7" y2="442.8" stroke="#000" stroke-width="1.5"/>
<line x1="236.9" y1="805" x2="236.9" y2="799" stroke="#000" stroke-width="1.5"/>
<line x1="236.9" y1="439.5" x2="236.9" y2="445.5" stroke="#000" stroke-width="1.5"/>
<line x1="251" y1="805" x2="251" y2="801.7" stroke="#000" stroke-width="1.5"/>
<line x1="251" y1="439.5" x2="251" y2="442.8" stroke="#000" stroke-width="1.5"/>
<line x1="265.2" y1="805" x2="265.2" y2="801.7" stroke="#000" stroke-width="1.5"/>
<line x1="265.2" y1="439.5" x2="265.2" y2="442.8" stroke="#000" stroke-width="1.5"/>
<line x1="279.3" y1="805" x2="279.3" y2="801.7" stroke="#000" stroke-width="1.5"/>
<line x1="279.3" y1="439.5" x2="279.3" y2="442.8" stroke="#000" stroke-width="1.5"/>
<line x1="293.5" y1="805" x2="293.5" y2="799" stroke="#000" stroke-width="1.5"/>
<line x1="293.5" y1="439.5" x2="293.5" y2="445.5" stroke="#000" stroke-width="1.5"/>
<line x1="307.7" y1="805" x2="307.7" y2="801.7" stroke="#000" stroke-width="1.5"/>
<line x1="307.7" y1="439.5" x2="307.7" y2="442.8" stroke="#000" stroke-width="1.5"/>
<line x1="321.8" y1="805" x2="321.8" y2="801.7" stroke="#000" stroke-width="1.5"/>
<line x1="321.8" y1="439.5" x2="321.8" y2="442.8" stroke="#000" stroke-width="1.5"/>
<line x1="336" y1="805" x2="336" y2="801.7" stroke="#000" stroke-width="1.5"/>
<line x1="336" y1="439.5" x2="336" y2="442.8" stroke="#000" stroke-width="1.5"/>
<line x1="350.1" y1="805" x2="350.1" y2="799" stroke="#000" stroke-width="1.5"/>
<line x1="350.1" y1="439.5" x2="350.1" y2="445.5" stroke="#000" stroke-width="1.5"/>
<line x1="364.3" y1="805" x2="364.3" y2="801.7" stroke="#000" stroke-width="1.5"/>
<line x1="364.3" y1="439.5" x2="364.3" y2="442.8" stroke="#000" stroke-width="1.5"/>
<line x1="378.4" y1="805" x2="378.4" y2="801.7" stroke="#000" stroke-width="1.5"/>
<line x1="378.4" y1="439.5" x2="378.4" y2="442.8" stroke="#000" stroke-width="1.5"/>
<line x1="392.6" y1="805" x2="392.6" y2="801.7" stroke="#000" stroke-width="1.5"/>
<line x1="392.6" y1="439.5" x2="392.6" y2="442.8" stroke="#000" stroke-width="1.5"/>
<line x1="406.8" y1="805" x2="406.8" y2="799" stroke="#000" stroke-width="1.5"/>
<line x1="406.8" y1="439.5" x2="406.8" y2="445.5" stroke="#000" stroke-width="1.5"/>
<line x1="420.9" y1="805" x2="420.9" y2="801.7" stroke="#000" stroke-width="1.5"/>
<line x1="420.9" y1="439.5" x2="420.9" y2="442.8" stroke="#000" stroke-width="1.5"/>
<line x1="435.1" y1="805" x2="435.1" y2="801.7" stroke="#000" stroke-width="1.5"/>
<line x1="435.1" y1="439.5" x2="435.1" y2="442.8" stroke="#000" stroke-width="1.5"/>
<line x1="449.2" y1="805" x2="449.2" y2="801.7" stroke="#000" stroke-width="1.5"/>
<line x1="449.2" y1="439.5" x2="449.2" y2="442.8" stroke="#000" stroke-width="1.5"/>
<line x1="463.4" y1="805" x2="463.4" y2="799" stroke="#000" stroke-width="1.5"/>
<line x1="463.4" y1="439.5" x2="463.4" y2="445.5" stroke="#000" stroke-width="1.5"/>
<line x1="477.5" y1="805" x2="477.5" y2="801.7" stroke="#000" stroke-width="1.5"/>
<line x1="477.5" y1="439.5" x2="477.5" y2="442.8" stroke="#000" stroke-width="1.5"/>
<line x1="491.7" y1="805" x2="491.7" y2="801.7" stroke="#000" stroke-width="1.5"/>
<line x1="491.7" y1="439.5" x2="491.7" y2="442.8" stroke="#000" stroke-width="1.5"/>
<line x1="505.8" y1="805" x2="505.8" y2="801.7" stroke="#000" stroke-width="1.5"/>
<line x1="505.8" y1="439.5" x2="505.8" y2="442.8" stroke="#000" stroke-width="1.5"/>
<line x1="520" y1="805" x2="520" y2="799" stroke="#000" stroke-width="1.5"/>
<line x1="520" y1="439.5" x2="520" y2="445.5" stroke="#000" stroke-width="1.5"/>
<rect x="67" y="439.5" width="453" height="365.5" fill="none" stroke="#000" stroke-width="1.8"/>
<text x="59.2" y="804" font-size="16" text-anchor="end" font-weight="normal">−12</text>
<text x="59.2" y="774.8" font-size="16" text-anchor="end" font-weight="normal">−10</text>
<text x="59.2" y="745.6" font-size="16" text-anchor="end" font-weight="normal">−8</text>
<text x="59.2" y="716.3" font-size="16" text-anchor="end" font-weight="normal">−6</text>
<text x="59.2" y="687.1" font-size="16" text-anchor="end" font-weight="normal">−4</text>
<text x="59.2" y="657.8" font-size="16" text-anchor="end" font-weight="normal">−2</text>
<text x="59.2" y="628.6" font-size="16" text-anchor="end" font-weight="normal">0</text>
<text x="59.2" y="599.4" font-size="16" text-anchor="end" font-weight="normal">2</text>
<text x="59.2" y="570.1" font-size="16" text-anchor="end" font-weight="normal">4</text>
<text x="59.2" y="540.9" font-size="16" text-anchor="end" font-weight="normal">6</text>
<text x="59.2" y="511.6" font-size="16" text-anchor="end" font-weight="normal">8</text>
<text x="59.2" y="482.4" font-size="16" text-anchor="end" font-weight="normal">10</text>
<text x="59.2" y="453.1" font-size="16" text-anchor="end" font-weight="normal">12</text>
<text x="528.5" y="811.3" font-size="16" text-anchor="start" font-weight="normal">−<tspan dx="-1.6">1. 0</tspan></text>
<text x="528.5" y="774.8" font-size="16" text-anchor="start" font-weight="normal">−<tspan dx="-1.6">0. 8</tspan></text>
<text x="528.5" y="738.2" font-size="16" text-anchor="start" font-weight="normal">−<tspan dx="-1.6">0. 6</tspan></text>
<text x="528.5" y="701.7" font-size="16" text-anchor="start" font-weight="normal">−<tspan dx="-1.6">0. 4</tspan></text>
<text x="528.5" y="665.1" font-size="16" text-anchor="start" font-weight="normal">−<tspan dx="-1.6">0. 2</tspan></text>
<text x="528.5" y="628.6" font-size="16" text-anchor="start" font-weight="normal">0. 0</text>
<text x="528.5" y="592" font-size="16" text-anchor="start" font-weight="normal">0. 2</text>
<text x="528.5" y="555.5" font-size="16" text-anchor="start" font-weight="normal">0. 4</text>
<text x="528.5" y="518.9" font-size="16" text-anchor="start" font-weight="normal">0. 6</text>
<text x="528.5" y="482.4" font-size="16" text-anchor="start" font-weight="normal">0. 8</text>
<text x="528.5" y="445.8" font-size="16" text-anchor="start" font-weight="normal">1. 0</text>
<text x="67" y="826" font-size="16" text-anchor="middle" font-weight="normal">0</text>
<text x="123.6" y="826" font-size="16" text-anchor="middle" font-weight="normal">100</text>
<text x="180.2" y="826" font-size="16" text-anchor="middle" font-weight="normal">200</text>
<text x="236.9" y="826" font-size="16" text-anchor="middle" font-weight="normal">300</text>
<text x="293.5" y="826" font-size="16" text-anchor="middle" font-weight="normal">400</text>
<text x="350.1" y="826" font-size="16" text-anchor="middle" font-weight="normal">500</text>
<text x="406.8" y="826" font-size="16" text-anchor="middle" font-weight="normal">600</text>
<text x="463.4" y="826" font-size="16" text-anchor="middle" font-weight="normal">700</text>
<text x="520" y="826" font-size="16" text-anchor="middle" font-weight="normal">800</text>
<text x="283.6" y="855" font-size="19.5" text-anchor="middle" font-weight="normal">Time (μs)</text>
<text x="14.3" y="616" font-size="19.2" text-anchor="middle" font-weight="normal" transform="rotate(-90 14.3 616)">Applied voltage (kV)</text>
<text x="580" y="622.7" font-size="19" text-anchor="middle" font-weight="normal" transform="rotate(-90 580 622.7)">Applied current (A)</text>
<text x="96" y="465.3" font-size="21" text-anchor="start" font-weight="bold">(b)</text>
<line x1="67" y1="1242" x2="70.3" y2="1242" stroke="#000" stroke-width="1.5"/>
<line x1="67" y1="1235.9" x2="70.3" y2="1235.9" stroke="#000" stroke-width="1.5"/>
<line x1="67" y1="1229.8" x2="73" y2="1229.8" stroke="#000" stroke-width="1.5"/>
<line x1="67" y1="1223.8" x2="70.3" y2="1223.8" stroke="#000" stroke-width="1.5"/>
<line x1="67" y1="1217.7" x2="70.3" y2="1217.7" stroke="#000" stroke-width="1.5"/>
<line x1="67" y1="1211.6" x2="70.3" y2="1211.6" stroke="#000" stroke-width="1.5"/>
<line x1="67" y1="1205.5" x2="73" y2="1205.5" stroke="#000" stroke-width="1.5"/>
<line x1="67" y1="1199.4" x2="70.3" y2="1199.4" stroke="#000" stroke-width="1.5"/>
<line x1="67" y1="1193.3" x2="70.3" y2="1193.3" stroke="#000" stroke-width="1.5"/>
<line x1="67" y1="1187.2" x2="70.3" y2="1187.2" stroke="#000" stroke-width="1.5"/>
<line x1="67" y1="1181.2" x2="73" y2="1181.2" stroke="#000" stroke-width="1.5"/>
<line x1="67" y1="1175.1" x2="70.3" y2="1175.1" stroke="#000" stroke-width="1.5"/>
<line x1="67" y1="1169" x2="70.3" y2="1169" stroke="#000" stroke-width="1.5"/>
<line x1="67" y1="1162.9" x2="70.3" y2="1162.9" stroke="#000" stroke-width="1.5"/>
<line x1="67" y1="1156.8" x2="73" y2="1156.8" stroke="#000" stroke-width="1.5"/>
<line x1="67" y1="1150.8" x2="70.3" y2="1150.8" stroke="#000" stroke-width="1.5"/>
<line x1="67" y1="1144.7" x2="70.3" y2="1144.7" stroke="#000" stroke-width="1.5"/>
<line x1="67" y1="1138.6" x2="70.3" y2="1138.6" stroke="#000" stroke-width="1.5"/>
<line x1="67" y1="1132.5" x2="73" y2="1132.5" stroke="#000" stroke-width="1.5"/>
<line x1="67" y1="1126.4" x2="70.3" y2="1126.4" stroke="#000" stroke-width="1.5"/>
<line x1="67" y1="1120.3" x2="70.3" y2="1120.3" stroke="#000" stroke-width="1.5"/>
<line x1="67" y1="1114.2" x2="70.3" y2="1114.2" stroke="#000" stroke-width="1.5"/>
<line x1="67" y1="1108.2" x2="73" y2="1108.2" stroke="#000" stroke-width="1.5"/>
<line x1="67" y1="1102.1" x2="70.3" y2="1102.1" stroke="#000" stroke-width="1.5"/>
<line x1="67" y1="1096" x2="70.3" y2="1096" stroke="#000" stroke-width="1.5"/>
<line x1="67" y1="1089.9" x2="70.3" y2="1089.9" stroke="#000" stroke-width="1.5"/>
<line x1="67" y1="1083.8" x2="73" y2="1083.8" stroke="#000" stroke-width="1.5"/>
<line x1="67" y1="1077.8" x2="70.3" y2="1077.8" stroke="#000" stroke-width="1.5"/>
<line x1="67" y1="1071.7" x2="70.3" y2="1071.7" stroke="#000" stroke-width="1.5"/>
<line x1="67" y1="1065.6" x2="70.3" y2="1065.6" stroke="#000" stroke-width="1.5"/>
<line x1="67" y1="1059.5" x2="73" y2="1059.5" stroke="#000" stroke-width="1.5"/>
<line x1="67" y1="1053.4" x2="70.3" y2="1053.4" stroke="#000" stroke-width="1.5"/>
<line x1="67" y1="1047.3" x2="70.3" y2="1047.3" stroke="#000" stroke-width="1.5"/>
<line x1="67" y1="1041.2" x2="70.3" y2="1041.2" stroke="#000" stroke-width="1.5"/>
<line x1="67" y1="1035.2" x2="73" y2="1035.2" stroke="#000" stroke-width="1.5"/>
<line x1="67" y1="1029.1" x2="70.3" y2="1029.1" stroke="#000" stroke-width="1.5"/>
<line x1="67" y1="1023" x2="70.3" y2="1023" stroke="#000" stroke-width="1.5"/>
<line x1="67" y1="1016.9" x2="70.3" y2="1016.9" stroke="#000" stroke-width="1.5"/>
<line x1="67" y1="1010.8" x2="73" y2="1010.8" stroke="#000" stroke-width="1.5"/>
<line x1="67" y1="1004.8" x2="70.3" y2="1004.8" stroke="#000" stroke-width="1.5"/>
<line x1="67" y1="998.7" x2="70.3" y2="998.7" stroke="#000" stroke-width="1.5"/>
<line x1="67" y1="992.6" x2="70.3" y2="992.6" stroke="#000" stroke-width="1.5"/>
<line x1="67" y1="986.5" x2="73" y2="986.5" stroke="#000" stroke-width="1.5"/>
<line x1="67" y1="980.4" x2="70.3" y2="980.4" stroke="#000" stroke-width="1.5"/>
<line x1="67" y1="974.3" x2="70.3" y2="974.3" stroke="#000" stroke-width="1.5"/>
<line x1="67" y1="968.2" x2="70.3" y2="968.2" stroke="#000" stroke-width="1.5"/>
<line x1="67" y1="962.2" x2="73" y2="962.2" stroke="#000" stroke-width="1.5"/>
<line x1="67" y1="956.1" x2="70.3" y2="956.1" stroke="#000" stroke-width="1.5"/>
<line x1="67" y1="950" x2="70.3" y2="950" stroke="#000" stroke-width="1.5"/>
<line x1="67" y1="943.9" x2="70.3" y2="943.9" stroke="#000" stroke-width="1.5"/>
<line x1="67" y1="937.8" x2="73" y2="937.8" stroke="#000" stroke-width="1.5"/>
<line x1="67" y1="931.8" x2="70.3" y2="931.8" stroke="#000" stroke-width="1.5"/>
<line x1="67" y1="925.7" x2="70.3" y2="925.7" stroke="#000" stroke-width="1.5"/>
<line x1="67" y1="919.6" x2="70.3" y2="919.6" stroke="#000" stroke-width="1.5"/>
<line x1="67" y1="913.5" x2="73" y2="913.5" stroke="#000" stroke-width="1.5"/>
<line x1="67" y1="907.4" x2="70.3" y2="907.4" stroke="#000" stroke-width="1.5"/>
<line x1="67" y1="901.3" x2="70.3" y2="901.3" stroke="#000" stroke-width="1.5"/>
<line x1="67" y1="895.2" x2="70.3" y2="895.2" stroke="#000" stroke-width="1.5"/>
<line x1="67" y1="889.2" x2="73" y2="889.2" stroke="#000" stroke-width="1.5"/>
<line x1="67" y1="883.1" x2="70.3" y2="883.1" stroke="#000" stroke-width="1.5"/>
<line x1="67" y1="877" x2="70.3" y2="877" stroke="#000" stroke-width="1.5"/>
<line x1="520" y1="1242" x2="514" y2="1242" stroke="#000" stroke-width="1.5"/>
<line x1="520" y1="1232.9" x2="516.7" y2="1232.9" stroke="#000" stroke-width="1.5"/>
<line x1="520" y1="1223.8" x2="516.7" y2="1223.8" stroke="#000" stroke-width="1.5"/>
<line x1="520" y1="1214.6" x2="516.7" y2="1214.6" stroke="#000" stroke-width="1.5"/>
<line x1="520" y1="1205.5" x2="514" y2="1205.5" stroke="#000" stroke-width="1.5"/>
<line x1="520" y1="1196.4" x2="516.7" y2="1196.4" stroke="#000" stroke-width="1.5"/>
<line x1="520" y1="1187.2" x2="516.7" y2="1187.2" stroke="#000" stroke-width="1.5"/>
<line x1="520" y1="1178.1" x2="516.7" y2="1178.1" stroke="#000" stroke-width="1.5"/>
<line x1="520" y1="1169" x2="514" y2="1169" stroke="#000" stroke-width="1.5"/>
<line x1="520" y1="1159.9" x2="516.7" y2="1159.9" stroke="#000" stroke-width="1.5"/>
<line x1="520" y1="1150.8" x2="516.7" y2="1150.8" stroke="#000" stroke-width="1.5"/>
<line x1="520" y1="1141.6" x2="516.7" y2="1141.6" stroke="#000" stroke-width="1.5"/>
<line x1="520" y1="1132.5" x2="514" y2="1132.5" stroke="#000" stroke-width="1.5"/>
<line x1="520" y1="1123.4" x2="516.7" y2="1123.4" stroke="#000" stroke-width="1.5"/>
<line x1="520" y1="1114.2" x2="516.7" y2="1114.2" stroke="#000" stroke-width="1.5"/>
<line x1="520" y1="1105.1" x2="516.7" y2="1105.1" stroke="#000" stroke-width="1.5"/>
<line x1="520" y1="1096" x2="514" y2="1096" stroke="#000" stroke-width="1.5"/>
<line x1="520" y1="1086.9" x2="516.7" y2="1086.9" stroke="#000" stroke-width="1.5"/>
<line x1="520" y1="1077.8" x2="516.7" y2="1077.8" stroke="#000" stroke-width="1.5"/>
<line x1="520" y1="1068.6" x2="516.7" y2="1068.6" stroke="#000" stroke-width="1.5"/>
<line x1="520" y1="1059.5" x2="514" y2="1059.5" stroke="#000" stroke-width="1.5"/>
<line x1="520" y1="1050.4" x2="516.7" y2="1050.4" stroke="#000" stroke-width="1.5"/>
<line x1="520" y1="1041.2" x2="516.7" y2="1041.2" stroke="#000" stroke-width="1.5"/>
<line x1="520" y1="1032.1" x2="516.7" y2="1032.1" stroke="#000" stroke-width="1.5"/>
<line x1="520" y1="1023" x2="514" y2="1023" stroke="#000" stroke-width="1.5"/>
<line x1="520" y1="1013.9" x2="516.7" y2="1013.9" stroke="#000" stroke-width="1.5"/>
<line x1="520" y1="1004.8" x2="516.7" y2="1004.8" stroke="#000" stroke-width="1.5"/>
<line x1="520" y1="995.6" x2="516.7" y2="995.6" stroke="#000" stroke-width="1.5"/>
<line x1="520" y1="986.5" x2="514" y2="986.5" stroke="#000" stroke-width="1.5"/>
<line x1="520" y1="977.4" x2="516.7" y2="977.4" stroke="#000" stroke-width="1.5"/>
<line x1="520" y1="968.2" x2="516.7" y2="968.2" stroke="#000" stroke-width="1.5"/>
<line x1="520" y1="959.1" x2="516.7" y2="959.1" stroke="#000" stroke-width="1.5"/>
<line x1="520" y1="950" x2="514" y2="950" stroke="#000" stroke-width="1.5"/>
<line x1="520" y1="940.9" x2="516.7" y2="940.9" stroke="#000" stroke-width="1.5"/>
<line x1="520" y1="931.8" x2="516.7" y2="931.8" stroke="#000" stroke-width="1.5"/>
<line x1="520" y1="922.6" x2="516.7" y2="922.6" stroke="#000" stroke-width="1.5"/>
<line x1="520" y1="913.5" x2="514" y2="913.5" stroke="#000" stroke-width="1.5"/>
<line x1="520" y1="904.4" x2="516.7" y2="904.4" stroke="#000" stroke-width="1.5"/>
<line x1="520" y1="895.2" x2="516.7" y2="895.2" stroke="#000" stroke-width="1.5"/>
<line x1="520" y1="886.1" x2="516.7" y2="886.1" stroke="#000" stroke-width="1.5"/>
<line x1="520" y1="877" x2="514" y2="877" stroke="#000" stroke-width="1.5"/>
<line x1="67" y1="1242" x2="67" y2="1236" stroke="#000" stroke-width="1.5"/>
<line x1="67" y1="877" x2="67" y2="883" stroke="#000" stroke-width="1.5"/>
<line x1="78.3" y1="1242" x2="78.3" y2="1238.7" stroke="#000" stroke-width="1.5"/>
<line x1="78.3" y1="877" x2="78.3" y2="880.3" stroke="#000" stroke-width="1.5"/>
<line x1="89.7" y1="1242" x2="89.7" y2="1238.7" stroke="#000" stroke-width="1.5"/>
<line x1="89.7" y1="877" x2="89.7" y2="880.3" stroke="#000" stroke-width="1.5"/>
<line x1="101" y1="1242" x2="101" y2="1238.7" stroke="#000" stroke-width="1.5"/>
<line x1="101" y1="877" x2="101" y2="880.3" stroke="#000" stroke-width="1.5"/>
<line x1="112.3" y1="1242" x2="112.3" y2="1236" stroke="#000" stroke-width="1.5"/>
<line x1="112.3" y1="877" x2="112.3" y2="883" stroke="#000" stroke-width="1.5"/>
<line x1="123.6" y1="1242" x2="123.6" y2="1238.7" stroke="#000" stroke-width="1.5"/>
<line x1="123.6" y1="877" x2="123.6" y2="880.3" stroke="#000" stroke-width="1.5"/>
<line x1="134.9" y1="1242" x2="134.9" y2="1238.7" stroke="#000" stroke-width="1.5"/>
<line x1="134.9" y1="877" x2="134.9" y2="880.3" stroke="#000" stroke-width="1.5"/>
<line x1="146.3" y1="1242" x2="146.3" y2="1238.7" stroke="#000" stroke-width="1.5"/>
<line x1="146.3" y1="877" x2="146.3" y2="880.3" stroke="#000" stroke-width="1.5"/>
<line x1="157.6" y1="1242" x2="157.6" y2="1236" stroke="#000" stroke-width="1.5"/>
<line x1="157.6" y1="877" x2="157.6" y2="883" stroke="#000" stroke-width="1.5"/>
<line x1="168.9" y1="1242" x2="168.9" y2="1238.7" stroke="#000" stroke-width="1.5"/>
<line x1="168.9" y1="877" x2="168.9" y2="880.3" stroke="#000" stroke-width="1.5"/>
<line x1="180.2" y1="1242" x2="180.2" y2="1238.7" stroke="#000" stroke-width="1.5"/>
<line x1="180.2" y1="877" x2="180.2" y2="880.3" stroke="#000" stroke-width="1.5"/>
<line x1="191.6" y1="1242" x2="191.6" y2="1238.7" stroke="#000" stroke-width="1.5"/>
<line x1="191.6" y1="877" x2="191.6" y2="880.3" stroke="#000" stroke-width="1.5"/>
<line x1="202.9" y1="1242" x2="202.9" y2="1236" stroke="#000" stroke-width="1.5"/>
<line x1="202.9" y1="877" x2="202.9" y2="883" stroke="#000" stroke-width="1.5"/>
<line x1="214.2" y1="1242" x2="214.2" y2="1238.7" stroke="#000" stroke-width="1.5"/>
<line x1="214.2" y1="877" x2="214.2" y2="880.3" stroke="#000" stroke-width="1.5"/>
<line x1="225.5" y1="1242" x2="225.5" y2="1238.7" stroke="#000" stroke-width="1.5"/>
<line x1="225.5" y1="877" x2="225.5" y2="880.3" stroke="#000" stroke-width="1.5"/>
<line x1="236.9" y1="1242" x2="236.9" y2="1238.7" stroke="#000" stroke-width="1.5"/>
<line x1="236.9" y1="877" x2="236.9" y2="880.3" stroke="#000" stroke-width="1.5"/>
<line x1="248.2" y1="1242" x2="248.2" y2="1236" stroke="#000" stroke-width="1.5"/>
<line x1="248.2" y1="877" x2="248.2" y2="883" stroke="#000" stroke-width="1.5"/>
<line x1="259.5" y1="1242" x2="259.5" y2="1238.7" stroke="#000" stroke-width="1.5"/>
<line x1="259.5" y1="877" x2="259.5" y2="880.3" stroke="#000" stroke-width="1.5"/>
<line x1="270.9" y1="1242" x2="270.9" y2="1238.7" stroke="#000" stroke-width="1.5"/>
<line x1="270.9" y1="877" x2="270.9" y2="880.3" stroke="#000" stroke-width="1.5"/>
<line x1="282.2" y1="1242" x2="282.2" y2="1238.7" stroke="#000" stroke-width="1.5"/>
<line x1="282.2" y1="877" x2="282.2" y2="880.3" stroke="#000" stroke-width="1.5"/>
<line x1="293.5" y1="1242" x2="293.5" y2="1236" stroke="#000" stroke-width="1.5"/>
<line x1="293.5" y1="877" x2="293.5" y2="883" stroke="#000" stroke-width="1.5"/>
<line x1="304.8" y1="1242" x2="304.8" y2="1238.7" stroke="#000" stroke-width="1.5"/>
<line x1="304.8" y1="877" x2="304.8" y2="880.3" stroke="#000" stroke-width="1.5"/>
<line x1="316.2" y1="1242" x2="316.2" y2="1238.7" stroke="#000" stroke-width="1.5"/>
<line x1="316.2" y1="877" x2="316.2" y2="880.3" stroke="#000" stroke-width="1.5"/>
<line x1="327.5" y1="1242" x2="327.5" y2="1238.7" stroke="#000" stroke-width="1.5"/>
<line x1="327.5" y1="877" x2="327.5" y2="880.3" stroke="#000" stroke-width="1.5"/>
<line x1="338.8" y1="1242" x2="338.8" y2="1236" stroke="#000" stroke-width="1.5"/>
<line x1="338.8" y1="877" x2="338.8" y2="883" stroke="#000" stroke-width="1.5"/>
<line x1="350.1" y1="1242" x2="350.1" y2="1238.7" stroke="#000" stroke-width="1.5"/>
<line x1="350.1" y1="877" x2="350.1" y2="880.3" stroke="#000" stroke-width="1.5"/>
<line x1="361.4" y1="1242" x2="361.4" y2="1238.7" stroke="#000" stroke-width="1.5"/>
<line x1="361.4" y1="877" x2="361.4" y2="880.3" stroke="#000" stroke-width="1.5"/>
<line x1="372.8" y1="1242" x2="372.8" y2="1238.7" stroke="#000" stroke-width="1.5"/>
<line x1="372.8" y1="877" x2="372.8" y2="880.3" stroke="#000" stroke-width="1.5"/>
<line x1="384.1" y1="1242" x2="384.1" y2="1236" stroke="#000" stroke-width="1.5"/>
<line x1="384.1" y1="877" x2="384.1" y2="883" stroke="#000" stroke-width="1.5"/>
<line x1="395.4" y1="1242" x2="395.4" y2="1238.7" stroke="#000" stroke-width="1.5"/>
<line x1="395.4" y1="877" x2="395.4" y2="880.3" stroke="#000" stroke-width="1.5"/>
<line x1="406.8" y1="1242" x2="406.8" y2="1238.7" stroke="#000" stroke-width="1.5"/>
<line x1="406.8" y1="877" x2="406.8" y2="880.3" stroke="#000" stroke-width="1.5"/>
<line x1="418.1" y1="1242" x2="418.1" y2="1238.7" stroke="#000" stroke-width="1.5"/>
<line x1="418.1" y1="877" x2="418.1" y2="880.3" stroke="#000" stroke-width="1.5"/>
<line x1="429.4" y1="1242" x2="429.4" y2="1236" stroke="#000" stroke-width="1.5"/>
<line x1="429.4" y1="877" x2="429.4" y2="883" stroke="#000" stroke-width="1.5"/>
<line x1="440.7" y1="1242" x2="440.7" y2="1238.7" stroke="#000" stroke-width="1.5"/>
<line x1="440.7" y1="877" x2="440.7" y2="880.3" stroke="#000" stroke-width="1.5"/>
<line x1="452.1" y1="1242" x2="452.1" y2="1238.7" stroke="#000" stroke-width="1.5"/>
<line x1="452.1" y1="877" x2="452.1" y2="880.3" stroke="#000" stroke-width="1.5"/>
<line x1="463.4" y1="1242" x2="463.4" y2="1238.7" stroke="#000" stroke-width="1.5"/>
<line x1="463.4" y1="877" x2="463.4" y2="880.3" stroke="#000" stroke-width="1.5"/>
<line x1="474.7" y1="1242" x2="474.7" y2="1236" stroke="#000" stroke-width="1.5"/>
<line x1="474.7" y1="877" x2="474.7" y2="883" stroke="#000" stroke-width="1.5"/>
<line x1="486" y1="1242" x2="486" y2="1238.7" stroke="#000" stroke-width="1.5"/>
<line x1="486" y1="877" x2="486" y2="880.3" stroke="#000" stroke-width="1.5"/>
<line x1="497.3" y1="1242" x2="497.3" y2="1238.7" stroke="#000" stroke-width="1.5"/>
<line x1="497.3" y1="877" x2="497.3" y2="880.3" stroke="#000" stroke-width="1.5"/>
<line x1="508.7" y1="1242" x2="508.7" y2="1238.7" stroke="#000" stroke-width="1.5"/>
<line x1="508.7" y1="877" x2="508.7" y2="880.3" stroke="#000" stroke-width="1.5"/>
<line x1="520" y1="1242" x2="520" y2="1236" stroke="#000" stroke-width="1.5"/>
<line x1="520" y1="877" x2="520" y2="883" stroke="#000" stroke-width="1.5"/>
<rect x="67" y="877" width="453" height="365" fill="none" stroke="#000" stroke-width="1.8"/>
<text x="58.8" y="1236.2" font-size="16" text-anchor="end" font-weight="normal">−14</text>
<text x="58.8" y="1211.8" font-size="16" text-anchor="end" font-weight="normal">−12</text>
<text x="58.8" y="1187.5" font-size="16" text-anchor="end" font-weight="normal">−10</text>
<text x="58.8" y="1163.2" font-size="16" text-anchor="end" font-weight="normal">−8</text>
<text x="58.8" y="1138.8" font-size="16" text-anchor="end" font-weight="normal">−6</text>
<text x="58.8" y="1114.5" font-size="16" text-anchor="end" font-weight="normal">−4</text>
<text x="58.8" y="1090.2" font-size="16" text-anchor="end" font-weight="normal">−2</text>
<text x="58.8" y="1065.8" font-size="16" text-anchor="end" font-weight="normal">0</text>
<text x="58.8" y="1041.5" font-size="16" text-anchor="end" font-weight="normal">2</text>
<text x="58.8" y="1017.2" font-size="16" text-anchor="end" font-weight="normal">4</text>
<text x="58.8" y="992.8" font-size="16" text-anchor="end" font-weight="normal">6</text>
<text x="58.8" y="968.5" font-size="16" text-anchor="end" font-weight="normal">8</text>
<text x="58.8" y="944.2" font-size="16" text-anchor="end" font-weight="normal">10</text>
<text x="58.8" y="919.8" font-size="16" text-anchor="end" font-weight="normal">12</text>
<text x="58.8" y="895.5" font-size="16" text-anchor="end" font-weight="normal">14</text>
<text x="527.3" y="1248.3" font-size="16" text-anchor="start" font-weight="normal">−100</text>
<text x="527.3" y="1211.8" font-size="16" text-anchor="start" font-weight="normal">−80</text>
<text x="527.3" y="1175.3" font-size="16" text-anchor="start" font-weight="normal">−60</text>
<text x="527.3" y="1138.8" font-size="16" text-anchor="start" font-weight="normal">−40</text>
<text x="527.3" y="1102.3" font-size="16" text-anchor="start" font-weight="normal">−20</text>
<text x="527.3" y="1065.8" font-size="16" text-anchor="start" font-weight="normal">0</text>
<text x="527.3" y="1029.3" font-size="16" text-anchor="start" font-weight="normal">20</text>
<text x="527.3" y="992.8" font-size="16" text-anchor="start" font-weight="normal">40</text>
<text x="527.3" y="956.3" font-size="16" text-anchor="start" font-weight="normal">60</text>
<text x="527.3" y="919.8" font-size="16" text-anchor="start" font-weight="normal">80</text>
<text x="527.3" y="883.3" font-size="16" text-anchor="start" font-weight="normal">100</text>
<text x="67" y="1263.7" font-size="16" text-anchor="middle" font-weight="normal">0</text>
<text x="112.3" y="1263.7" font-size="16" text-anchor="middle" font-weight="normal">100</text>
<text x="157.6" y="1263.7" font-size="16" text-anchor="middle" font-weight="normal">200</text>
<text x="202.9" y="1263.7" font-size="16" text-anchor="middle" font-weight="normal">300</text>
<text x="248.2" y="1263.7" font-size="16" text-anchor="middle" font-weight="normal">400</text>
<text x="293.5" y="1263.7" font-size="16" text-anchor="middle" font-weight="normal">500</text>
<text x="338.8" y="1263.7" font-size="16" text-anchor="middle" font-weight="normal">600</text>
<text x="384.1" y="1263.7" font-size="16" text-anchor="middle" font-weight="normal">700</text>
<text x="429.4" y="1263.7" font-size="16" text-anchor="middle" font-weight="normal">800</text>
<text x="474.7" y="1263.7" font-size="16" text-anchor="middle" font-weight="normal">900</text>
<text x="520" y="1263.7" font-size="16" text-anchor="middle" font-weight="normal">1000</text>
<text x="293.6" y="1291.4" font-size="19.5" text-anchor="middle" font-weight="normal">Time (μs)</text>
<text x="14.5" y="1052" font-size="19.2" text-anchor="middle" font-weight="normal" transform="rotate(-90 14.5 1052)">Applied voltage (kV)</text>
<text x="580.5" y="1060" font-size="19" text-anchor="middle" font-weight="normal" transform="rotate(-90 580.5 1060)">Applied current (A)</text>
<text x="92.3" y="909" font-size="21" text-anchor="start" font-weight="bold">(c)</text>
</svg></body></html>
